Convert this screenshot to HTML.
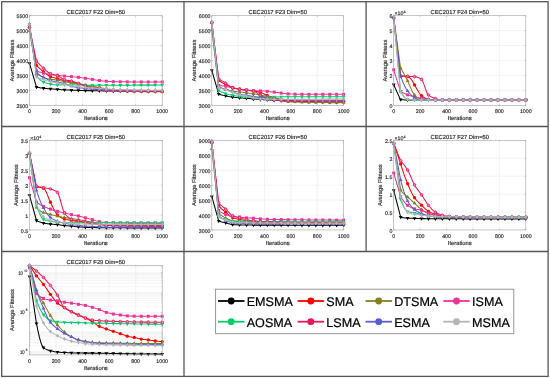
<!DOCTYPE html>
<html><head><meta charset="utf-8"><style>
html,body{margin:0;padding:0;background:#fff;}
svg{display:block;will-change:transform;filter:blur(0.3px);}
text{font-family:"Liberation Sans",sans-serif;text-rendering:geometricPrecision;}
.s{stroke:#303030;stroke-width:0.16px;}
</style></head><body>
<svg width="550" height="378" viewBox="0 0 550 378">
<rect width="550" height="378" fill="#fff"/>
<line x1="29.50" y1="90.37" x2="162.20" y2="90.37" stroke="#e6e6e6" stroke-width="0.5"/>
<line x1="29.50" y1="75.43" x2="162.20" y2="75.43" stroke="#e6e6e6" stroke-width="0.5"/>
<line x1="29.50" y1="60.50" x2="162.20" y2="60.50" stroke="#e6e6e6" stroke-width="0.5"/>
<line x1="29.50" y1="45.57" x2="162.20" y2="45.57" stroke="#e6e6e6" stroke-width="0.5"/>
<line x1="29.50" y1="30.63" x2="162.20" y2="30.63" stroke="#e6e6e6" stroke-width="0.5"/>
<line x1="56.04" y1="15.70" x2="56.04" y2="105.30" stroke="#e6e6e6" stroke-width="0.5"/>
<line x1="82.58" y1="15.70" x2="82.58" y2="105.30" stroke="#e6e6e6" stroke-width="0.5"/>
<line x1="109.12" y1="15.70" x2="109.12" y2="105.30" stroke="#e6e6e6" stroke-width="0.5"/>
<line x1="135.66" y1="15.70" x2="135.66" y2="105.30" stroke="#e6e6e6" stroke-width="0.5"/>
<path d="M29.5 63.3L36.5 87.2L37.9 87.4L39.3 87.6L40.7 87.9L42.1 88.0L43.6 88.2L45.0 88.4L46.4 88.5L47.8 88.7L49.2 88.8L50.6 88.9L52.0 89.0L53.4 89.1L54.9 89.2L56.3 89.3L57.7 89.4L59.1 89.5L60.5 89.6L61.9 89.7L63.3 89.7L64.7 89.8L66.2 89.9L67.6 90.0L69.0 90.1L70.4 90.2L71.8 90.2L73.2 90.3L74.6 90.3L76.0 90.3L77.5 90.4L78.9 90.4L80.3 90.4L81.7 90.5L83.1 90.5L84.5 90.5L85.9 90.6L87.3 90.6L88.8 90.6L90.2 90.6L91.6 90.7L93.0 90.7L94.4 90.7L95.8 90.7L97.2 90.8L98.6 90.8L100.1 90.8L101.5 90.8L102.9 90.9L104.3 90.9L105.7 90.9L107.1 90.9L108.5 90.9L109.9 91.0L111.4 91.0L112.8 91.0L114.2 91.0L115.6 91.0L117.0 91.1L118.4 91.1L119.8 91.1L121.2 91.1L122.7 91.1L124.1 91.1L125.5 91.1L126.9 91.2L128.3 91.2L129.7 91.2L131.1 91.2L132.5 91.2L134.0 91.2L135.4 91.3L136.8 91.3L138.2 91.3L139.6 91.3L141.0 91.3L142.4 91.3L143.8 91.3L145.3 91.4L146.7 91.4L148.1 91.4L149.5 91.4L150.9 91.4L152.3 91.4L153.7 91.4L155.1 91.4L156.6 91.5L158.0 91.5L159.4 91.5L160.8 91.5L162.2 91.5" fill="none" stroke="#000000" stroke-width="1.05" stroke-linejoin="round"/>
<path d="M27.59 62.20L31.41 62.20L29.50 65.50Z" fill="#000000"/>
<path d="M34.57 86.05L38.40 86.05L36.48 89.35Z" fill="#000000"/>
<path d="M41.55 87.11L45.38 87.11L43.47 90.41Z" fill="#000000"/>
<path d="M48.54 87.80L52.37 87.80L50.45 91.10Z" fill="#000000"/>
<path d="M55.52 88.30L59.35 88.30L57.44 91.60Z" fill="#000000"/>
<path d="M62.51 88.70L66.34 88.70L64.42 92.00Z" fill="#000000"/>
<path d="M69.49 89.10L73.32 89.10L71.41 92.40Z" fill="#000000"/>
<path d="M76.48 89.30L80.30 89.30L78.39 92.60Z" fill="#000000"/>
<path d="M83.46 89.46L87.29 89.46L85.37 92.76Z" fill="#000000"/>
<path d="M90.44 89.59L94.27 89.59L92.36 92.89Z" fill="#000000"/>
<path d="M97.43 89.71L101.26 89.71L99.34 93.01Z" fill="#000000"/>
<path d="M104.41 89.81L108.24 89.81L106.33 93.11Z" fill="#000000"/>
<path d="M111.40 89.90L115.22 89.90L113.31 93.20Z" fill="#000000"/>
<path d="M118.38 89.99L122.21 89.99L120.29 93.29Z" fill="#000000"/>
<path d="M125.36 90.07L129.19 90.07L127.28 93.37Z" fill="#000000"/>
<path d="M132.35 90.15L136.18 90.15L134.26 93.45Z" fill="#000000"/>
<path d="M139.33 90.22L143.16 90.22L141.25 93.52Z" fill="#000000"/>
<path d="M146.32 90.28L150.15 90.28L148.23 93.58Z" fill="#000000"/>
<path d="M153.30 90.35L157.13 90.35L155.22 93.65Z" fill="#000000"/>
<path d="M160.29 90.40L164.11 90.40L162.20 93.70Z" fill="#000000"/>
<path d="M29.5 27.5L36.5 65.5L37.9 66.8L39.3 68.1L40.7 69.4L42.1 70.6L43.6 71.7L45.0 72.9L46.4 74.0L47.8 75.1L49.2 76.0L50.6 76.7L52.0 77.2L53.4 77.6L54.9 77.9L56.3 78.3L57.7 78.7L59.1 79.1L60.5 79.5L61.9 79.9L63.3 80.3L64.7 80.7L66.2 81.0L67.6 81.3L69.0 81.6L70.4 81.9L71.8 82.2L73.2 82.5L74.6 82.8L76.0 83.1L77.5 83.4L78.9 83.7L80.3 84.0L81.7 84.3L83.1 84.6L84.5 84.9L85.9 85.1L87.3 85.4L88.8 85.7L90.2 86.0L91.6 86.2L93.0 86.5L94.4 86.8L95.8 87.0L97.2 87.3L98.6 87.5L100.1 87.8L101.5 88.1L102.9 88.3L104.3 88.6L105.7 88.9L107.1 89.2L108.5 89.4L109.9 89.6L111.4 89.8L112.8 89.9L114.2 90.1L115.6 90.2L117.0 90.3L118.4 90.3L119.8 90.4L121.2 90.5L122.7 90.6L124.1 90.6L125.5 90.7L126.9 90.7L128.3 90.8L129.7 90.8L131.1 90.8L132.5 90.9L134.0 90.9L135.4 90.9L136.8 90.9L138.2 91.0L139.6 91.0L141.0 91.0L142.4 91.0L143.8 91.1L145.3 91.1L146.7 91.1L148.1 91.1L149.5 91.1L150.9 91.1L152.3 91.2L153.7 91.2L155.1 91.2L156.6 91.2L158.0 91.2L159.4 91.2L160.8 91.2L162.2 91.2" fill="none" stroke="#ff0000" stroke-width="1.05" stroke-linejoin="round"/>
<circle cx="29.50" cy="27.50" r="1.65" fill="#ff0000"/>
<circle cx="36.48" cy="65.41" r="1.65" fill="#ff0000"/>
<circle cx="43.47" cy="71.65" r="1.65" fill="#ff0000"/>
<circle cx="50.45" cy="76.62" r="1.65" fill="#ff0000"/>
<circle cx="57.44" cy="78.61" r="1.65" fill="#ff0000"/>
<circle cx="64.42" cy="80.61" r="1.65" fill="#ff0000"/>
<circle cx="71.41" cy="82.12" r="1.65" fill="#ff0000"/>
<circle cx="78.39" cy="83.62" r="1.65" fill="#ff0000"/>
<circle cx="85.37" cy="85.03" r="1.65" fill="#ff0000"/>
<circle cx="92.36" cy="86.38" r="1.65" fill="#ff0000"/>
<circle cx="99.34" cy="87.66" r="1.65" fill="#ff0000"/>
<circle cx="106.33" cy="89.01" r="1.65" fill="#ff0000"/>
<circle cx="113.31" cy="89.99" r="1.65" fill="#ff0000"/>
<circle cx="120.29" cy="90.44" r="1.65" fill="#ff0000"/>
<circle cx="127.28" cy="90.73" r="1.65" fill="#ff0000"/>
<circle cx="134.26" cy="90.89" r="1.65" fill="#ff0000"/>
<circle cx="141.25" cy="91.01" r="1.65" fill="#ff0000"/>
<circle cx="148.23" cy="91.11" r="1.65" fill="#ff0000"/>
<circle cx="155.22" cy="91.18" r="1.65" fill="#ff0000"/>
<circle cx="162.20" cy="91.20" r="1.65" fill="#ff0000"/>
<path d="M29.5 30.6L36.5 72.0L37.9 73.5L39.3 74.9L40.7 76.1L42.1 77.0L43.6 77.7L45.0 78.1L46.4 78.4L47.8 78.7L49.2 78.9L50.6 79.1L52.0 79.4L53.4 79.5L54.9 79.7L56.3 79.9L57.7 80.2L59.1 80.4L60.5 80.7L61.9 81.1L63.3 81.4L64.7 81.7L66.2 81.9L67.6 82.2L69.0 82.4L70.4 82.7L71.8 82.9L73.2 83.1L74.6 83.4L76.0 83.6L77.5 83.8L78.9 84.1L80.3 84.4L81.7 84.6L83.1 84.9L84.5 85.2L85.9 85.5L87.3 85.7L88.8 86.0L90.2 86.3L91.6 86.6L93.0 86.8L94.4 87.1L95.8 87.4L97.2 87.7L98.6 87.9L100.1 88.2L101.5 88.5L102.9 88.8L104.3 89.1L105.7 89.4L107.1 89.7L108.5 90.0L109.9 90.2L111.4 90.4L112.8 90.5L114.2 90.6L115.6 90.6L117.0 90.7L118.4 90.8L119.8 90.8L121.2 90.9L122.7 91.0L124.1 91.0L125.5 91.1L126.9 91.1L128.3 91.2L129.7 91.2L131.1 91.3L132.5 91.3L134.0 91.4L135.4 91.4L136.8 91.5L138.2 91.5L139.6 91.5L141.0 91.6L142.4 91.6L143.8 91.6L145.3 91.6L146.7 91.7L148.1 91.7L149.5 91.7L150.9 91.7L152.3 91.7L153.7 91.8L155.1 91.8L156.6 91.8L158.0 91.8L159.4 91.8L160.8 91.8L162.2 91.8" fill="none" stroke="#808020" stroke-width="1.05" stroke-linejoin="round"/>
<path d="M27.59 31.70L31.41 31.70L29.50 28.40Z" fill="#808020"/>
<path d="M34.57 73.01L38.40 73.01L36.48 69.71Z" fill="#808020"/>
<path d="M41.55 78.72L45.38 78.72L43.47 75.42Z" fill="#808020"/>
<path d="M48.54 80.21L52.37 80.21L50.45 76.91Z" fill="#808020"/>
<path d="M55.52 81.21L59.35 81.21L57.44 77.91Z" fill="#808020"/>
<path d="M62.51 82.70L66.34 82.70L64.42 79.40Z" fill="#808020"/>
<path d="M69.49 83.93L73.32 83.93L71.41 80.63Z" fill="#808020"/>
<path d="M76.48 85.12L80.30 85.12L78.39 81.82Z" fill="#808020"/>
<path d="M83.46 86.44L87.29 86.44L85.37 83.14Z" fill="#808020"/>
<path d="M90.44 87.82L94.27 87.82L92.36 84.52Z" fill="#808020"/>
<path d="M97.43 89.16L101.26 89.16L99.34 85.86Z" fill="#808020"/>
<path d="M104.41 90.65L108.24 90.65L106.33 87.35Z" fill="#808020"/>
<path d="M111.40 91.62L115.22 91.62L113.31 88.32Z" fill="#808020"/>
<path d="M118.38 91.96L122.21 91.96L120.29 88.66Z" fill="#808020"/>
<path d="M125.36 92.25L129.19 92.25L127.28 88.95Z" fill="#808020"/>
<path d="M132.35 92.49L136.18 92.49L134.26 89.19Z" fill="#808020"/>
<path d="M139.33 92.67L143.16 92.67L141.25 89.37Z" fill="#808020"/>
<path d="M146.32 92.80L150.15 92.80L148.23 89.50Z" fill="#808020"/>
<path d="M153.30 92.88L157.13 92.88L155.22 89.58Z" fill="#808020"/>
<path d="M160.29 92.90L164.11 92.90L162.20 89.60Z" fill="#808020"/>
<path d="M29.5 27.5L36.5 70.9L37.9 71.4L39.3 71.9L40.7 72.3L42.1 72.8L43.6 73.1L45.0 73.5L46.4 73.8L47.8 74.1L49.2 74.4L50.6 74.6L52.0 74.8L53.4 74.9L54.9 75.1L56.3 75.2L57.7 75.3L59.1 75.5L60.5 75.7L61.9 75.8L63.3 76.0L64.7 76.1L66.2 76.2L67.6 76.3L69.0 76.4L70.4 76.5L71.8 76.6L73.2 76.8L74.6 76.9L76.0 77.0L77.5 77.2L78.9 77.4L80.3 77.6L81.7 77.8L83.1 78.0L84.5 78.2L85.9 78.4L87.3 78.6L88.8 78.8L90.2 79.1L91.6 79.3L93.0 79.5L94.4 79.7L95.8 80.0L97.2 80.2L98.6 80.4L100.1 80.5L101.5 80.7L102.9 80.9L104.3 81.0L105.7 81.2L107.1 81.3L108.5 81.4L109.9 81.5L111.4 81.6L112.8 81.7L114.2 81.7L115.6 81.7L117.0 81.7L118.4 81.8L119.8 81.8L121.2 81.8L122.7 81.8L124.1 81.8L125.5 81.8L126.9 81.9L128.3 81.9L129.7 81.9L131.1 81.9L132.5 81.9L134.0 81.9L135.4 81.9L136.8 81.9L138.2 81.9L139.6 81.9L141.0 82.0L142.4 82.0L143.8 82.0L145.3 82.0L146.7 82.0L148.1 82.0L149.5 82.0L150.9 82.0L152.3 82.0L153.7 82.0L155.1 82.0L156.6 82.0L158.0 82.0L159.4 82.0L160.8 82.0L162.2 82.0" fill="none" stroke="#ee3399" stroke-width="1.05" stroke-linejoin="round"/>
<rect x="28.00" y="26.00" width="3.00" height="3.00" fill="#ee3399"/>
<rect x="34.98" y="69.30" width="3.00" height="3.00" fill="#ee3399"/>
<rect x="41.97" y="71.62" width="3.00" height="3.00" fill="#ee3399"/>
<rect x="48.95" y="73.11" width="3.00" height="3.00" fill="#ee3399"/>
<rect x="55.94" y="73.80" width="3.00" height="3.00" fill="#ee3399"/>
<rect x="62.92" y="74.60" width="3.00" height="3.00" fill="#ee3399"/>
<rect x="69.91" y="75.11" width="3.00" height="3.00" fill="#ee3399"/>
<rect x="76.89" y="75.81" width="3.00" height="3.00" fill="#ee3399"/>
<rect x="83.87" y="76.80" width="3.00" height="3.00" fill="#ee3399"/>
<rect x="90.86" y="77.91" width="3.00" height="3.00" fill="#ee3399"/>
<rect x="97.84" y="78.94" width="3.00" height="3.00" fill="#ee3399"/>
<rect x="104.83" y="79.71" width="3.00" height="3.00" fill="#ee3399"/>
<rect x="111.81" y="80.20" width="3.00" height="3.00" fill="#ee3399"/>
<rect x="118.79" y="80.29" width="3.00" height="3.00" fill="#ee3399"/>
<rect x="125.78" y="80.36" width="3.00" height="3.00" fill="#ee3399"/>
<rect x="132.76" y="80.42" width="3.00" height="3.00" fill="#ee3399"/>
<rect x="139.75" y="80.46" width="3.00" height="3.00" fill="#ee3399"/>
<rect x="146.73" y="80.48" width="3.00" height="3.00" fill="#ee3399"/>
<rect x="153.72" y="80.50" width="3.00" height="3.00" fill="#ee3399"/>
<rect x="160.70" y="80.50" width="3.00" height="3.00" fill="#ee3399"/>
<path d="M29.5 24.3L36.5 75.6L37.9 77.3L39.3 78.9L40.7 80.3L42.1 81.4L43.6 82.2L45.0 82.7L46.4 83.1L47.8 83.5L49.2 83.8L50.6 84.0L52.0 84.3L53.4 84.6L54.9 84.8L56.3 85.0L57.7 85.0L59.1 85.0L60.5 84.9L61.9 84.8L63.3 84.7L64.7 84.7L66.2 84.7L67.6 84.7L69.0 84.7L70.4 84.7L71.8 84.7L73.2 84.7L74.6 84.8L76.0 84.9L77.5 85.0L78.9 85.0L80.3 85.0L81.7 85.1L83.1 85.1L84.5 85.1L85.9 85.1L87.3 85.2L88.8 85.2L90.2 85.2L91.6 85.2L93.0 85.2L94.4 85.2L95.8 85.2L97.2 85.2L98.6 85.2L100.1 85.2L101.5 85.2L102.9 85.2L104.3 85.2L105.7 85.2L107.1 85.2L108.5 85.2L109.9 85.2L111.4 85.2L112.8 85.2L114.2 85.2L115.6 85.2L117.0 85.2L118.4 85.2L119.8 85.2L121.2 85.2L122.7 85.2L124.1 85.2L125.5 85.2L126.9 85.2L128.3 85.2L129.7 85.2L131.1 85.2L132.5 85.2L134.0 85.2L135.4 85.2L136.8 85.1L138.2 85.1L139.6 85.1L141.0 85.1L142.4 85.1L143.8 85.1L145.3 85.1L146.7 85.1L148.1 85.1L149.5 85.1L150.9 85.1L152.3 85.1L153.7 85.1L155.1 85.1L156.6 85.0L158.0 85.0L159.4 85.0L160.8 85.0L162.2 85.0" fill="none" stroke="#00cc66" stroke-width="1.05" stroke-linejoin="round"/>
<path d="M27.59 23.20L31.41 23.20L29.50 26.50Z" fill="#00cc66"/>
<path d="M34.57 74.38L38.40 74.38L36.48 77.68Z" fill="#00cc66"/>
<path d="M41.55 81.03L45.38 81.03L43.47 84.33Z" fill="#00cc66"/>
<path d="M48.54 82.91L52.37 82.91L50.45 86.21Z" fill="#00cc66"/>
<path d="M55.52 83.90L59.35 83.90L57.44 87.20Z" fill="#00cc66"/>
<path d="M62.51 83.60L66.34 83.60L64.42 86.90Z" fill="#00cc66"/>
<path d="M69.49 83.60L73.32 83.60L71.41 86.90Z" fill="#00cc66"/>
<path d="M76.48 83.90L80.30 83.90L78.39 87.20Z" fill="#00cc66"/>
<path d="M83.46 84.04L87.29 84.04L85.37 87.34Z" fill="#00cc66"/>
<path d="M90.44 84.10L94.27 84.10L92.36 87.40Z" fill="#00cc66"/>
<path d="M97.43 84.10L101.26 84.10L99.34 87.40Z" fill="#00cc66"/>
<path d="M104.41 84.10L108.24 84.10L106.33 87.40Z" fill="#00cc66"/>
<path d="M111.40 84.09L115.22 84.09L113.31 87.39Z" fill="#00cc66"/>
<path d="M118.38 84.09L122.21 84.09L120.29 87.39Z" fill="#00cc66"/>
<path d="M125.36 84.08L129.19 84.08L127.28 87.38Z" fill="#00cc66"/>
<path d="M132.35 84.06L136.18 84.06L134.26 87.36Z" fill="#00cc66"/>
<path d="M139.33 84.03L143.16 84.03L141.25 87.33Z" fill="#00cc66"/>
<path d="M146.32 84.00L150.15 84.00L148.23 87.30Z" fill="#00cc66"/>
<path d="M153.30 83.95L157.13 83.95L155.22 87.25Z" fill="#00cc66"/>
<path d="M160.29 83.90L164.11 83.90L162.20 87.20Z" fill="#00cc66"/>
<path d="M29.5 27.5L36.5 61.0L37.9 62.6L39.3 64.1L40.7 65.6L42.1 67.0L43.6 68.2L45.0 69.5L46.4 70.8L47.8 72.0L49.2 73.0L50.6 73.7L52.0 74.2L53.4 74.5L54.9 74.9L56.3 75.2L57.7 75.7L59.1 76.5L60.5 77.4L61.9 78.3L63.3 79.2L64.7 79.7L66.2 80.1L67.6 80.4L69.0 80.6L70.4 80.9L71.8 81.2L73.2 81.6L74.6 82.0L76.0 82.5L77.5 82.9L78.9 83.4L80.3 84.0L81.7 84.6L83.1 85.1L84.5 85.7L85.9 86.2L87.3 86.6L88.8 87.1L90.2 87.5L91.6 87.9L93.0 88.3L94.4 88.6L95.8 88.9L97.2 89.2L98.6 89.4L100.1 89.6L101.5 89.8L102.9 90.0L104.3 90.2L105.7 90.3L107.1 90.4L108.5 90.6L109.9 90.7L111.4 90.7L112.8 90.8L114.2 90.8L115.6 90.9L117.0 90.9L118.4 90.9L119.8 91.0L121.2 91.0L122.7 91.0L124.1 91.1L125.5 91.1L126.9 91.1L128.3 91.2L129.7 91.2L131.1 91.2L132.5 91.2L134.0 91.3L135.4 91.3L136.8 91.3L138.2 91.3L139.6 91.4L141.0 91.4L142.4 91.4L143.8 91.4L145.3 91.4L146.7 91.4L148.1 91.4L149.5 91.5L150.9 91.5L152.3 91.5L153.7 91.5L155.1 91.5L156.6 91.5L158.0 91.5L159.4 91.5L160.8 91.5L162.2 91.5" fill="none" stroke="#e6195a" stroke-width="1.05" stroke-linejoin="round"/>
<circle cx="29.50" cy="27.50" r="1.3" fill="#f280a8" stroke="#e6195a" stroke-width="0.8"/>
<circle cx="36.48" cy="60.92" r="1.3" fill="#f280a8" stroke="#e6195a" stroke-width="0.8"/>
<circle cx="43.47" cy="68.16" r="1.3" fill="#f280a8" stroke="#e6195a" stroke-width="0.8"/>
<circle cx="50.45" cy="73.62" r="1.3" fill="#f280a8" stroke="#e6195a" stroke-width="0.8"/>
<circle cx="57.44" cy="75.61" r="1.3" fill="#f280a8" stroke="#e6195a" stroke-width="0.8"/>
<circle cx="64.42" cy="79.61" r="1.3" fill="#f280a8" stroke="#e6195a" stroke-width="0.8"/>
<circle cx="71.41" cy="81.13" r="1.3" fill="#f280a8" stroke="#e6195a" stroke-width="0.8"/>
<circle cx="78.39" cy="83.23" r="1.3" fill="#f280a8" stroke="#e6195a" stroke-width="0.8"/>
<circle cx="85.37" cy="85.99" r="1.3" fill="#f280a8" stroke="#e6195a" stroke-width="0.8"/>
<circle cx="92.36" cy="88.10" r="1.3" fill="#f280a8" stroke="#e6195a" stroke-width="0.8"/>
<circle cx="99.34" cy="89.55" r="1.3" fill="#f280a8" stroke="#e6195a" stroke-width="0.8"/>
<circle cx="106.33" cy="90.37" r="1.3" fill="#f280a8" stroke="#e6195a" stroke-width="0.8"/>
<circle cx="113.31" cy="90.81" r="1.3" fill="#f280a8" stroke="#e6195a" stroke-width="0.8"/>
<circle cx="120.29" cy="90.99" r="1.3" fill="#f280a8" stroke="#e6195a" stroke-width="0.8"/>
<circle cx="127.28" cy="91.15" r="1.3" fill="#f280a8" stroke="#e6195a" stroke-width="0.8"/>
<circle cx="134.26" cy="91.28" r="1.3" fill="#f280a8" stroke="#e6195a" stroke-width="0.8"/>
<circle cx="141.25" cy="91.37" r="1.3" fill="#f280a8" stroke="#e6195a" stroke-width="0.8"/>
<circle cx="148.23" cy="91.44" r="1.3" fill="#f280a8" stroke="#e6195a" stroke-width="0.8"/>
<circle cx="155.22" cy="91.49" r="1.3" fill="#f280a8" stroke="#e6195a" stroke-width="0.8"/>
<circle cx="162.20" cy="91.50" r="1.3" fill="#f280a8" stroke="#e6195a" stroke-width="0.8"/>
<path d="M29.5 24.3L36.5 74.1L37.9 74.7L39.3 75.3L40.7 75.9L42.1 76.5L43.6 77.2L45.0 77.9L46.4 78.7L47.8 79.5L49.2 80.2L50.6 80.7L52.0 81.0L53.4 81.3L54.9 81.6L56.3 81.9L57.7 82.2L59.1 82.4L60.5 82.7L61.9 83.0L63.3 83.3L64.7 83.7L66.2 84.2L67.6 84.8L69.0 85.4L70.4 85.9L71.8 86.3L73.2 86.7L74.6 87.0L76.0 87.3L77.5 87.6L78.9 87.8L80.3 88.0L81.7 88.1L83.1 88.3L84.5 88.4L85.9 88.6L87.3 88.7L88.8 88.9L90.2 89.0L91.6 89.1L93.0 89.2L94.4 89.3L95.8 89.4L97.2 89.4L98.6 89.5L100.1 89.5L101.5 89.6L102.9 89.6L104.3 89.7L105.7 89.7L107.1 89.8L108.5 89.8L109.9 89.8L111.4 89.9L112.8 89.9L114.2 89.9L115.6 90.0L117.0 90.0L118.4 90.0L119.8 90.0L121.2 90.1L122.7 90.1L124.1 90.1L125.5 90.1L126.9 90.2L128.3 90.2L129.7 90.2L131.1 90.2L132.5 90.2L134.0 90.3L135.4 90.3L136.8 90.3L138.2 90.3L139.6 90.3L141.0 90.3L142.4 90.4L143.8 90.4L145.3 90.4L146.7 90.4L148.1 90.4L149.5 90.4L150.9 90.4L152.3 90.4L153.7 90.5L155.1 90.5L156.6 90.5L158.0 90.5L159.4 90.5L160.8 90.5L162.2 90.5" fill="none" stroke="#5c5cd0" stroke-width="1.05" stroke-linejoin="round"/>
<path d="M27.59 25.40L31.41 25.40L29.50 22.10Z" fill="#5c5cd0"/>
<path d="M34.57 75.09L38.40 75.09L36.48 71.79Z" fill="#5c5cd0"/>
<path d="M41.55 78.23L45.38 78.23L43.47 74.93Z" fill="#5c5cd0"/>
<path d="M48.54 81.72L52.37 81.72L50.45 78.42Z" fill="#5c5cd0"/>
<path d="M55.52 83.21L59.35 83.21L57.44 79.91Z" fill="#5c5cd0"/>
<path d="M62.51 84.71L66.34 84.71L64.42 81.41Z" fill="#5c5cd0"/>
<path d="M69.49 87.33L73.32 87.33L71.41 84.03Z" fill="#5c5cd0"/>
<path d="M76.48 88.81L80.30 88.81L78.39 85.51Z" fill="#5c5cd0"/>
<path d="M83.46 89.64L87.29 89.64L85.37 86.34Z" fill="#5c5cd0"/>
<path d="M90.44 90.24L94.27 90.24L92.36 86.94Z" fill="#5c5cd0"/>
<path d="M97.43 90.61L101.26 90.61L99.34 87.31Z" fill="#5c5cd0"/>
<path d="M104.41 90.84L108.24 90.84L106.33 87.54Z" fill="#5c5cd0"/>
<path d="M111.40 91.02L115.22 91.02L113.31 87.72Z" fill="#5c5cd0"/>
<path d="M118.38 91.15L122.21 91.15L120.29 87.85Z" fill="#5c5cd0"/>
<path d="M125.36 91.26L129.19 91.26L127.28 87.96Z" fill="#5c5cd0"/>
<path d="M132.35 91.36L136.18 91.36L134.26 88.06Z" fill="#5c5cd0"/>
<path d="M139.33 91.44L143.16 91.44L141.25 88.14Z" fill="#5c5cd0"/>
<path d="M146.32 91.51L150.15 91.51L148.23 88.21Z" fill="#5c5cd0"/>
<path d="M153.30 91.57L157.13 91.57L155.22 88.27Z" fill="#5c5cd0"/>
<path d="M160.29 91.60L164.11 91.60L162.20 88.30Z" fill="#5c5cd0"/>
<path d="M29.5 24.3L36.5 77.1L37.9 77.7L39.3 78.2L40.7 78.7L42.1 79.2L43.6 79.7L45.0 80.1L46.4 80.5L47.8 80.9L49.2 81.3L50.6 81.7L52.0 82.0L53.4 82.2L54.9 82.5L56.3 82.8L57.7 83.1L59.1 83.4L60.5 83.7L61.9 84.0L63.3 84.3L64.7 84.6L66.2 84.8L67.6 85.0L69.0 85.3L70.4 85.5L71.8 85.7L73.2 85.9L74.6 86.0L76.0 86.2L77.5 86.4L78.9 86.6L80.3 86.7L81.7 86.9L83.1 87.1L84.5 87.2L85.9 87.4L87.3 87.5L88.8 87.7L90.2 87.8L91.6 87.9L93.0 88.1L94.4 88.2L95.8 88.3L97.2 88.4L98.6 88.5L100.1 88.6L101.5 88.6L102.9 88.7L104.3 88.8L105.7 88.9L107.1 89.0L108.5 89.0L109.9 89.1L111.4 89.2L112.8 89.2L114.2 89.3L115.6 89.4L117.0 89.4L118.4 89.5L119.8 89.5L121.2 89.6L122.7 89.6L124.1 89.7L125.5 89.7L126.9 89.7L128.3 89.8L129.7 89.8L131.1 89.8L132.5 89.8L134.0 89.9L135.4 89.9L136.8 89.9L138.2 90.0L139.6 90.0L141.0 90.0L142.4 90.0L143.8 90.0L145.3 90.1L146.7 90.1L148.1 90.1L149.5 90.1L150.9 90.1L152.3 90.2L153.7 90.2L155.1 90.2L156.6 90.2L158.0 90.2L159.4 90.2L160.8 90.2L162.2 90.2" fill="none" stroke="#b4b4b4" stroke-width="1.05" stroke-linejoin="round"/>
<path d="M29.50 22.20L31.10 24.30L29.50 26.40L27.90 24.30Z" fill="#b4b4b4"/>
<path d="M36.48 74.88L38.08 76.98L36.48 79.08L34.88 76.98Z" fill="#b4b4b4"/>
<path d="M43.47 77.52L45.07 79.62L43.47 81.72L41.87 79.62Z" fill="#b4b4b4"/>
<path d="M50.45 79.51L52.05 81.61L50.45 83.71L48.85 81.61Z" fill="#b4b4b4"/>
<path d="M57.44 80.91L59.04 83.01L57.44 85.11L55.84 83.01Z" fill="#b4b4b4"/>
<path d="M64.42 82.40L66.02 84.50L64.42 86.60L62.82 84.50Z" fill="#b4b4b4"/>
<path d="M71.41 83.51L73.01 85.61L71.41 87.71L69.81 85.61Z" fill="#b4b4b4"/>
<path d="M78.39 84.41L79.99 86.51L78.39 88.61L76.79 86.51Z" fill="#b4b4b4"/>
<path d="M85.37 85.20L86.97 87.30L85.37 89.40L83.77 87.30Z" fill="#b4b4b4"/>
<path d="M92.36 85.90L93.96 88.00L92.36 90.10L90.76 88.00Z" fill="#b4b4b4"/>
<path d="M99.34 86.42L100.94 88.52L99.34 90.62L97.74 88.52Z" fill="#b4b4b4"/>
<path d="M106.33 86.81L107.93 88.91L106.33 91.01L104.73 88.91Z" fill="#b4b4b4"/>
<path d="M113.31 87.16L114.91 89.26L113.31 91.36L111.71 89.26Z" fill="#b4b4b4"/>
<path d="M120.29 87.43L121.89 89.53L120.29 91.63L118.69 89.53Z" fill="#b4b4b4"/>
<path d="M127.28 87.64L128.88 89.74L127.28 91.84L125.68 89.74Z" fill="#b4b4b4"/>
<path d="M134.26 87.78L135.86 89.88L134.26 91.98L132.66 89.88Z" fill="#b4b4b4"/>
<path d="M141.25 87.90L142.85 90.00L141.25 92.10L139.65 90.00Z" fill="#b4b4b4"/>
<path d="M148.23 88.01L149.83 90.11L148.23 92.21L146.63 90.11Z" fill="#b4b4b4"/>
<path d="M155.22 88.08L156.82 90.18L155.22 92.28L153.62 90.18Z" fill="#b4b4b4"/>
<path d="M162.20 88.10L163.80 90.20L162.20 92.30L160.60 90.20Z" fill="#b4b4b4"/>
<rect x="29.50" y="15.70" width="132.70" height="89.60" fill="none" stroke="#a0a0a0" stroke-width="0.6"/>
<line x1="29.50" y1="105.30" x2="29.50" y2="104.10" stroke="#a0a0a0" stroke-width="0.5"/>
<line x1="29.50" y1="15.70" x2="29.50" y2="16.90" stroke="#a0a0a0" stroke-width="0.5"/>
<text class="s" x="29.50" y="113.00" font-size="5.27" text-anchor="middle" fill="#262626">0</text>
<line x1="56.04" y1="105.30" x2="56.04" y2="104.10" stroke="#a0a0a0" stroke-width="0.5"/>
<line x1="56.04" y1="15.70" x2="56.04" y2="16.90" stroke="#a0a0a0" stroke-width="0.5"/>
<text class="s" x="56.04" y="113.00" font-size="5.27" text-anchor="middle" fill="#262626">200</text>
<line x1="82.58" y1="105.30" x2="82.58" y2="104.10" stroke="#a0a0a0" stroke-width="0.5"/>
<line x1="82.58" y1="15.70" x2="82.58" y2="16.90" stroke="#a0a0a0" stroke-width="0.5"/>
<text class="s" x="82.58" y="113.00" font-size="5.27" text-anchor="middle" fill="#262626">400</text>
<line x1="109.12" y1="105.30" x2="109.12" y2="104.10" stroke="#a0a0a0" stroke-width="0.5"/>
<line x1="109.12" y1="15.70" x2="109.12" y2="16.90" stroke="#a0a0a0" stroke-width="0.5"/>
<text class="s" x="109.12" y="113.00" font-size="5.27" text-anchor="middle" fill="#262626">600</text>
<line x1="135.66" y1="105.30" x2="135.66" y2="104.10" stroke="#a0a0a0" stroke-width="0.5"/>
<line x1="135.66" y1="15.70" x2="135.66" y2="16.90" stroke="#a0a0a0" stroke-width="0.5"/>
<text class="s" x="135.66" y="113.00" font-size="5.27" text-anchor="middle" fill="#262626">800</text>
<line x1="162.20" y1="105.30" x2="162.20" y2="104.10" stroke="#a0a0a0" stroke-width="0.5"/>
<line x1="162.20" y1="15.70" x2="162.20" y2="16.90" stroke="#a0a0a0" stroke-width="0.5"/>
<text class="s" x="162.20" y="113.00" font-size="5.27" text-anchor="middle" fill="#262626">1000</text>
<text class="s" x="28.20" y="107.90" font-size="5.27" text-anchor="end" fill="#262626">2500</text>
<line x1="29.50" y1="105.30" x2="30.70" y2="105.30" stroke="#a0a0a0" stroke-width="0.5"/>
<line x1="162.20" y1="105.30" x2="161.00" y2="105.30" stroke="#a0a0a0" stroke-width="0.5"/>
<text class="s" x="28.20" y="92.97" font-size="5.27" text-anchor="end" fill="#262626">3000</text>
<line x1="29.50" y1="90.37" x2="30.70" y2="90.37" stroke="#a0a0a0" stroke-width="0.5"/>
<line x1="162.20" y1="90.37" x2="161.00" y2="90.37" stroke="#a0a0a0" stroke-width="0.5"/>
<text class="s" x="28.20" y="78.03" font-size="5.27" text-anchor="end" fill="#262626">3500</text>
<line x1="29.50" y1="75.43" x2="30.70" y2="75.43" stroke="#a0a0a0" stroke-width="0.5"/>
<line x1="162.20" y1="75.43" x2="161.00" y2="75.43" stroke="#a0a0a0" stroke-width="0.5"/>
<text class="s" x="28.20" y="63.10" font-size="5.27" text-anchor="end" fill="#262626">4000</text>
<line x1="29.50" y1="60.50" x2="30.70" y2="60.50" stroke="#a0a0a0" stroke-width="0.5"/>
<line x1="162.20" y1="60.50" x2="161.00" y2="60.50" stroke="#a0a0a0" stroke-width="0.5"/>
<text class="s" x="28.20" y="48.17" font-size="5.27" text-anchor="end" fill="#262626">4500</text>
<line x1="29.50" y1="45.57" x2="30.70" y2="45.57" stroke="#a0a0a0" stroke-width="0.5"/>
<line x1="162.20" y1="45.57" x2="161.00" y2="45.57" stroke="#a0a0a0" stroke-width="0.5"/>
<text class="s" x="28.20" y="33.23" font-size="5.27" text-anchor="end" fill="#262626">5000</text>
<line x1="29.50" y1="30.63" x2="30.70" y2="30.63" stroke="#a0a0a0" stroke-width="0.5"/>
<line x1="162.20" y1="30.63" x2="161.00" y2="30.63" stroke="#a0a0a0" stroke-width="0.5"/>
<text class="s" x="28.20" y="18.30" font-size="5.27" text-anchor="end" fill="#262626">5500</text>
<line x1="29.50" y1="15.70" x2="30.70" y2="15.70" stroke="#a0a0a0" stroke-width="0.5"/>
<line x1="162.20" y1="15.70" x2="161.00" y2="15.70" stroke="#a0a0a0" stroke-width="0.5"/>
<text class="s" x="95.85" y="14.10" font-size="5.8" text-anchor="middle" fill="#1a1a1a">CEC2017 F22 Dim=50</text>
<text class="s" x="95.85" y="119.90" font-size="5.8" text-anchor="middle" fill="#1a1a1a">Iterations</text>
<text class="s" transform="translate(13.50,60.50) rotate(-90)" x="0" y="0" font-size="5.8" text-anchor="middle" fill="#1a1a1a">Average Fitness</text>
<line x1="211.80" y1="90.37" x2="343.60" y2="90.37" stroke="#e6e6e6" stroke-width="0.5"/>
<line x1="211.80" y1="75.43" x2="343.60" y2="75.43" stroke="#e6e6e6" stroke-width="0.5"/>
<line x1="211.80" y1="60.50" x2="343.60" y2="60.50" stroke="#e6e6e6" stroke-width="0.5"/>
<line x1="211.80" y1="45.57" x2="343.60" y2="45.57" stroke="#e6e6e6" stroke-width="0.5"/>
<line x1="211.80" y1="30.63" x2="343.60" y2="30.63" stroke="#e6e6e6" stroke-width="0.5"/>
<line x1="238.16" y1="15.70" x2="238.16" y2="105.30" stroke="#e6e6e6" stroke-width="0.5"/>
<line x1="264.52" y1="15.70" x2="264.52" y2="105.30" stroke="#e6e6e6" stroke-width="0.5"/>
<line x1="290.88" y1="15.70" x2="290.88" y2="105.30" stroke="#e6e6e6" stroke-width="0.5"/>
<line x1="317.24" y1="15.70" x2="317.24" y2="105.30" stroke="#e6e6e6" stroke-width="0.5"/>
<path d="M211.8 70.4L218.7 94.1L220.1 94.5L221.5 94.9L222.9 95.3L224.3 95.6L225.7 95.9L227.1 96.2L228.5 96.5L229.9 96.7L231.3 96.9L232.7 97.1L234.1 97.3L235.5 97.4L236.9 97.6L238.3 97.7L239.8 97.8L241.2 97.9L242.6 98.1L244.0 98.2L245.4 98.3L246.8 98.4L248.2 98.5L249.6 98.6L251.0 98.8L252.4 98.9L253.8 99.0L255.2 99.1L256.6 99.2L258.0 99.3L259.4 99.4L260.8 99.5L262.2 99.6L263.6 99.7L265.0 99.8L266.4 99.8L267.8 99.9L269.2 100.0L270.6 100.0L272.0 100.1L273.4 100.2L274.8 100.2L276.2 100.3L277.6 100.4L279.0 100.5L280.4 100.5L281.9 100.6L283.3 100.7L284.7 100.8L286.1 100.8L287.5 100.9L288.9 101.0L290.3 101.1L291.7 101.1L293.1 101.2L294.5 101.3L295.9 101.4L297.3 101.4L298.7 101.5L300.1 101.5L301.5 101.5L302.9 101.6L304.3 101.6L305.7 101.7L307.1 101.7L308.5 101.7L309.9 101.8L311.3 101.8L312.7 101.8L314.1 101.9L315.5 101.9L316.9 101.9L318.3 102.0L319.7 102.0L321.1 102.0L322.5 102.1L324.0 102.1L325.4 102.1L326.8 102.1L328.2 102.2L329.6 102.2L331.0 102.2L332.4 102.2L333.8 102.2L335.2 102.3L336.6 102.3L338.0 102.3L339.4 102.3L340.8 102.3L342.2 102.3L343.6 102.3" fill="none" stroke="#000000" stroke-width="1.05" stroke-linejoin="round"/>
<path d="M209.89 69.30L213.71 69.30L211.80 72.60Z" fill="#000000"/>
<path d="M216.82 93.01L220.65 93.01L218.74 96.31Z" fill="#000000"/>
<path d="M223.76 94.82L227.59 94.82L225.67 98.12Z" fill="#000000"/>
<path d="M230.70 96.00L234.52 96.00L232.61 99.30Z" fill="#000000"/>
<path d="M237.63 96.70L241.46 96.70L239.55 100.00Z" fill="#000000"/>
<path d="M244.57 97.29L248.40 97.29L246.48 100.59Z" fill="#000000"/>
<path d="M251.51 97.87L255.34 97.87L253.42 101.17Z" fill="#000000"/>
<path d="M258.44 98.39L262.27 98.39L260.36 101.69Z" fill="#000000"/>
<path d="M265.38 98.78L269.21 98.78L267.29 102.08Z" fill="#000000"/>
<path d="M272.32 99.12L276.15 99.12L274.23 102.42Z" fill="#000000"/>
<path d="M279.25 99.46L283.08 99.46L281.17 102.76Z" fill="#000000"/>
<path d="M286.19 99.85L290.02 99.85L288.11 103.15Z" fill="#000000"/>
<path d="M293.13 100.21L296.96 100.21L295.04 103.51Z" fill="#000000"/>
<path d="M300.06 100.46L303.89 100.46L301.98 103.76Z" fill="#000000"/>
<path d="M307.00 100.64L310.83 100.64L308.92 103.94Z" fill="#000000"/>
<path d="M313.94 100.82L317.77 100.82L315.85 104.12Z" fill="#000000"/>
<path d="M320.88 100.97L324.70 100.97L322.79 104.27Z" fill="#000000"/>
<path d="M327.81 101.09L331.64 101.09L329.73 104.39Z" fill="#000000"/>
<path d="M334.75 101.17L338.58 101.17L336.66 104.47Z" fill="#000000"/>
<path d="M341.69 101.20L345.51 101.20L343.60 104.50Z" fill="#000000"/>
<path d="M211.8 22.5L218.7 80.7L220.1 81.5L221.5 82.3L222.9 83.1L224.3 83.8L225.7 84.5L227.1 85.1L228.5 85.8L229.9 86.4L231.3 87.0L232.7 87.4L234.1 87.9L235.5 88.3L236.9 88.6L238.3 89.0L239.8 89.2L241.2 89.5L242.6 89.7L244.0 89.9L245.4 90.0L246.8 90.2L248.2 90.4L249.6 90.5L251.0 90.7L252.4 90.8L253.8 91.0L255.2 91.3L256.6 91.5L258.0 91.8L259.4 92.2L260.8 92.6L262.2 93.1L263.6 93.8L265.0 94.5L266.4 95.2L267.8 95.7L269.2 96.2L270.6 96.6L272.0 97.1L273.4 97.5L274.8 97.9L276.2 98.3L277.6 98.6L279.0 99.0L280.4 99.3L281.9 99.7L283.3 100.0L284.7 100.4L286.1 100.7L287.5 100.8L288.9 100.8L290.3 100.8L291.7 100.8L293.1 100.8L294.5 100.9L295.9 100.9L297.3 100.9L298.7 100.9L300.1 100.9L301.5 100.9L302.9 100.9L304.3 100.9L305.7 100.9L307.1 100.9L308.5 100.9L309.9 100.9L311.3 101.0L312.7 101.0L314.1 101.0L315.5 101.0L316.9 101.0L318.3 101.0L319.7 101.0L321.1 101.0L322.5 101.0L324.0 101.0L325.4 101.0L326.8 101.0L328.2 101.0L329.6 101.0L331.0 101.0L332.4 101.0L333.8 101.0L335.2 101.0L336.6 101.0L338.0 101.0L339.4 101.0L340.8 101.0L342.2 101.0L343.6 101.0" fill="none" stroke="#ff0000" stroke-width="1.05" stroke-linejoin="round"/>
<circle cx="211.80" cy="22.50" r="1.65" fill="#ff0000"/>
<circle cx="218.74" cy="80.72" r="1.65" fill="#ff0000"/>
<circle cx="225.67" cy="84.44" r="1.65" fill="#ff0000"/>
<circle cx="232.61" cy="87.40" r="1.65" fill="#ff0000"/>
<circle cx="239.55" cy="89.19" r="1.65" fill="#ff0000"/>
<circle cx="246.48" cy="90.19" r="1.65" fill="#ff0000"/>
<circle cx="253.42" cy="90.99" r="1.65" fill="#ff0000"/>
<circle cx="260.36" cy="92.46" r="1.65" fill="#ff0000"/>
<circle cx="267.29" cy="95.50" r="1.65" fill="#ff0000"/>
<circle cx="274.23" cy="97.71" r="1.65" fill="#ff0000"/>
<circle cx="281.17" cy="99.49" r="1.65" fill="#ff0000"/>
<circle cx="288.11" cy="100.80" r="1.65" fill="#ff0000"/>
<circle cx="295.04" cy="100.86" r="1.65" fill="#ff0000"/>
<circle cx="301.98" cy="100.91" r="1.65" fill="#ff0000"/>
<circle cx="308.92" cy="100.94" r="1.65" fill="#ff0000"/>
<circle cx="315.85" cy="100.97" r="1.65" fill="#ff0000"/>
<circle cx="322.79" cy="100.98" r="1.65" fill="#ff0000"/>
<circle cx="329.73" cy="100.99" r="1.65" fill="#ff0000"/>
<circle cx="336.66" cy="101.00" r="1.65" fill="#ff0000"/>
<circle cx="343.60" cy="101.00" r="1.65" fill="#ff0000"/>
<path d="M211.8 29.6L218.7 87.4L220.1 87.8L221.5 88.1L222.9 88.5L224.3 88.9L225.7 89.2L227.1 89.6L228.5 90.0L229.9 90.4L231.3 90.7L232.7 91.0L234.1 91.2L235.5 91.4L236.9 91.6L238.3 91.7L239.8 91.9L241.2 92.1L242.6 92.3L244.0 92.5L245.4 92.7L246.8 92.9L248.2 93.1L249.6 93.3L251.0 93.5L252.4 93.7L253.8 93.9L255.2 94.1L256.6 94.3L258.0 94.5L259.4 94.8L260.8 95.1L262.2 95.4L263.6 95.7L265.0 96.1L266.4 96.5L267.8 97.0L269.2 97.4L270.6 97.8L272.0 98.2L273.4 98.6L274.8 99.0L276.2 99.3L277.6 99.6L279.0 100.0L280.4 100.3L281.9 100.6L283.3 100.9L284.7 101.2L286.1 101.4L287.5 101.6L288.9 101.7L290.3 101.8L291.7 101.9L293.1 101.9L294.5 101.9L295.9 102.0L297.3 102.0L298.7 102.1L300.1 102.1L301.5 102.1L302.9 102.2L304.3 102.2L305.7 102.2L307.1 102.2L308.5 102.3L309.9 102.3L311.3 102.3L312.7 102.4L314.1 102.4L315.5 102.4L316.9 102.4L318.3 102.4L319.7 102.5L321.1 102.5L322.5 102.5L324.0 102.5L325.4 102.5L326.8 102.5L328.2 102.5L329.6 102.6L331.0 102.6L332.4 102.6L333.8 102.6L335.2 102.6L336.6 102.6L338.0 102.6L339.4 102.6L340.8 102.6L342.2 102.6L343.6 102.6" fill="none" stroke="#808020" stroke-width="1.05" stroke-linejoin="round"/>
<path d="M209.89 30.70L213.71 30.70L211.80 27.40Z" fill="#808020"/>
<path d="M216.82 88.51L220.65 88.51L218.74 85.21Z" fill="#808020"/>
<path d="M223.76 90.32L227.59 90.32L225.67 87.02Z" fill="#808020"/>
<path d="M230.70 92.10L234.52 92.10L232.61 88.80Z" fill="#808020"/>
<path d="M237.63 92.99L241.46 92.99L239.55 89.69Z" fill="#808020"/>
<path d="M244.57 93.98L248.40 93.98L246.48 90.68Z" fill="#808020"/>
<path d="M251.51 94.95L255.34 94.95L253.42 91.65Z" fill="#808020"/>
<path d="M258.44 96.07L262.27 96.07L260.36 92.77Z" fill="#808020"/>
<path d="M265.38 97.91L269.21 97.91L267.29 94.61Z" fill="#808020"/>
<path d="M272.32 99.92L276.15 99.92L274.23 96.62Z" fill="#808020"/>
<path d="M279.25 101.56L283.08 101.56L281.17 98.26Z" fill="#808020"/>
<path d="M286.19 102.78L290.02 102.78L288.11 99.48Z" fill="#808020"/>
<path d="M293.13 103.05L296.96 103.05L295.04 99.75Z" fill="#808020"/>
<path d="M300.06 103.24L303.89 103.24L301.98 99.94Z" fill="#808020"/>
<path d="M307.00 103.39L310.83 103.39L308.92 100.09Z" fill="#808020"/>
<path d="M313.94 103.50L317.77 103.50L315.85 100.20Z" fill="#808020"/>
<path d="M320.88 103.59L324.70 103.59L322.79 100.29Z" fill="#808020"/>
<path d="M327.81 103.65L331.64 103.65L329.73 100.35Z" fill="#808020"/>
<path d="M334.75 103.69L338.58 103.69L336.66 100.39Z" fill="#808020"/>
<path d="M341.69 103.70L345.51 103.70L343.60 100.40Z" fill="#808020"/>
<path d="M211.8 22.5L218.7 85.6L220.1 85.6L221.5 85.7L222.9 85.9L224.3 86.0L225.7 86.2L227.1 86.5L228.5 86.9L229.9 87.3L231.3 87.7L232.7 88.0L234.1 88.3L235.5 88.5L236.9 88.8L238.3 89.0L239.8 89.2L241.2 89.4L242.6 89.7L244.0 89.9L245.4 90.1L246.8 90.2L248.2 90.4L249.6 90.5L251.0 90.7L252.4 90.8L253.8 90.8L255.2 90.8L256.6 90.8L258.0 90.9L259.4 90.9L260.8 90.9L262.2 91.0L263.6 91.0L265.0 91.1L266.4 91.3L267.8 91.4L269.2 91.6L270.6 91.7L272.0 91.9L273.4 92.1L274.8 92.2L276.2 92.4L277.6 92.6L279.0 92.8L280.4 93.0L281.9 93.2L283.3 93.4L284.7 93.5L286.1 93.7L287.5 93.8L288.9 93.9L290.3 93.9L291.7 94.0L293.1 94.0L294.5 94.1L295.9 94.2L297.3 94.2L298.7 94.2L300.1 94.3L301.5 94.3L302.9 94.3L304.3 94.3L305.7 94.3L307.1 94.3L308.5 94.3L309.9 94.3L311.3 94.3L312.7 94.3L314.1 94.3L315.5 94.3L316.9 94.3L318.3 94.3L319.7 94.3L321.1 94.3L322.5 94.3L324.0 94.3L325.4 94.3L326.8 94.3L328.2 94.3L329.6 94.3L331.0 94.3L332.4 94.3L333.8 94.3L335.2 94.3L336.6 94.3L338.0 94.3L339.4 94.3L340.8 94.3L342.2 94.3L343.6 94.3" fill="none" stroke="#ee3399" stroke-width="1.05" stroke-linejoin="round"/>
<rect x="210.30" y="21.00" width="3.00" height="3.00" fill="#ee3399"/>
<rect x="217.24" y="84.10" width="3.00" height="3.00" fill="#ee3399"/>
<rect x="224.17" y="84.71" width="3.00" height="3.00" fill="#ee3399"/>
<rect x="231.11" y="86.50" width="3.00" height="3.00" fill="#ee3399"/>
<rect x="238.05" y="87.69" width="3.00" height="3.00" fill="#ee3399"/>
<rect x="244.98" y="88.69" width="3.00" height="3.00" fill="#ee3399"/>
<rect x="251.92" y="89.30" width="3.00" height="3.00" fill="#ee3399"/>
<rect x="258.86" y="89.39" width="3.00" height="3.00" fill="#ee3399"/>
<rect x="265.79" y="89.87" width="3.00" height="3.00" fill="#ee3399"/>
<rect x="272.73" y="90.66" width="3.00" height="3.00" fill="#ee3399"/>
<rect x="279.67" y="91.59" width="3.00" height="3.00" fill="#ee3399"/>
<rect x="286.61" y="92.32" width="3.00" height="3.00" fill="#ee3399"/>
<rect x="293.54" y="92.62" width="3.00" height="3.00" fill="#ee3399"/>
<rect x="300.48" y="92.79" width="3.00" height="3.00" fill="#ee3399"/>
<rect x="307.42" y="92.80" width="3.00" height="3.00" fill="#ee3399"/>
<rect x="314.35" y="92.80" width="3.00" height="3.00" fill="#ee3399"/>
<rect x="321.29" y="92.80" width="3.00" height="3.00" fill="#ee3399"/>
<rect x="328.23" y="92.80" width="3.00" height="3.00" fill="#ee3399"/>
<rect x="335.16" y="92.80" width="3.00" height="3.00" fill="#ee3399"/>
<rect x="342.10" y="92.80" width="3.00" height="3.00" fill="#ee3399"/>
<path d="M211.8 22.5L218.7 90.5L220.1 91.2L221.5 91.9L222.9 92.5L224.3 93.1L225.7 93.5L227.1 94.0L228.5 94.4L229.9 94.7L231.3 95.0L232.7 95.3L234.1 95.6L235.5 95.9L236.9 96.1L238.3 96.3L239.8 96.5L241.2 96.7L242.6 96.8L244.0 97.0L245.4 97.1L246.8 97.1L248.2 97.1L249.6 97.1L251.0 97.0L252.4 97.0L253.8 97.0L255.2 97.0L256.6 96.9L258.0 96.9L259.4 96.9L260.8 96.9L262.2 96.9L263.6 96.9L265.0 96.9L266.4 96.9L267.8 96.9L269.2 96.9L270.6 96.9L272.0 96.9L273.4 96.9L274.8 96.9L276.2 96.9L277.6 96.9L279.0 96.9L280.4 96.9L281.9 96.8L283.3 96.8L284.7 96.8L286.1 96.8L287.5 96.8L288.9 96.8L290.3 96.8L291.7 96.8L293.1 96.8L294.5 96.8L295.9 96.8L297.3 96.8L298.7 96.8L300.1 96.8L301.5 96.8L302.9 96.8L304.3 96.8L305.7 96.8L307.1 96.8L308.5 96.8L309.9 96.8L311.3 96.8L312.7 96.8L314.1 96.8L315.5 96.8L316.9 96.8L318.3 96.8L319.7 96.8L321.1 96.8L322.5 96.8L324.0 96.8L325.4 96.8L326.8 96.8L328.2 96.8L329.6 96.8L331.0 96.8L332.4 96.8L333.8 96.8L335.2 96.8L336.6 96.8L338.0 96.8L339.4 96.8L340.8 96.8L342.2 96.8L343.6 96.8" fill="none" stroke="#00cc66" stroke-width="1.05" stroke-linejoin="round"/>
<path d="M209.89 21.40L213.71 21.40L211.80 24.70Z" fill="#00cc66"/>
<path d="M216.82 89.42L220.65 89.42L218.74 92.72Z" fill="#00cc66"/>
<path d="M223.76 92.42L227.59 92.42L225.67 95.72Z" fill="#00cc66"/>
<path d="M230.70 94.20L234.52 94.20L232.61 97.50Z" fill="#00cc66"/>
<path d="M237.63 95.39L241.46 95.39L239.55 98.69Z" fill="#00cc66"/>
<path d="M244.57 96.00L248.40 96.00L246.48 99.30Z" fill="#00cc66"/>
<path d="M251.51 95.90L255.34 95.90L253.42 99.20Z" fill="#00cc66"/>
<path d="M258.44 95.80L262.27 95.80L260.36 99.10Z" fill="#00cc66"/>
<path d="M265.38 95.78L269.21 95.78L267.29 99.08Z" fill="#00cc66"/>
<path d="M272.32 95.77L276.15 95.77L274.23 99.07Z" fill="#00cc66"/>
<path d="M279.25 95.75L283.08 95.75L281.17 99.05Z" fill="#00cc66"/>
<path d="M286.19 95.74L290.02 95.74L288.11 99.04Z" fill="#00cc66"/>
<path d="M293.13 95.73L296.96 95.73L295.04 99.03Z" fill="#00cc66"/>
<path d="M300.06 95.72L303.89 95.72L301.98 99.02Z" fill="#00cc66"/>
<path d="M307.00 95.71L310.83 95.71L308.92 99.01Z" fill="#00cc66"/>
<path d="M313.94 95.71L317.77 95.71L315.85 99.01Z" fill="#00cc66"/>
<path d="M320.88 95.70L324.70 95.70L322.79 99.00Z" fill="#00cc66"/>
<path d="M327.81 95.70L331.64 95.70L329.73 99.00Z" fill="#00cc66"/>
<path d="M334.75 95.70L338.58 95.70L336.66 99.00Z" fill="#00cc66"/>
<path d="M341.69 95.70L345.51 95.70L343.60 99.00Z" fill="#00cc66"/>
<path d="M211.8 22.5L218.7 78.9L220.1 79.7L221.5 80.6L222.9 81.4L224.3 82.3L225.7 83.2L227.1 84.2L228.5 85.3L229.9 86.4L231.3 87.3L232.7 87.8L234.1 88.2L235.5 88.6L236.9 88.8L238.3 89.0L239.8 89.2L241.2 89.4L242.6 89.5L244.0 89.6L245.4 89.7L246.8 89.8L248.2 90.0L249.6 90.2L251.0 90.4L252.4 90.7L253.8 91.1L255.2 91.7L256.6 92.6L258.0 93.7L259.4 94.6L260.8 95.5L262.2 96.2L263.6 97.0L265.0 97.7L266.4 98.4L267.8 99.0L269.2 99.4L270.6 99.6L272.0 99.8L273.4 99.9L274.8 100.1L276.2 100.2L277.6 100.3L279.0 100.4L280.4 100.5L281.9 100.6L283.3 100.7L284.7 100.7L286.1 100.8L287.5 100.8L288.9 100.8L290.3 100.8L291.7 100.8L293.1 100.9L294.5 100.9L295.9 100.9L297.3 100.9L298.7 100.9L300.1 100.9L301.5 100.9L302.9 100.9L304.3 101.0L305.7 101.0L307.1 101.0L308.5 101.0L309.9 101.0L311.3 101.0L312.7 101.0L314.1 101.0L315.5 101.0L316.9 101.0L318.3 101.0L319.7 101.0L321.1 101.1L322.5 101.1L324.0 101.1L325.4 101.1L326.8 101.1L328.2 101.1L329.6 101.1L331.0 101.1L332.4 101.1L333.8 101.1L335.2 101.1L336.6 101.1L338.0 101.1L339.4 101.1L340.8 101.1L342.2 101.1L343.6 101.1" fill="none" stroke="#e6195a" stroke-width="1.05" stroke-linejoin="round"/>
<circle cx="211.80" cy="22.50" r="1.3" fill="#f280a8" stroke="#e6195a" stroke-width="0.8"/>
<circle cx="218.74" cy="78.92" r="1.3" fill="#f280a8" stroke="#e6195a" stroke-width="0.8"/>
<circle cx="225.67" cy="83.15" r="1.3" fill="#f280a8" stroke="#e6195a" stroke-width="0.8"/>
<circle cx="232.61" cy="87.80" r="1.3" fill="#f280a8" stroke="#e6195a" stroke-width="0.8"/>
<circle cx="239.55" cy="89.19" r="1.3" fill="#f280a8" stroke="#e6195a" stroke-width="0.8"/>
<circle cx="246.48" cy="89.79" r="1.3" fill="#f280a8" stroke="#e6195a" stroke-width="0.8"/>
<circle cx="253.42" cy="90.98" r="1.3" fill="#f280a8" stroke="#e6195a" stroke-width="0.8"/>
<circle cx="260.36" cy="95.22" r="1.3" fill="#f280a8" stroke="#e6195a" stroke-width="0.8"/>
<circle cx="267.29" cy="98.77" r="1.3" fill="#f280a8" stroke="#e6195a" stroke-width="0.8"/>
<circle cx="274.23" cy="100.01" r="1.3" fill="#f280a8" stroke="#e6195a" stroke-width="0.8"/>
<circle cx="281.17" cy="100.58" r="1.3" fill="#f280a8" stroke="#e6195a" stroke-width="0.8"/>
<circle cx="288.11" cy="100.80" r="1.3" fill="#f280a8" stroke="#e6195a" stroke-width="0.8"/>
<circle cx="295.04" cy="100.88" r="1.3" fill="#f280a8" stroke="#e6195a" stroke-width="0.8"/>
<circle cx="301.98" cy="100.94" r="1.3" fill="#f280a8" stroke="#e6195a" stroke-width="0.8"/>
<circle cx="308.92" cy="100.99" r="1.3" fill="#f280a8" stroke="#e6195a" stroke-width="0.8"/>
<circle cx="315.85" cy="101.03" r="1.3" fill="#f280a8" stroke="#e6195a" stroke-width="0.8"/>
<circle cx="322.79" cy="101.06" r="1.3" fill="#f280a8" stroke="#e6195a" stroke-width="0.8"/>
<circle cx="329.73" cy="101.08" r="1.3" fill="#f280a8" stroke="#e6195a" stroke-width="0.8"/>
<circle cx="336.66" cy="101.10" r="1.3" fill="#f280a8" stroke="#e6195a" stroke-width="0.8"/>
<circle cx="343.60" cy="101.10" r="1.3" fill="#f280a8" stroke="#e6195a" stroke-width="0.8"/>
<path d="M211.8 21.6L218.7 86.8L220.1 87.5L221.5 88.1L222.9 88.8L224.3 89.3L225.7 89.8L227.1 90.3L228.5 90.7L229.9 91.1L231.3 91.5L232.7 91.9L234.1 92.4L235.5 92.9L236.9 93.4L238.3 93.8L239.8 94.1L241.2 94.4L242.6 94.7L244.0 94.9L245.4 95.1L246.8 95.3L248.2 95.6L249.6 95.8L251.0 96.0L252.4 96.3L253.8 96.5L255.2 96.7L256.6 97.0L258.0 97.2L259.4 97.4L260.8 97.5L262.2 97.7L263.6 97.9L265.0 98.1L266.4 98.3L267.8 98.5L269.2 98.6L270.6 98.8L272.0 98.9L273.4 99.1L274.8 99.2L276.2 99.3L277.6 99.4L279.0 99.5L280.4 99.5L281.9 99.5L283.3 99.6L284.7 99.6L286.1 99.6L287.5 99.7L288.9 99.7L290.3 99.7L291.7 99.7L293.1 99.8L294.5 99.8L295.9 99.8L297.3 99.8L298.7 99.9L300.1 99.9L301.5 99.9L302.9 99.9L304.3 99.9L305.7 100.0L307.1 100.0L308.5 100.0L309.9 100.0L311.3 100.0L312.7 100.0L314.1 100.1L315.5 100.1L316.9 100.1L318.3 100.1L319.7 100.1L321.1 100.1L322.5 100.1L324.0 100.1L325.4 100.1L326.8 100.2L328.2 100.2L329.6 100.2L331.0 100.2L332.4 100.2L333.8 100.2L335.2 100.2L336.6 100.2L338.0 100.2L339.4 100.2L340.8 100.2L342.2 100.2L343.6 100.2" fill="none" stroke="#5c5cd0" stroke-width="1.05" stroke-linejoin="round"/>
<path d="M209.89 22.70L213.71 22.70L211.80 19.40Z" fill="#5c5cd0"/>
<path d="M216.82 87.92L220.65 87.92L218.74 84.62Z" fill="#5c5cd0"/>
<path d="M223.76 90.93L227.59 90.93L225.67 87.63Z" fill="#5c5cd0"/>
<path d="M230.70 93.00L234.52 93.00L232.61 89.70Z" fill="#5c5cd0"/>
<path d="M237.63 95.19L241.46 95.19L239.55 91.89Z" fill="#5c5cd0"/>
<path d="M244.57 96.38L248.40 96.38L246.48 93.08Z" fill="#5c5cd0"/>
<path d="M251.51 97.55L255.34 97.55L253.42 94.25Z" fill="#5c5cd0"/>
<path d="M258.44 98.58L262.27 98.58L260.36 95.28Z" fill="#5c5cd0"/>
<path d="M265.38 99.49L269.21 99.49L267.29 96.19Z" fill="#5c5cd0"/>
<path d="M272.32 100.26L276.15 100.26L274.23 96.96Z" fill="#5c5cd0"/>
<path d="M279.25 100.63L283.08 100.63L281.17 97.33Z" fill="#5c5cd0"/>
<path d="M286.19 100.77L290.02 100.77L288.11 97.47Z" fill="#5c5cd0"/>
<path d="M293.13 100.90L296.96 100.90L295.04 97.60Z" fill="#5c5cd0"/>
<path d="M300.06 101.01L303.89 101.01L301.98 97.71Z" fill="#5c5cd0"/>
<path d="M307.00 101.10L310.83 101.10L308.92 97.80Z" fill="#5c5cd0"/>
<path d="M313.94 101.17L317.77 101.17L315.85 97.87Z" fill="#5c5cd0"/>
<path d="M320.88 101.23L324.70 101.23L322.79 97.93Z" fill="#5c5cd0"/>
<path d="M327.81 101.27L331.64 101.27L329.73 97.97Z" fill="#5c5cd0"/>
<path d="M334.75 101.29L338.58 101.29L336.66 97.99Z" fill="#5c5cd0"/>
<path d="M341.69 101.30L345.51 101.30L343.60 98.00Z" fill="#5c5cd0"/>
<path d="M211.8 21.6L218.7 87.4L220.1 87.9L221.5 88.4L222.9 88.9L224.3 89.3L225.7 89.8L227.1 90.3L228.5 90.8L229.9 91.3L231.3 91.9L232.7 92.3L234.1 92.9L235.5 93.4L236.9 93.9L238.3 94.3L239.8 94.7L241.2 95.1L242.6 95.4L244.0 95.7L245.4 96.0L246.8 96.3L248.2 96.7L249.6 97.0L251.0 97.3L252.4 97.6L253.8 97.9L255.2 98.2L256.6 98.5L258.0 98.7L259.4 98.9L260.8 99.0L262.2 99.0L263.6 99.1L265.0 99.1L266.4 99.1L267.8 99.1L269.2 99.1L270.6 99.2L272.0 99.2L273.4 99.2L274.8 99.2L276.2 99.2L277.6 99.2L279.0 99.2L280.4 99.2L281.9 99.2L283.3 99.2L284.7 99.2L286.1 99.2L287.5 99.2L288.9 99.2L290.3 99.2L291.7 99.2L293.1 99.2L294.5 99.2L295.9 99.2L297.3 99.2L298.7 99.2L300.1 99.2L301.5 99.2L302.9 99.2L304.3 99.2L305.7 99.2L307.1 99.2L308.5 99.2L309.9 99.2L311.3 99.2L312.7 99.2L314.1 99.2L315.5 99.2L316.9 99.2L318.3 99.2L319.7 99.2L321.1 99.1L322.5 99.1L324.0 99.1L325.4 99.1L326.8 99.1L328.2 99.1L329.6 99.1L331.0 99.1L332.4 99.1L333.8 99.1L335.2 99.1L336.6 99.1L338.0 99.1L339.4 99.0L340.8 99.0L342.2 99.0L343.6 99.0" fill="none" stroke="#b4b4b4" stroke-width="1.05" stroke-linejoin="round"/>
<path d="M211.80 19.50L213.40 21.60L211.80 23.70L210.20 21.60Z" fill="#b4b4b4"/>
<path d="M218.74 85.31L220.34 87.41L218.74 89.51L217.14 87.41Z" fill="#b4b4b4"/>
<path d="M225.67 87.73L227.27 89.83L225.67 91.93L224.07 89.83Z" fill="#b4b4b4"/>
<path d="M232.61 90.20L234.21 92.30L232.61 94.40L231.01 92.30Z" fill="#b4b4b4"/>
<path d="M239.55 92.59L241.15 94.69L239.55 96.79L237.95 94.69Z" fill="#b4b4b4"/>
<path d="M246.48 94.17L248.08 96.27L246.48 98.37L244.88 96.27Z" fill="#b4b4b4"/>
<path d="M253.42 95.68L255.02 97.78L253.42 99.88L251.82 97.78Z" fill="#b4b4b4"/>
<path d="M260.36 96.90L261.96 99.00L260.36 101.10L258.76 99.00Z" fill="#b4b4b4"/>
<path d="M267.29 97.02L268.89 99.12L267.29 101.22L265.69 99.12Z" fill="#b4b4b4"/>
<path d="M274.23 97.08L275.83 99.18L274.23 101.28L272.63 99.18Z" fill="#b4b4b4"/>
<path d="M281.17 97.10L282.77 99.20L281.17 101.30L279.57 99.20Z" fill="#b4b4b4"/>
<path d="M288.11 97.10L289.71 99.20L288.11 101.30L286.51 99.20Z" fill="#b4b4b4"/>
<path d="M295.04 97.10L296.64 99.20L295.04 101.30L293.44 99.20Z" fill="#b4b4b4"/>
<path d="M301.98 97.09L303.58 99.19L301.98 101.29L300.38 99.19Z" fill="#b4b4b4"/>
<path d="M308.92 97.08L310.52 99.18L308.92 101.28L307.32 99.18Z" fill="#b4b4b4"/>
<path d="M315.85 97.07L317.45 99.17L315.85 101.27L314.25 99.17Z" fill="#b4b4b4"/>
<path d="M322.79 97.04L324.39 99.14L322.79 101.24L321.19 99.14Z" fill="#b4b4b4"/>
<path d="M329.73 97.01L331.33 99.11L329.73 101.21L328.13 99.11Z" fill="#b4b4b4"/>
<path d="M336.66 96.96L338.26 99.06L336.66 101.16L335.06 99.06Z" fill="#b4b4b4"/>
<path d="M343.60 96.91L345.20 99.01L343.60 101.11L342.00 99.01Z" fill="#b4b4b4"/>
<rect x="211.80" y="15.70" width="131.80" height="89.60" fill="none" stroke="#a0a0a0" stroke-width="0.6"/>
<line x1="211.80" y1="105.30" x2="211.80" y2="104.10" stroke="#a0a0a0" stroke-width="0.5"/>
<line x1="211.80" y1="15.70" x2="211.80" y2="16.90" stroke="#a0a0a0" stroke-width="0.5"/>
<text class="s" x="211.80" y="113.00" font-size="5.27" text-anchor="middle" fill="#262626">0</text>
<line x1="238.16" y1="105.30" x2="238.16" y2="104.10" stroke="#a0a0a0" stroke-width="0.5"/>
<line x1="238.16" y1="15.70" x2="238.16" y2="16.90" stroke="#a0a0a0" stroke-width="0.5"/>
<text class="s" x="238.16" y="113.00" font-size="5.27" text-anchor="middle" fill="#262626">200</text>
<line x1="264.52" y1="105.30" x2="264.52" y2="104.10" stroke="#a0a0a0" stroke-width="0.5"/>
<line x1="264.52" y1="15.70" x2="264.52" y2="16.90" stroke="#a0a0a0" stroke-width="0.5"/>
<text class="s" x="264.52" y="113.00" font-size="5.27" text-anchor="middle" fill="#262626">400</text>
<line x1="290.88" y1="105.30" x2="290.88" y2="104.10" stroke="#a0a0a0" stroke-width="0.5"/>
<line x1="290.88" y1="15.70" x2="290.88" y2="16.90" stroke="#a0a0a0" stroke-width="0.5"/>
<text class="s" x="290.88" y="113.00" font-size="5.27" text-anchor="middle" fill="#262626">600</text>
<line x1="317.24" y1="105.30" x2="317.24" y2="104.10" stroke="#a0a0a0" stroke-width="0.5"/>
<line x1="317.24" y1="15.70" x2="317.24" y2="16.90" stroke="#a0a0a0" stroke-width="0.5"/>
<text class="s" x="317.24" y="113.00" font-size="5.27" text-anchor="middle" fill="#262626">800</text>
<line x1="343.60" y1="105.30" x2="343.60" y2="104.10" stroke="#a0a0a0" stroke-width="0.5"/>
<line x1="343.60" y1="15.70" x2="343.60" y2="16.90" stroke="#a0a0a0" stroke-width="0.5"/>
<text class="s" x="343.60" y="113.00" font-size="5.27" text-anchor="middle" fill="#262626">1000</text>
<text class="s" x="210.50" y="107.90" font-size="5.27" text-anchor="end" fill="#262626">3000</text>
<line x1="211.80" y1="105.30" x2="213.00" y2="105.30" stroke="#a0a0a0" stroke-width="0.5"/>
<line x1="343.60" y1="105.30" x2="342.40" y2="105.30" stroke="#a0a0a0" stroke-width="0.5"/>
<text class="s" x="210.50" y="92.97" font-size="5.27" text-anchor="end" fill="#262626">3500</text>
<line x1="211.80" y1="90.37" x2="213.00" y2="90.37" stroke="#a0a0a0" stroke-width="0.5"/>
<line x1="343.60" y1="90.37" x2="342.40" y2="90.37" stroke="#a0a0a0" stroke-width="0.5"/>
<text class="s" x="210.50" y="78.03" font-size="5.27" text-anchor="end" fill="#262626">4000</text>
<line x1="211.80" y1="75.43" x2="213.00" y2="75.43" stroke="#a0a0a0" stroke-width="0.5"/>
<line x1="343.60" y1="75.43" x2="342.40" y2="75.43" stroke="#a0a0a0" stroke-width="0.5"/>
<text class="s" x="210.50" y="63.10" font-size="5.27" text-anchor="end" fill="#262626">4500</text>
<line x1="211.80" y1="60.50" x2="213.00" y2="60.50" stroke="#a0a0a0" stroke-width="0.5"/>
<line x1="343.60" y1="60.50" x2="342.40" y2="60.50" stroke="#a0a0a0" stroke-width="0.5"/>
<text class="s" x="210.50" y="48.17" font-size="5.27" text-anchor="end" fill="#262626">5000</text>
<line x1="211.80" y1="45.57" x2="213.00" y2="45.57" stroke="#a0a0a0" stroke-width="0.5"/>
<line x1="343.60" y1="45.57" x2="342.40" y2="45.57" stroke="#a0a0a0" stroke-width="0.5"/>
<text class="s" x="210.50" y="33.23" font-size="5.27" text-anchor="end" fill="#262626">5500</text>
<line x1="211.80" y1="30.63" x2="213.00" y2="30.63" stroke="#a0a0a0" stroke-width="0.5"/>
<line x1="343.60" y1="30.63" x2="342.40" y2="30.63" stroke="#a0a0a0" stroke-width="0.5"/>
<text class="s" x="210.50" y="18.30" font-size="5.27" text-anchor="end" fill="#262626">6000</text>
<line x1="211.80" y1="15.70" x2="213.00" y2="15.70" stroke="#a0a0a0" stroke-width="0.5"/>
<line x1="343.60" y1="15.70" x2="342.40" y2="15.70" stroke="#a0a0a0" stroke-width="0.5"/>
<text class="s" x="277.70" y="14.10" font-size="5.8" text-anchor="middle" fill="#1a1a1a">CEC2017 F23 Dim=50</text>
<text class="s" x="277.70" y="119.90" font-size="5.8" text-anchor="middle" fill="#1a1a1a">Iterations</text>
<text class="s" transform="translate(195.80,60.50) rotate(-90)" x="0" y="0" font-size="5.8" text-anchor="middle" fill="#1a1a1a">Average Fitness</text>
<line x1="393.70" y1="90.37" x2="525.80" y2="90.37" stroke="#e6e6e6" stroke-width="0.5"/>
<line x1="393.70" y1="75.43" x2="525.80" y2="75.43" stroke="#e6e6e6" stroke-width="0.5"/>
<line x1="393.70" y1="60.50" x2="525.80" y2="60.50" stroke="#e6e6e6" stroke-width="0.5"/>
<line x1="393.70" y1="45.57" x2="525.80" y2="45.57" stroke="#e6e6e6" stroke-width="0.5"/>
<line x1="393.70" y1="30.63" x2="525.80" y2="30.63" stroke="#e6e6e6" stroke-width="0.5"/>
<line x1="420.12" y1="15.70" x2="420.12" y2="105.30" stroke="#e6e6e6" stroke-width="0.5"/>
<line x1="446.54" y1="15.70" x2="446.54" y2="105.30" stroke="#e6e6e6" stroke-width="0.5"/>
<line x1="472.96" y1="15.70" x2="472.96" y2="105.30" stroke="#e6e6e6" stroke-width="0.5"/>
<line x1="499.38" y1="15.70" x2="499.38" y2="105.30" stroke="#e6e6e6" stroke-width="0.5"/>
<path d="M393.7 84.7L400.5 99.6L401.9 99.7L403.3 99.8L404.7 99.9L406.1 100.0L407.5 100.0L408.9 100.0L410.4 100.0L411.8 100.0L413.2 100.0L414.6 100.0L416.0 100.0L417.4 100.0L418.8 100.0L420.2 100.0L421.6 100.0L423.0 100.0L424.4 100.0L425.8 100.0L427.2 100.0L428.7 100.0L430.1 100.0L431.5 100.0L432.9 100.0L434.3 100.0L435.7 100.0L437.1 100.0L438.5 100.0L439.9 100.0L441.3 100.0L442.7 100.0L444.1 100.0L445.6 100.0L447.0 100.0L448.4 100.0L449.8 100.0L451.2 100.0L452.6 100.0L454.0 100.0L455.4 100.0L456.8 100.0L458.2 100.0L459.6 100.0L461.0 100.0L462.4 100.0L463.9 100.0L465.3 100.0L466.7 100.0L468.1 100.0L469.5 100.0L470.9 100.0L472.3 100.0L473.7 100.0L475.1 100.0L476.5 100.0L477.9 100.0L479.3 100.0L480.7 100.0L482.2 100.0L483.6 100.0L485.0 100.0L486.4 100.0L487.8 100.0L489.2 100.0L490.6 100.0L492.0 100.0L493.4 100.0L494.8 100.0L496.2 100.0L497.6 100.0L499.1 100.0L500.5 100.0L501.9 100.0L503.3 100.0L504.7 100.0L506.1 100.0L507.5 100.0L508.9 100.0L510.3 100.0L511.7 100.0L513.1 100.0L514.5 100.0L515.9 100.0L517.4 100.0L518.8 100.0L520.2 100.0L521.6 100.0L523.0 100.0L524.4 100.0L525.8 100.0" fill="none" stroke="#000000" stroke-width="1.05" stroke-linejoin="round"/>
<path d="M391.79 83.60L395.61 83.60L393.70 86.90Z" fill="#000000"/>
<path d="M398.74 98.51L402.57 98.51L400.65 101.81Z" fill="#000000"/>
<path d="M405.69 98.90L409.52 98.90L407.61 102.20Z" fill="#000000"/>
<path d="M412.64 98.90L416.47 98.90L414.56 102.20Z" fill="#000000"/>
<path d="M419.60 98.90L423.42 98.90L421.51 102.20Z" fill="#000000"/>
<path d="M426.55 98.90L430.38 98.90L428.46 102.20Z" fill="#000000"/>
<path d="M433.50 98.90L437.33 98.90L435.42 102.20Z" fill="#000000"/>
<path d="M440.45 98.90L444.28 98.90L442.37 102.20Z" fill="#000000"/>
<path d="M447.41 98.90L451.24 98.90L449.32 102.20Z" fill="#000000"/>
<path d="M454.36 98.90L458.19 98.90L456.27 102.20Z" fill="#000000"/>
<path d="M461.31 98.90L465.14 98.90L463.23 102.20Z" fill="#000000"/>
<path d="M468.26 98.90L472.09 98.90L470.18 102.20Z" fill="#000000"/>
<path d="M475.22 98.90L479.05 98.90L477.13 102.20Z" fill="#000000"/>
<path d="M482.17 98.90L486.00 98.90L484.08 102.20Z" fill="#000000"/>
<path d="M489.12 98.90L492.95 98.90L491.04 102.20Z" fill="#000000"/>
<path d="M496.08 98.90L499.90 98.90L497.99 102.20Z" fill="#000000"/>
<path d="M503.03 98.90L506.86 98.90L504.94 102.20Z" fill="#000000"/>
<path d="M509.98 98.90L513.81 98.90L511.89 102.20Z" fill="#000000"/>
<path d="M516.93 98.90L520.76 98.90L518.85 102.20Z" fill="#000000"/>
<path d="M523.89 98.90L527.71 98.90L525.80 102.20Z" fill="#000000"/>
<path d="M393.7 18.0L400.5 76.2L401.9 76.2L403.3 76.2L404.7 76.3L406.1 76.4L407.5 76.5L408.9 77.1L410.4 78.4L411.8 80.0L413.2 82.5L414.6 85.0L416.0 87.4L417.4 89.9L418.8 92.3L420.2 94.3L421.6 95.7L423.0 96.8L424.4 97.7L425.8 98.5L427.2 99.1L428.7 99.4L430.1 99.5L431.5 99.7L432.9 99.8L434.3 99.9L435.7 99.9L437.1 99.9L438.5 99.9L439.9 99.9L441.3 99.9L442.7 99.9L444.1 99.9L445.6 99.9L447.0 99.9L448.4 99.9L449.8 99.9L451.2 99.9L452.6 99.9L454.0 99.9L455.4 99.9L456.8 99.9L458.2 99.9L459.6 99.9L461.0 99.9L462.4 99.9L463.9 99.9L465.3 99.9L466.7 99.9L468.1 99.9L469.5 99.9L470.9 99.9L472.3 99.9L473.7 99.9L475.1 99.9L476.5 99.9L477.9 99.9L479.3 99.9L480.7 99.9L482.2 99.9L483.6 99.9L485.0 99.9L486.4 99.9L487.8 99.9L489.2 99.9L490.6 99.9L492.0 99.9L493.4 99.9L494.8 99.9L496.2 99.9L497.6 99.9L499.1 99.9L500.5 99.9L501.9 99.9L503.3 99.9L504.7 99.9L506.1 99.9L507.5 99.9L508.9 99.9L510.3 99.9L511.7 99.9L513.1 99.9L514.5 99.9L515.9 99.9L517.4 99.9L518.8 99.9L520.2 99.9L521.6 99.9L523.0 99.9L524.4 99.9L525.8 99.9" fill="none" stroke="#ff0000" stroke-width="1.05" stroke-linejoin="round"/>
<circle cx="393.70" cy="18.00" r="1.65" fill="#ff0000"/>
<circle cx="400.65" cy="76.20" r="1.65" fill="#ff0000"/>
<circle cx="407.61" cy="76.51" r="1.65" fill="#ff0000"/>
<circle cx="414.56" cy="84.96" r="1.65" fill="#ff0000"/>
<circle cx="421.51" cy="95.59" r="1.65" fill="#ff0000"/>
<circle cx="428.46" cy="99.32" r="1.65" fill="#ff0000"/>
<circle cx="435.42" cy="99.90" r="1.65" fill="#ff0000"/>
<circle cx="442.37" cy="99.90" r="1.65" fill="#ff0000"/>
<circle cx="449.32" cy="99.90" r="1.65" fill="#ff0000"/>
<circle cx="456.27" cy="99.90" r="1.65" fill="#ff0000"/>
<circle cx="463.23" cy="99.90" r="1.65" fill="#ff0000"/>
<circle cx="470.18" cy="99.90" r="1.65" fill="#ff0000"/>
<circle cx="477.13" cy="99.90" r="1.65" fill="#ff0000"/>
<circle cx="484.08" cy="99.90" r="1.65" fill="#ff0000"/>
<circle cx="491.04" cy="99.90" r="1.65" fill="#ff0000"/>
<circle cx="497.99" cy="99.90" r="1.65" fill="#ff0000"/>
<circle cx="504.94" cy="99.90" r="1.65" fill="#ff0000"/>
<circle cx="511.89" cy="99.90" r="1.65" fill="#ff0000"/>
<circle cx="518.85" cy="99.90" r="1.65" fill="#ff0000"/>
<circle cx="525.80" cy="99.90" r="1.65" fill="#ff0000"/>
<path d="M393.7 17.5L400.5 67.8L401.9 70.2L403.3 72.8L404.7 75.3L406.1 78.0L407.5 80.7L408.9 83.7L410.4 87.1L411.8 90.4L413.2 93.1L414.6 95.0L416.0 96.3L417.4 97.4L418.8 98.3L420.2 99.0L421.6 99.3L423.0 99.5L424.4 99.7L425.8 99.8L427.2 99.9L428.7 99.9L430.1 99.9L431.5 99.9L432.9 99.9L434.3 99.9L435.7 99.9L437.1 99.9L438.5 99.9L439.9 99.9L441.3 99.9L442.7 99.9L444.1 99.9L445.6 99.9L447.0 99.9L448.4 99.9L449.8 99.9L451.2 99.9L452.6 99.9L454.0 99.9L455.4 99.9L456.8 99.9L458.2 99.9L459.6 99.9L461.0 99.9L462.4 99.9L463.9 99.9L465.3 99.9L466.7 99.9L468.1 99.9L469.5 99.9L470.9 99.9L472.3 99.9L473.7 99.9L475.1 99.9L476.5 99.9L477.9 99.9L479.3 99.9L480.7 99.9L482.2 99.9L483.6 99.9L485.0 99.9L486.4 99.9L487.8 99.9L489.2 99.9L490.6 99.9L492.0 99.9L493.4 99.9L494.8 99.9L496.2 99.9L497.6 99.9L499.1 99.9L500.5 99.9L501.9 99.9L503.3 99.9L504.7 99.9L506.1 99.9L507.5 99.9L508.9 99.9L510.3 99.9L511.7 99.9L513.1 99.9L514.5 99.9L515.9 99.9L517.4 99.9L518.8 99.9L520.2 99.9L521.6 99.9L523.0 99.9L524.4 99.9L525.8 99.9" fill="none" stroke="#808020" stroke-width="1.05" stroke-linejoin="round"/>
<path d="M391.79 18.60L395.61 18.60L393.70 15.30Z" fill="#808020"/>
<path d="M398.74 69.16L402.57 69.16L400.65 65.86Z" fill="#808020"/>
<path d="M405.69 81.91L409.52 81.91L407.61 78.61Z" fill="#808020"/>
<path d="M412.64 96.05L416.47 96.05L414.56 92.75Z" fill="#808020"/>
<path d="M419.60 100.42L423.42 100.42L421.51 97.12Z" fill="#808020"/>
<path d="M426.55 101.00L430.38 101.00L428.46 97.70Z" fill="#808020"/>
<path d="M433.50 101.00L437.33 101.00L435.42 97.70Z" fill="#808020"/>
<path d="M440.45 101.00L444.28 101.00L442.37 97.70Z" fill="#808020"/>
<path d="M447.41 101.00L451.24 101.00L449.32 97.70Z" fill="#808020"/>
<path d="M454.36 101.00L458.19 101.00L456.27 97.70Z" fill="#808020"/>
<path d="M461.31 101.00L465.14 101.00L463.23 97.70Z" fill="#808020"/>
<path d="M468.26 101.00L472.09 101.00L470.18 97.70Z" fill="#808020"/>
<path d="M475.22 101.00L479.05 101.00L477.13 97.70Z" fill="#808020"/>
<path d="M482.17 101.00L486.00 101.00L484.08 97.70Z" fill="#808020"/>
<path d="M489.12 101.00L492.95 101.00L491.04 97.70Z" fill="#808020"/>
<path d="M496.08 101.00L499.90 101.00L497.99 97.70Z" fill="#808020"/>
<path d="M503.03 101.00L506.86 101.00L504.94 97.70Z" fill="#808020"/>
<path d="M509.98 101.00L513.81 101.00L511.89 97.70Z" fill="#808020"/>
<path d="M516.93 101.00L520.76 101.00L518.85 97.70Z" fill="#808020"/>
<path d="M523.89 101.00L527.71 101.00L525.80 97.70Z" fill="#808020"/>
<path d="M393.7 69.8L400.5 91.4L401.9 92.2L403.3 93.0L404.7 93.6L406.1 94.3L407.5 94.8L408.9 95.3L410.4 95.7L411.8 96.1L413.2 96.5L414.6 96.8L416.0 97.2L417.4 97.5L418.8 97.7L420.2 98.0L421.6 98.2L423.0 98.5L424.4 98.7L425.8 99.0L427.2 99.2L428.7 99.3L430.1 99.5L431.5 99.7L432.9 99.8L434.3 99.9L435.7 99.9L437.1 99.9L438.5 99.9L439.9 99.9L441.3 99.9L442.7 99.9L444.1 99.9L445.6 99.9L447.0 99.9L448.4 99.9L449.8 99.9L451.2 99.9L452.6 99.9L454.0 99.9L455.4 99.9L456.8 99.9L458.2 99.9L459.6 99.9L461.0 99.9L462.4 99.9L463.9 99.9L465.3 99.9L466.7 99.9L468.1 99.9L469.5 99.9L470.9 99.9L472.3 99.9L473.7 99.9L475.1 99.9L476.5 99.9L477.9 99.9L479.3 99.9L480.7 99.9L482.2 99.9L483.6 99.9L485.0 99.9L486.4 99.9L487.8 99.9L489.2 99.9L490.6 99.9L492.0 99.9L493.4 99.9L494.8 99.9L496.2 99.9L497.6 99.9L499.1 99.9L500.5 99.9L501.9 99.9L503.3 99.9L504.7 99.9L506.1 99.9L507.5 99.9L508.9 99.9L510.3 99.9L511.7 99.9L513.1 99.9L514.5 99.9L515.9 99.9L517.4 99.9L518.8 99.9L520.2 99.9L521.6 99.9L523.0 99.9L524.4 99.9L525.8 99.9" fill="none" stroke="#ee3399" stroke-width="1.05" stroke-linejoin="round"/>
<rect x="392.20" y="68.30" width="3.00" height="3.00" fill="#ee3399"/>
<rect x="399.15" y="89.99" width="3.00" height="3.00" fill="#ee3399"/>
<rect x="406.11" y="93.34" width="3.00" height="3.00" fill="#ee3399"/>
<rect x="413.06" y="95.34" width="3.00" height="3.00" fill="#ee3399"/>
<rect x="420.01" y="96.72" width="3.00" height="3.00" fill="#ee3399"/>
<rect x="426.96" y="97.82" width="3.00" height="3.00" fill="#ee3399"/>
<rect x="433.92" y="98.40" width="3.00" height="3.00" fill="#ee3399"/>
<rect x="440.87" y="98.40" width="3.00" height="3.00" fill="#ee3399"/>
<rect x="447.82" y="98.40" width="3.00" height="3.00" fill="#ee3399"/>
<rect x="454.77" y="98.40" width="3.00" height="3.00" fill="#ee3399"/>
<rect x="461.73" y="98.40" width="3.00" height="3.00" fill="#ee3399"/>
<rect x="468.68" y="98.40" width="3.00" height="3.00" fill="#ee3399"/>
<rect x="475.63" y="98.40" width="3.00" height="3.00" fill="#ee3399"/>
<rect x="482.58" y="98.40" width="3.00" height="3.00" fill="#ee3399"/>
<rect x="489.54" y="98.40" width="3.00" height="3.00" fill="#ee3399"/>
<rect x="496.49" y="98.40" width="3.00" height="3.00" fill="#ee3399"/>
<rect x="503.44" y="98.40" width="3.00" height="3.00" fill="#ee3399"/>
<rect x="510.39" y="98.40" width="3.00" height="3.00" fill="#ee3399"/>
<rect x="517.35" y="98.40" width="3.00" height="3.00" fill="#ee3399"/>
<rect x="524.30" y="98.40" width="3.00" height="3.00" fill="#ee3399"/>
<path d="M393.7 17.5L400.5 91.2L401.9 93.6L403.3 95.8L404.7 97.6L406.1 98.8L407.5 99.4L408.9 99.6L410.4 99.7L411.8 99.8L413.2 99.9L414.6 99.9L416.0 99.9L417.4 99.9L418.8 99.9L420.2 99.9L421.6 99.9L423.0 99.9L424.4 99.9L425.8 99.9L427.2 99.9L428.7 99.9L430.1 99.9L431.5 99.9L432.9 99.9L434.3 99.9L435.7 99.9L437.1 99.9L438.5 99.9L439.9 99.9L441.3 99.9L442.7 99.9L444.1 99.9L445.6 99.9L447.0 99.9L448.4 99.9L449.8 99.9L451.2 99.9L452.6 99.9L454.0 99.9L455.4 99.9L456.8 99.9L458.2 99.9L459.6 99.9L461.0 99.9L462.4 99.9L463.9 99.9L465.3 99.9L466.7 99.9L468.1 99.9L469.5 99.9L470.9 99.9L472.3 99.9L473.7 99.9L475.1 99.9L476.5 99.9L477.9 99.9L479.3 99.9L480.7 99.9L482.2 99.9L483.6 99.9L485.0 99.9L486.4 99.9L487.8 99.9L489.2 99.9L490.6 99.9L492.0 99.9L493.4 99.9L494.8 99.9L496.2 99.9L497.6 99.9L499.1 99.9L500.5 99.9L501.9 99.9L503.3 99.9L504.7 99.9L506.1 99.9L507.5 99.9L508.9 99.9L510.3 99.9L511.7 99.9L513.1 99.9L514.5 99.9L515.9 99.9L517.4 99.9L518.8 99.9L520.2 99.9L521.6 99.9L523.0 99.9L524.4 99.9L525.8 99.9" fill="none" stroke="#00cc66" stroke-width="1.05" stroke-linejoin="round"/>
<path d="M391.79 16.40L395.61 16.40L393.70 19.70Z" fill="#00cc66"/>
<path d="M398.74 90.36L402.57 90.36L400.65 93.66Z" fill="#00cc66"/>
<path d="M405.69 98.31L409.52 98.31L407.61 101.61Z" fill="#00cc66"/>
<path d="M412.64 98.80L416.47 98.80L414.56 102.10Z" fill="#00cc66"/>
<path d="M419.60 98.80L423.42 98.80L421.51 102.10Z" fill="#00cc66"/>
<path d="M426.55 98.80L430.38 98.80L428.46 102.10Z" fill="#00cc66"/>
<path d="M433.50 98.80L437.33 98.80L435.42 102.10Z" fill="#00cc66"/>
<path d="M440.45 98.80L444.28 98.80L442.37 102.10Z" fill="#00cc66"/>
<path d="M447.41 98.80L451.24 98.80L449.32 102.10Z" fill="#00cc66"/>
<path d="M454.36 98.80L458.19 98.80L456.27 102.10Z" fill="#00cc66"/>
<path d="M461.31 98.80L465.14 98.80L463.23 102.10Z" fill="#00cc66"/>
<path d="M468.26 98.80L472.09 98.80L470.18 102.10Z" fill="#00cc66"/>
<path d="M475.22 98.80L479.05 98.80L477.13 102.10Z" fill="#00cc66"/>
<path d="M482.17 98.80L486.00 98.80L484.08 102.10Z" fill="#00cc66"/>
<path d="M489.12 98.80L492.95 98.80L491.04 102.10Z" fill="#00cc66"/>
<path d="M496.08 98.80L499.90 98.80L497.99 102.10Z" fill="#00cc66"/>
<path d="M503.03 98.80L506.86 98.80L504.94 102.10Z" fill="#00cc66"/>
<path d="M509.98 98.80L513.81 98.80L511.89 102.10Z" fill="#00cc66"/>
<path d="M516.93 98.80L520.76 98.80L518.85 102.10Z" fill="#00cc66"/>
<path d="M523.89 98.80L527.71 98.80L525.80 102.10Z" fill="#00cc66"/>
<path d="M393.7 18.0L400.5 75.9L401.9 76.0L403.3 76.1L404.7 76.2L406.1 76.2L407.5 76.3L408.9 76.4L410.4 76.4L411.8 76.5L413.2 76.5L414.6 76.6L416.0 76.8L417.4 77.3L418.8 77.8L420.2 78.6L421.6 79.5L423.0 81.9L424.4 85.6L425.8 89.8L427.2 93.3L428.7 95.1L430.1 96.1L431.5 97.0L432.9 97.6L434.3 98.2L435.7 98.6L437.1 99.0L438.5 99.4L439.9 99.7L441.3 99.9L442.7 99.9L444.1 99.9L445.6 99.9L447.0 99.9L448.4 99.9L449.8 99.9L451.2 99.9L452.6 99.9L454.0 99.9L455.4 99.9L456.8 99.9L458.2 99.9L459.6 99.9L461.0 99.9L462.4 99.9L463.9 99.9L465.3 99.9L466.7 99.9L468.1 99.9L469.5 99.9L470.9 99.9L472.3 99.9L473.7 99.9L475.1 99.9L476.5 99.9L477.9 99.9L479.3 99.9L480.7 99.9L482.2 99.9L483.6 99.9L485.0 99.9L486.4 99.9L487.8 99.9L489.2 99.9L490.6 99.9L492.0 99.9L493.4 99.9L494.8 99.9L496.2 99.9L497.6 99.9L499.1 99.9L500.5 99.9L501.9 99.9L503.3 99.9L504.7 99.9L506.1 99.9L507.5 99.9L508.9 99.9L510.3 99.9L511.7 99.9L513.1 99.9L514.5 99.9L515.9 99.9L517.4 99.9L518.8 99.9L520.2 99.9L521.6 99.9L523.0 99.9L524.4 99.9L525.8 99.9" fill="none" stroke="#e6195a" stroke-width="1.05" stroke-linejoin="round"/>
<circle cx="393.70" cy="18.00" r="1.3" fill="#f280a8" stroke="#e6195a" stroke-width="0.8"/>
<circle cx="400.65" cy="75.91" r="1.3" fill="#f280a8" stroke="#e6195a" stroke-width="0.8"/>
<circle cx="407.61" cy="76.31" r="1.3" fill="#f280a8" stroke="#e6195a" stroke-width="0.8"/>
<circle cx="414.56" cy="76.61" r="1.3" fill="#f280a8" stroke="#e6195a" stroke-width="0.8"/>
<circle cx="421.51" cy="79.38" r="1.3" fill="#f280a8" stroke="#e6195a" stroke-width="0.8"/>
<circle cx="428.46" cy="94.94" r="1.3" fill="#f280a8" stroke="#e6195a" stroke-width="0.8"/>
<circle cx="435.42" cy="98.53" r="1.3" fill="#f280a8" stroke="#e6195a" stroke-width="0.8"/>
<circle cx="442.37" cy="99.90" r="1.3" fill="#f280a8" stroke="#e6195a" stroke-width="0.8"/>
<circle cx="449.32" cy="99.90" r="1.3" fill="#f280a8" stroke="#e6195a" stroke-width="0.8"/>
<circle cx="456.27" cy="99.90" r="1.3" fill="#f280a8" stroke="#e6195a" stroke-width="0.8"/>
<circle cx="463.23" cy="99.90" r="1.3" fill="#f280a8" stroke="#e6195a" stroke-width="0.8"/>
<circle cx="470.18" cy="99.90" r="1.3" fill="#f280a8" stroke="#e6195a" stroke-width="0.8"/>
<circle cx="477.13" cy="99.90" r="1.3" fill="#f280a8" stroke="#e6195a" stroke-width="0.8"/>
<circle cx="484.08" cy="99.90" r="1.3" fill="#f280a8" stroke="#e6195a" stroke-width="0.8"/>
<circle cx="491.04" cy="99.90" r="1.3" fill="#f280a8" stroke="#e6195a" stroke-width="0.8"/>
<circle cx="497.99" cy="99.90" r="1.3" fill="#f280a8" stroke="#e6195a" stroke-width="0.8"/>
<circle cx="504.94" cy="99.90" r="1.3" fill="#f280a8" stroke="#e6195a" stroke-width="0.8"/>
<circle cx="511.89" cy="99.90" r="1.3" fill="#f280a8" stroke="#e6195a" stroke-width="0.8"/>
<circle cx="518.85" cy="99.90" r="1.3" fill="#f280a8" stroke="#e6195a" stroke-width="0.8"/>
<circle cx="525.80" cy="99.90" r="1.3" fill="#f280a8" stroke="#e6195a" stroke-width="0.8"/>
<path d="M393.7 17.5L400.5 75.9L401.9 79.6L403.3 83.0L404.7 86.1L406.1 88.7L407.5 90.9L408.9 92.6L410.4 94.3L411.8 95.6L413.2 96.8L414.6 97.6L416.0 98.3L417.4 98.9L418.8 99.4L420.2 99.7L421.6 99.8L423.0 99.8L424.4 99.8L425.8 99.8L427.2 99.8L428.7 99.8L430.1 99.8L431.5 99.8L432.9 99.8L434.3 99.8L435.7 99.8L437.1 99.8L438.5 99.8L439.9 99.8L441.3 99.8L442.7 99.8L444.1 99.8L445.6 99.9L447.0 99.9L448.4 99.9L449.8 99.9L451.2 99.9L452.6 99.9L454.0 99.9L455.4 99.9L456.8 99.9L458.2 99.9L459.6 99.9L461.0 99.9L462.4 99.9L463.9 99.9L465.3 99.9L466.7 99.9L468.1 99.9L469.5 99.9L470.9 99.9L472.3 99.9L473.7 99.9L475.1 99.9L476.5 99.9L477.9 99.9L479.3 99.9L480.7 99.9L482.2 99.9L483.6 99.9L485.0 99.9L486.4 99.9L487.8 99.9L489.2 99.9L490.6 99.9L492.0 99.9L493.4 99.9L494.8 99.9L496.2 99.9L497.6 99.9L499.1 99.9L500.5 99.9L501.9 99.9L503.3 99.9L504.7 99.9L506.1 99.9L507.5 99.9L508.9 99.9L510.3 99.9L511.7 99.9L513.1 99.9L514.5 99.9L515.9 99.9L517.4 99.9L518.8 99.9L520.2 99.9L521.6 99.9L523.0 99.9L524.4 99.9L525.8 99.9" fill="none" stroke="#5c5cd0" stroke-width="1.05" stroke-linejoin="round"/>
<path d="M391.79 18.60L395.61 18.60L393.70 15.30Z" fill="#5c5cd0"/>
<path d="M398.74 77.41L402.57 77.41L400.65 74.11Z" fill="#5c5cd0"/>
<path d="M405.69 92.04L409.52 92.04L407.61 88.74Z" fill="#5c5cd0"/>
<path d="M412.64 98.68L416.47 98.68L414.56 95.38Z" fill="#5c5cd0"/>
<path d="M419.60 100.90L423.42 100.90L421.51 97.60Z" fill="#5c5cd0"/>
<path d="M426.55 100.92L430.38 100.92L428.46 97.62Z" fill="#5c5cd0"/>
<path d="M433.50 100.93L437.33 100.93L435.42 97.63Z" fill="#5c5cd0"/>
<path d="M440.45 100.95L444.28 100.95L442.37 97.65Z" fill="#5c5cd0"/>
<path d="M447.41 100.96L451.24 100.96L449.32 97.66Z" fill="#5c5cd0"/>
<path d="M454.36 100.97L458.19 100.97L456.27 97.67Z" fill="#5c5cd0"/>
<path d="M461.31 100.98L465.14 100.98L463.23 97.68Z" fill="#5c5cd0"/>
<path d="M468.26 100.98L472.09 100.98L470.18 97.68Z" fill="#5c5cd0"/>
<path d="M475.22 100.99L479.05 100.99L477.13 97.69Z" fill="#5c5cd0"/>
<path d="M482.17 100.99L486.00 100.99L484.08 97.69Z" fill="#5c5cd0"/>
<path d="M489.12 100.99L492.95 100.99L491.04 97.69Z" fill="#5c5cd0"/>
<path d="M496.08 101.00L499.90 101.00L497.99 97.70Z" fill="#5c5cd0"/>
<path d="M503.03 101.00L506.86 101.00L504.94 97.70Z" fill="#5c5cd0"/>
<path d="M509.98 101.00L513.81 101.00L511.89 97.70Z" fill="#5c5cd0"/>
<path d="M516.93 101.00L520.76 101.00L518.85 97.70Z" fill="#5c5cd0"/>
<path d="M523.89 101.00L527.71 101.00L525.80 97.70Z" fill="#5c5cd0"/>
<path d="M393.7 16.5L400.5 91.5L401.9 93.8L403.3 95.9L404.7 97.6L406.1 98.8L407.5 99.4L408.9 99.6L410.4 99.7L411.8 99.8L413.2 99.9L414.6 99.9L416.0 99.9L417.4 99.9L418.8 99.9L420.2 99.9L421.6 99.9L423.0 99.9L424.4 99.9L425.8 99.9L427.2 99.9L428.7 99.9L430.1 99.9L431.5 99.9L432.9 99.9L434.3 99.9L435.7 99.9L437.1 99.9L438.5 99.9L439.9 99.9L441.3 99.9L442.7 99.9L444.1 99.9L445.6 99.9L447.0 99.9L448.4 99.9L449.8 99.9L451.2 99.9L452.6 99.9L454.0 99.9L455.4 99.9L456.8 99.9L458.2 99.9L459.6 99.9L461.0 99.9L462.4 99.9L463.9 99.9L465.3 99.9L466.7 99.9L468.1 99.9L469.5 99.9L470.9 99.9L472.3 99.9L473.7 99.9L475.1 99.9L476.5 99.9L477.9 99.9L479.3 99.9L480.7 99.9L482.2 99.9L483.6 99.9L485.0 99.9L486.4 99.9L487.8 99.9L489.2 99.9L490.6 99.9L492.0 99.9L493.4 99.9L494.8 99.9L496.2 99.9L497.6 99.9L499.1 99.9L500.5 99.9L501.9 99.9L503.3 99.9L504.7 99.9L506.1 99.9L507.5 99.9L508.9 99.9L510.3 99.9L511.7 99.9L513.1 99.9L514.5 99.9L515.9 99.9L517.4 99.9L518.8 99.9L520.2 99.9L521.6 99.9L523.0 99.9L524.4 99.9L525.8 99.9" fill="none" stroke="#b4b4b4" stroke-width="1.05" stroke-linejoin="round"/>
<path d="M393.70 14.40L395.30 16.50L393.70 18.60L392.10 16.50Z" fill="#b4b4b4"/>
<path d="M400.65 89.65L402.25 91.75L400.65 93.85L399.05 91.75Z" fill="#b4b4b4"/>
<path d="M407.61 97.31L409.21 99.41L407.61 101.51L406.01 99.41Z" fill="#b4b4b4"/>
<path d="M414.56 97.80L416.16 99.90L414.56 102.00L412.96 99.90Z" fill="#b4b4b4"/>
<path d="M421.51 97.80L423.11 99.90L421.51 102.00L419.91 99.90Z" fill="#b4b4b4"/>
<path d="M428.46 97.80L430.06 99.90L428.46 102.00L426.86 99.90Z" fill="#b4b4b4"/>
<path d="M435.42 97.80L437.02 99.90L435.42 102.00L433.82 99.90Z" fill="#b4b4b4"/>
<path d="M442.37 97.80L443.97 99.90L442.37 102.00L440.77 99.90Z" fill="#b4b4b4"/>
<path d="M449.32 97.80L450.92 99.90L449.32 102.00L447.72 99.90Z" fill="#b4b4b4"/>
<path d="M456.27 97.80L457.87 99.90L456.27 102.00L454.67 99.90Z" fill="#b4b4b4"/>
<path d="M463.23 97.80L464.83 99.90L463.23 102.00L461.63 99.90Z" fill="#b4b4b4"/>
<path d="M470.18 97.80L471.78 99.90L470.18 102.00L468.58 99.90Z" fill="#b4b4b4"/>
<path d="M477.13 97.80L478.73 99.90L477.13 102.00L475.53 99.90Z" fill="#b4b4b4"/>
<path d="M484.08 97.80L485.68 99.90L484.08 102.00L482.48 99.90Z" fill="#b4b4b4"/>
<path d="M491.04 97.80L492.64 99.90L491.04 102.00L489.44 99.90Z" fill="#b4b4b4"/>
<path d="M497.99 97.80L499.59 99.90L497.99 102.00L496.39 99.90Z" fill="#b4b4b4"/>
<path d="M504.94 97.80L506.54 99.90L504.94 102.00L503.34 99.90Z" fill="#b4b4b4"/>
<path d="M511.89 97.80L513.49 99.90L511.89 102.00L510.29 99.90Z" fill="#b4b4b4"/>
<path d="M518.85 97.80L520.45 99.90L518.85 102.00L517.25 99.90Z" fill="#b4b4b4"/>
<path d="M525.80 97.80L527.40 99.90L525.80 102.00L524.20 99.90Z" fill="#b4b4b4"/>
<rect x="393.70" y="15.70" width="132.10" height="89.60" fill="none" stroke="#a0a0a0" stroke-width="0.6"/>
<line x1="393.70" y1="105.30" x2="393.70" y2="104.10" stroke="#a0a0a0" stroke-width="0.5"/>
<line x1="393.70" y1="15.70" x2="393.70" y2="16.90" stroke="#a0a0a0" stroke-width="0.5"/>
<text class="s" x="393.70" y="113.00" font-size="5.27" text-anchor="middle" fill="#262626">0</text>
<line x1="420.12" y1="105.30" x2="420.12" y2="104.10" stroke="#a0a0a0" stroke-width="0.5"/>
<line x1="420.12" y1="15.70" x2="420.12" y2="16.90" stroke="#a0a0a0" stroke-width="0.5"/>
<text class="s" x="420.12" y="113.00" font-size="5.27" text-anchor="middle" fill="#262626">200</text>
<line x1="446.54" y1="105.30" x2="446.54" y2="104.10" stroke="#a0a0a0" stroke-width="0.5"/>
<line x1="446.54" y1="15.70" x2="446.54" y2="16.90" stroke="#a0a0a0" stroke-width="0.5"/>
<text class="s" x="446.54" y="113.00" font-size="5.27" text-anchor="middle" fill="#262626">400</text>
<line x1="472.96" y1="105.30" x2="472.96" y2="104.10" stroke="#a0a0a0" stroke-width="0.5"/>
<line x1="472.96" y1="15.70" x2="472.96" y2="16.90" stroke="#a0a0a0" stroke-width="0.5"/>
<text class="s" x="472.96" y="113.00" font-size="5.27" text-anchor="middle" fill="#262626">600</text>
<line x1="499.38" y1="105.30" x2="499.38" y2="104.10" stroke="#a0a0a0" stroke-width="0.5"/>
<line x1="499.38" y1="15.70" x2="499.38" y2="16.90" stroke="#a0a0a0" stroke-width="0.5"/>
<text class="s" x="499.38" y="113.00" font-size="5.27" text-anchor="middle" fill="#262626">800</text>
<line x1="525.80" y1="105.30" x2="525.80" y2="104.10" stroke="#a0a0a0" stroke-width="0.5"/>
<line x1="525.80" y1="15.70" x2="525.80" y2="16.90" stroke="#a0a0a0" stroke-width="0.5"/>
<text class="s" x="525.80" y="113.00" font-size="5.27" text-anchor="middle" fill="#262626">1000</text>
<text class="s" x="392.40" y="107.90" font-size="5.27" text-anchor="end" fill="#262626">0</text>
<line x1="393.70" y1="105.30" x2="394.90" y2="105.30" stroke="#a0a0a0" stroke-width="0.5"/>
<line x1="525.80" y1="105.30" x2="524.60" y2="105.30" stroke="#a0a0a0" stroke-width="0.5"/>
<text class="s" x="392.40" y="92.97" font-size="5.27" text-anchor="end" fill="#262626">1</text>
<line x1="393.70" y1="90.37" x2="394.90" y2="90.37" stroke="#a0a0a0" stroke-width="0.5"/>
<line x1="525.80" y1="90.37" x2="524.60" y2="90.37" stroke="#a0a0a0" stroke-width="0.5"/>
<text class="s" x="392.40" y="78.03" font-size="5.27" text-anchor="end" fill="#262626">2</text>
<line x1="393.70" y1="75.43" x2="394.90" y2="75.43" stroke="#a0a0a0" stroke-width="0.5"/>
<line x1="525.80" y1="75.43" x2="524.60" y2="75.43" stroke="#a0a0a0" stroke-width="0.5"/>
<text class="s" x="392.40" y="63.10" font-size="5.27" text-anchor="end" fill="#262626">3</text>
<line x1="393.70" y1="60.50" x2="394.90" y2="60.50" stroke="#a0a0a0" stroke-width="0.5"/>
<line x1="525.80" y1="60.50" x2="524.60" y2="60.50" stroke="#a0a0a0" stroke-width="0.5"/>
<text class="s" x="392.40" y="48.17" font-size="5.27" text-anchor="end" fill="#262626">4</text>
<line x1="393.70" y1="45.57" x2="394.90" y2="45.57" stroke="#a0a0a0" stroke-width="0.5"/>
<line x1="525.80" y1="45.57" x2="524.60" y2="45.57" stroke="#a0a0a0" stroke-width="0.5"/>
<text class="s" x="392.40" y="33.23" font-size="5.27" text-anchor="end" fill="#262626">5</text>
<line x1="393.70" y1="30.63" x2="394.90" y2="30.63" stroke="#a0a0a0" stroke-width="0.5"/>
<line x1="525.80" y1="30.63" x2="524.60" y2="30.63" stroke="#a0a0a0" stroke-width="0.5"/>
<text class="s" x="392.40" y="18.30" font-size="5.27" text-anchor="end" fill="#262626">6</text>
<line x1="393.70" y1="15.70" x2="394.90" y2="15.70" stroke="#a0a0a0" stroke-width="0.5"/>
<line x1="525.80" y1="15.70" x2="524.60" y2="15.70" stroke="#a0a0a0" stroke-width="0.5"/>
<text class="s" x="394.50" y="14.90" font-size="5.27" fill="#262626">×10<tspan font-size="3.69" dy="-2">4</tspan></text>
<text class="s" x="459.75" y="14.10" font-size="5.8" text-anchor="middle" fill="#1a1a1a">CEC2017 F24 Dim=50</text>
<text class="s" x="459.75" y="119.90" font-size="5.8" text-anchor="middle" fill="#1a1a1a">Iterations</text>
<text class="s" transform="translate(386.50,60.50) rotate(-90)" x="0" y="0" font-size="5.8" text-anchor="middle" fill="#1a1a1a">Average Fitness</text>
<line x1="29.50" y1="215.02" x2="162.20" y2="215.02" stroke="#e6e6e6" stroke-width="0.5"/>
<line x1="29.50" y1="200.08" x2="162.20" y2="200.08" stroke="#e6e6e6" stroke-width="0.5"/>
<line x1="29.50" y1="185.15" x2="162.20" y2="185.15" stroke="#e6e6e6" stroke-width="0.5"/>
<line x1="29.50" y1="170.22" x2="162.20" y2="170.22" stroke="#e6e6e6" stroke-width="0.5"/>
<line x1="29.50" y1="155.28" x2="162.20" y2="155.28" stroke="#e6e6e6" stroke-width="0.5"/>
<line x1="56.04" y1="140.35" x2="56.04" y2="229.95" stroke="#e6e6e6" stroke-width="0.5"/>
<line x1="82.58" y1="140.35" x2="82.58" y2="229.95" stroke="#e6e6e6" stroke-width="0.5"/>
<line x1="109.12" y1="140.35" x2="109.12" y2="229.95" stroke="#e6e6e6" stroke-width="0.5"/>
<line x1="135.66" y1="140.35" x2="135.66" y2="229.95" stroke="#e6e6e6" stroke-width="0.5"/>
<path d="M29.5 195.3L36.5 220.5L37.9 221.2L39.3 221.8L40.7 222.3L42.1 222.8L43.6 223.1L45.0 223.4L46.4 223.6L47.8 223.8L49.2 224.0L50.6 224.1L52.0 224.2L53.4 224.3L54.9 224.4L56.3 224.5L57.7 224.6L59.1 224.8L60.5 225.0L61.9 225.3L63.3 225.5L64.7 225.6L66.2 225.7L67.6 225.8L69.0 225.9L70.4 226.0L71.8 226.1L73.2 226.3L74.6 226.5L76.0 226.7L77.5 226.8L78.9 226.9L80.3 227.0L81.7 227.1L83.1 227.2L84.5 227.3L85.9 227.3L87.3 227.4L88.8 227.4L90.2 227.5L91.6 227.5L93.0 227.5L94.4 227.5L95.8 227.6L97.2 227.6L98.6 227.6L100.1 227.6L101.5 227.6L102.9 227.7L104.3 227.7L105.7 227.7L107.1 227.7L108.5 227.7L109.9 227.7L111.4 227.7L112.8 227.7L114.2 227.8L115.6 227.8L117.0 227.8L118.4 227.8L119.8 227.8L121.2 227.8L122.7 227.8L124.1 227.8L125.5 227.8L126.9 227.8L128.3 227.9L129.7 227.9L131.1 227.9L132.5 227.9L134.0 227.9L135.4 227.9L136.8 227.9L138.2 227.9L139.6 227.9L141.0 227.9L142.4 227.9L143.8 227.9L145.3 227.9L146.7 228.0L148.1 228.0L149.5 228.0L150.9 228.0L152.3 228.0L153.7 228.0L155.1 228.0L156.6 228.0L158.0 228.0L159.4 228.0L160.8 228.0L162.2 228.0" fill="none" stroke="#000000" stroke-width="1.05" stroke-linejoin="round"/>
<path d="M27.59 194.20L31.41 194.20L29.50 197.50Z" fill="#000000"/>
<path d="M34.57 219.34L38.40 219.34L36.48 222.64Z" fill="#000000"/>
<path d="M41.55 222.01L45.38 222.01L43.47 225.31Z" fill="#000000"/>
<path d="M48.54 223.00L52.37 223.00L50.45 226.30Z" fill="#000000"/>
<path d="M55.52 223.50L59.35 223.50L57.44 226.80Z" fill="#000000"/>
<path d="M62.51 224.50L66.34 224.50L64.42 227.80Z" fill="#000000"/>
<path d="M69.49 225.00L73.32 225.00L71.41 228.30Z" fill="#000000"/>
<path d="M76.48 225.81L80.30 225.81L78.39 229.11Z" fill="#000000"/>
<path d="M83.46 226.19L87.29 226.19L85.37 229.49Z" fill="#000000"/>
<path d="M90.44 226.41L94.27 226.41L92.36 229.71Z" fill="#000000"/>
<path d="M97.43 226.52L101.26 226.52L99.34 229.82Z" fill="#000000"/>
<path d="M104.41 226.59L108.24 226.59L106.33 229.89Z" fill="#000000"/>
<path d="M111.40 226.65L115.22 226.65L113.31 229.95Z" fill="#000000"/>
<path d="M118.38 226.70L122.21 226.70L120.29 230.00Z" fill="#000000"/>
<path d="M125.36 226.75L129.19 226.75L127.28 230.05Z" fill="#000000"/>
<path d="M132.35 226.79L136.18 226.79L134.26 230.09Z" fill="#000000"/>
<path d="M139.33 226.83L143.16 226.83L141.25 230.13Z" fill="#000000"/>
<path d="M146.32 226.86L150.15 226.86L148.23 230.16Z" fill="#000000"/>
<path d="M153.30 226.89L157.13 226.89L155.22 230.19Z" fill="#000000"/>
<path d="M160.29 226.90L164.11 226.90L162.20 230.20Z" fill="#000000"/>
<path d="M29.5 153.3L36.5 187.0L37.9 187.1L39.3 187.2L40.7 187.5L42.1 187.8L43.6 188.3L45.0 189.6L46.4 192.4L47.8 195.9L49.2 199.5L50.6 202.5L52.0 205.4L53.4 208.4L54.9 211.2L56.3 213.5L57.7 215.1L59.1 216.2L60.5 217.2L61.9 218.0L63.3 218.6L64.7 219.1L66.2 219.5L67.6 219.8L69.0 220.1L70.4 220.3L71.8 220.6L73.2 220.8L74.6 221.0L76.0 221.2L77.5 221.4L78.9 221.6L80.3 221.8L81.7 222.0L83.1 222.2L84.5 222.4L85.9 222.6L87.3 222.9L88.8 223.1L90.2 223.3L91.6 223.4L93.0 223.6L94.4 223.8L95.8 224.0L97.2 224.2L98.6 224.4L100.1 224.6L101.5 224.8L102.9 225.0L104.3 225.1L105.7 225.3L107.1 225.4L108.5 225.4L109.9 225.5L111.4 225.5L112.8 225.6L114.2 225.6L115.6 225.6L117.0 225.7L118.4 225.7L119.8 225.7L121.2 225.7L122.7 225.8L124.1 225.8L125.5 225.8L126.9 225.8L128.3 225.9L129.7 225.9L131.1 225.9L132.5 225.9L134.0 225.9L135.4 225.9L136.8 226.0L138.2 226.0L139.6 226.0L141.0 226.0L142.4 226.0L143.8 226.0L145.3 226.0L146.7 226.1L148.1 226.1L149.5 226.1L150.9 226.1L152.3 226.1L153.7 226.1L155.1 226.1L156.6 226.1L158.0 226.1L159.4 226.1L160.8 226.1L162.2 226.1" fill="none" stroke="#ff0000" stroke-width="1.05" stroke-linejoin="round"/>
<circle cx="29.50" cy="153.30" r="1.65" fill="#ff0000"/>
<circle cx="36.48" cy="186.92" r="1.65" fill="#ff0000"/>
<circle cx="43.47" cy="188.26" r="1.65" fill="#ff0000"/>
<circle cx="50.45" cy="202.20" r="1.65" fill="#ff0000"/>
<circle cx="57.44" cy="214.83" r="1.65" fill="#ff0000"/>
<circle cx="64.42" cy="219.01" r="1.65" fill="#ff0000"/>
<circle cx="71.41" cy="220.50" r="1.65" fill="#ff0000"/>
<circle cx="78.39" cy="221.51" r="1.65" fill="#ff0000"/>
<circle cx="85.37" cy="222.57" r="1.65" fill="#ff0000"/>
<circle cx="92.36" cy="223.55" r="1.65" fill="#ff0000"/>
<circle cx="99.34" cy="224.51" r="1.65" fill="#ff0000"/>
<circle cx="106.33" cy="225.30" r="1.65" fill="#ff0000"/>
<circle cx="113.31" cy="225.58" r="1.65" fill="#ff0000"/>
<circle cx="120.29" cy="225.72" r="1.65" fill="#ff0000"/>
<circle cx="127.28" cy="225.84" r="1.65" fill="#ff0000"/>
<circle cx="134.26" cy="225.94" r="1.65" fill="#ff0000"/>
<circle cx="141.25" cy="226.01" r="1.65" fill="#ff0000"/>
<circle cx="148.23" cy="226.06" r="1.65" fill="#ff0000"/>
<circle cx="155.22" cy="226.09" r="1.65" fill="#ff0000"/>
<circle cx="162.20" cy="226.10" r="1.65" fill="#ff0000"/>
<path d="M29.5 153.5L36.5 207.6L37.9 208.9L39.3 210.1L40.7 211.2L42.1 212.0L43.6 212.7L45.0 213.1L46.4 213.5L47.8 213.8L49.2 214.1L50.6 214.5L52.0 214.8L53.4 215.2L54.9 215.5L56.3 215.9L57.7 216.2L59.1 216.4L60.5 216.7L61.9 217.0L63.3 217.2L64.7 217.5L66.2 217.7L67.6 218.0L69.0 218.2L70.4 218.4L71.8 218.7L73.2 218.8L74.6 219.0L76.0 219.2L77.5 219.4L78.9 219.6L80.3 219.9L81.7 220.2L83.1 220.5L84.5 220.8L85.9 221.1L87.3 221.4L88.8 221.6L90.2 221.8L91.6 222.1L93.0 222.3L94.4 222.6L95.8 222.9L97.2 223.2L98.6 223.5L100.1 223.8L101.5 224.0L102.9 224.3L104.3 224.4L105.7 224.6L107.1 224.7L108.5 224.8L109.9 224.9L111.4 225.0L112.8 225.1L114.2 225.1L115.6 225.2L117.0 225.2L118.4 225.3L119.8 225.3L121.2 225.3L122.7 225.3L124.1 225.3L125.5 225.4L126.9 225.4L128.3 225.4L129.7 225.4L131.1 225.4L132.5 225.4L134.0 225.4L135.4 225.4L136.8 225.4L138.2 225.4L139.6 225.4L141.0 225.5L142.4 225.5L143.8 225.5L145.3 225.5L146.7 225.5L148.1 225.5L149.5 225.5L150.9 225.5L152.3 225.5L153.7 225.5L155.1 225.5L156.6 225.5L158.0 225.5L159.4 225.5L160.8 225.5L162.2 225.5" fill="none" stroke="#808020" stroke-width="1.05" stroke-linejoin="round"/>
<path d="M27.59 154.60L31.41 154.60L29.50 151.30Z" fill="#808020"/>
<path d="M34.57 208.58L38.40 208.58L36.48 205.28Z" fill="#808020"/>
<path d="M41.55 213.73L45.38 213.73L43.47 210.43Z" fill="#808020"/>
<path d="M48.54 215.51L52.37 215.51L50.45 212.21Z" fill="#808020"/>
<path d="M55.52 217.21L59.35 217.21L57.44 213.91Z" fill="#808020"/>
<path d="M62.51 218.50L66.34 218.50L64.42 215.20Z" fill="#808020"/>
<path d="M69.49 219.70L73.32 219.70L71.41 216.40Z" fill="#808020"/>
<path d="M76.48 220.61L80.30 220.61L78.39 217.31Z" fill="#808020"/>
<path d="M83.46 222.11L87.29 222.11L85.37 218.81Z" fill="#808020"/>
<path d="M90.44 223.31L94.27 223.31L92.36 220.01Z" fill="#808020"/>
<path d="M97.43 224.74L101.26 224.74L99.34 221.44Z" fill="#808020"/>
<path d="M104.41 225.71L108.24 225.71L106.33 222.41Z" fill="#808020"/>
<path d="M111.40 226.18L115.22 226.18L113.31 222.88Z" fill="#808020"/>
<path d="M118.38 226.40L122.21 226.40L120.29 223.10Z" fill="#808020"/>
<path d="M125.36 226.47L129.19 226.47L127.28 223.17Z" fill="#808020"/>
<path d="M132.35 226.52L136.18 226.52L134.26 223.22Z" fill="#808020"/>
<path d="M139.33 226.55L143.16 226.55L141.25 223.25Z" fill="#808020"/>
<path d="M146.32 226.58L150.15 226.58L148.23 223.28Z" fill="#808020"/>
<path d="M153.30 226.60L157.13 226.60L155.22 223.30Z" fill="#808020"/>
<path d="M160.29 226.60L164.11 226.60L162.20 223.30Z" fill="#808020"/>
<path d="M29.5 177.7L36.5 202.1L37.9 203.1L39.3 204.0L40.7 204.9L42.1 205.7L43.6 206.4L45.0 207.0L46.4 207.6L47.8 208.2L49.2 208.7L50.6 209.2L52.0 209.7L53.4 210.2L54.9 210.7L56.3 211.1L57.7 211.5L59.1 211.8L60.5 212.1L61.9 212.4L63.3 212.7L64.7 213.0L66.2 213.3L67.6 213.7L69.0 214.0L70.4 214.4L71.8 214.7L73.2 215.0L74.6 215.2L76.0 215.5L77.5 215.7L78.9 216.0L80.3 216.4L81.7 216.8L83.1 217.2L84.5 217.6L85.9 218.0L87.3 218.3L88.8 218.7L90.2 219.0L91.6 219.4L93.0 219.8L94.4 220.2L95.8 220.7L97.2 221.1L98.6 221.4L100.1 221.7L101.5 222.0L102.9 222.2L104.3 222.4L105.7 222.6L107.1 222.6L108.5 222.7L109.9 222.8L111.4 222.8L112.8 222.9L114.2 222.9L115.6 222.9L117.0 223.0L118.4 223.0L119.8 223.0L121.2 223.0L122.7 223.0L124.1 223.0L125.5 223.0L126.9 223.1L128.3 223.1L129.7 223.1L131.1 223.1L132.5 223.1L134.0 223.1L135.4 223.1L136.8 223.1L138.2 223.1L139.6 223.1L141.0 223.1L142.4 223.2L143.8 223.2L145.3 223.2L146.7 223.2L148.1 223.2L149.5 223.2L150.9 223.2L152.3 223.2L153.7 223.2L155.1 223.2L156.6 223.2L158.0 223.2L159.4 223.2L160.8 223.2L162.2 223.2" fill="none" stroke="#ee3399" stroke-width="1.05" stroke-linejoin="round"/>
<rect x="28.00" y="176.20" width="3.00" height="3.00" fill="#ee3399"/>
<rect x="34.98" y="200.54" width="3.00" height="3.00" fill="#ee3399"/>
<rect x="41.97" y="204.83" width="3.00" height="3.00" fill="#ee3399"/>
<rect x="48.95" y="207.62" width="3.00" height="3.00" fill="#ee3399"/>
<rect x="55.94" y="209.91" width="3.00" height="3.00" fill="#ee3399"/>
<rect x="62.92" y="211.40" width="3.00" height="3.00" fill="#ee3399"/>
<rect x="69.91" y="213.10" width="3.00" height="3.00" fill="#ee3399"/>
<rect x="76.89" y="214.42" width="3.00" height="3.00" fill="#ee3399"/>
<rect x="83.87" y="216.32" width="3.00" height="3.00" fill="#ee3399"/>
<rect x="90.86" y="218.12" width="3.00" height="3.00" fill="#ee3399"/>
<rect x="97.84" y="220.09" width="3.00" height="3.00" fill="#ee3399"/>
<rect x="104.83" y="221.10" width="3.00" height="3.00" fill="#ee3399"/>
<rect x="111.81" y="221.38" width="3.00" height="3.00" fill="#ee3399"/>
<rect x="118.79" y="221.50" width="3.00" height="3.00" fill="#ee3399"/>
<rect x="125.78" y="221.56" width="3.00" height="3.00" fill="#ee3399"/>
<rect x="132.76" y="221.61" width="3.00" height="3.00" fill="#ee3399"/>
<rect x="139.75" y="221.65" width="3.00" height="3.00" fill="#ee3399"/>
<rect x="146.73" y="221.68" width="3.00" height="3.00" fill="#ee3399"/>
<rect x="153.72" y="221.69" width="3.00" height="3.00" fill="#ee3399"/>
<rect x="160.70" y="221.70" width="3.00" height="3.00" fill="#ee3399"/>
<path d="M29.5 153.5L36.5 205.3L37.9 209.3L39.3 212.9L40.7 216.0L42.1 218.2L43.6 219.4L45.0 219.9L46.4 220.4L47.8 220.7L49.2 221.0L50.6 221.2L52.0 221.5L53.4 221.8L54.9 222.1L56.3 222.3L57.7 222.4L59.1 222.5L60.5 222.6L61.9 222.7L63.3 222.7L64.7 222.7L66.2 222.7L67.6 222.7L69.0 222.7L70.4 222.7L71.8 222.7L73.2 222.7L74.6 222.7L76.0 222.7L77.5 222.7L78.9 222.7L80.3 222.7L81.7 222.7L83.1 222.7L84.5 222.7L85.9 222.7L87.3 222.7L88.8 222.7L90.2 222.7L91.6 222.7L93.0 222.7L94.4 222.7L95.8 222.7L97.2 222.7L98.6 222.7L100.1 222.7L101.5 222.7L102.9 222.7L104.3 222.7L105.7 222.7L107.1 222.7L108.5 222.7L109.9 222.7L111.4 222.7L112.8 222.7L114.2 222.7L115.6 222.7L117.0 222.7L118.4 222.7L119.8 222.7L121.2 222.7L122.7 222.7L124.1 222.7L125.5 222.7L126.9 222.7L128.3 222.7L129.7 222.7L131.1 222.7L132.5 222.7L134.0 222.7L135.4 222.7L136.8 222.7L138.2 222.7L139.6 222.7L141.0 222.7L142.4 222.7L143.8 222.7L145.3 222.7L146.7 222.7L148.1 222.7L149.5 222.7L150.9 222.7L152.3 222.7L153.7 222.7L155.1 222.7L156.6 222.7L158.0 222.7L159.4 222.7L160.8 222.7L162.2 222.7" fill="none" stroke="#00cc66" stroke-width="1.05" stroke-linejoin="round"/>
<path d="M27.59 152.40L31.41 152.40L29.50 155.70Z" fill="#00cc66"/>
<path d="M34.57 204.08L38.40 204.08L36.48 207.38Z" fill="#00cc66"/>
<path d="M41.55 218.23L45.38 218.23L43.47 221.53Z" fill="#00cc66"/>
<path d="M48.54 220.11L52.37 220.11L50.45 223.41Z" fill="#00cc66"/>
<path d="M55.52 221.30L59.35 221.30L57.44 224.60Z" fill="#00cc66"/>
<path d="M62.51 221.60L66.34 221.60L64.42 224.90Z" fill="#00cc66"/>
<path d="M69.49 221.60L73.32 221.60L71.41 224.90Z" fill="#00cc66"/>
<path d="M76.48 221.60L80.30 221.60L78.39 224.90Z" fill="#00cc66"/>
<path d="M83.46 221.60L87.29 221.60L85.37 224.90Z" fill="#00cc66"/>
<path d="M90.44 221.60L94.27 221.60L92.36 224.90Z" fill="#00cc66"/>
<path d="M97.43 221.60L101.26 221.60L99.34 224.90Z" fill="#00cc66"/>
<path d="M104.41 221.60L108.24 221.60L106.33 224.90Z" fill="#00cc66"/>
<path d="M111.40 221.60L115.22 221.60L113.31 224.90Z" fill="#00cc66"/>
<path d="M118.38 221.60L122.21 221.60L120.29 224.90Z" fill="#00cc66"/>
<path d="M125.36 221.60L129.19 221.60L127.28 224.90Z" fill="#00cc66"/>
<path d="M132.35 221.60L136.18 221.60L134.26 224.90Z" fill="#00cc66"/>
<path d="M139.33 221.60L143.16 221.60L141.25 224.90Z" fill="#00cc66"/>
<path d="M146.32 221.60L150.15 221.60L148.23 224.90Z" fill="#00cc66"/>
<path d="M153.30 221.60L157.13 221.60L155.22 224.90Z" fill="#00cc66"/>
<path d="M160.29 221.60L164.11 221.60L162.20 224.90Z" fill="#00cc66"/>
<path d="M29.5 153.0L36.3 186.3L37.7 186.5L39.1 186.8L40.5 187.0L42.0 187.3L43.4 187.6L44.8 187.8L46.2 188.1L47.6 188.3L49.0 188.6L50.4 188.9L51.9 189.3L53.3 189.9L54.7 190.5L56.1 191.3L57.5 192.4L58.9 195.3L60.3 200.0L61.8 205.4L63.2 210.2L64.6 213.2L66.0 215.0L67.4 216.5L68.8 217.8L70.3 218.8L71.7 219.4L73.1 219.8L74.5 220.2L75.9 220.4L77.3 220.7L78.7 221.0L80.2 221.3L81.6 221.6L83.0 221.9L84.4 222.1L85.8 222.4L87.2 222.6L88.6 222.9L90.1 223.1L91.5 223.4L92.9 223.6L94.3 223.8L95.7 224.0L97.1 224.2L98.5 224.4L100.0 224.5L101.4 224.6L102.8 224.8L104.2 224.9L105.6 225.0L107.0 225.1L108.4 225.2L109.9 225.3L111.3 225.4L112.7 225.5L114.1 225.6L115.5 225.7L116.9 225.7L118.3 225.8L119.8 225.8L121.2 225.8L122.6 225.8L124.0 225.9L125.4 225.9L126.8 225.9L128.2 225.9L129.7 225.9L131.1 225.9L132.5 226.0L133.9 226.0L135.3 226.0L136.7 226.0L138.2 226.0L139.6 226.0L141.0 226.0L142.4 226.0L143.8 226.0L145.2 226.1L146.6 226.1L148.1 226.1L149.5 226.1L150.9 226.1L152.3 226.1L153.7 226.1L155.1 226.1L156.5 226.1L158.0 226.1L159.4 226.1L160.8 226.1L162.2 226.1" fill="none" stroke="#e6195a" stroke-width="1.05" stroke-linejoin="round"/>
<circle cx="29.50" cy="153.00" r="1.3" fill="#f280a8" stroke="#e6195a" stroke-width="0.8"/>
<circle cx="36.48" cy="186.33" r="1.3" fill="#f280a8" stroke="#e6195a" stroke-width="0.8"/>
<circle cx="43.47" cy="187.58" r="1.3" fill="#f280a8" stroke="#e6195a" stroke-width="0.8"/>
<circle cx="50.45" cy="188.93" r="1.3" fill="#f280a8" stroke="#e6195a" stroke-width="0.8"/>
<circle cx="57.44" cy="192.33" r="1.3" fill="#f280a8" stroke="#e6195a" stroke-width="0.8"/>
<circle cx="64.42" cy="212.93" r="1.3" fill="#f280a8" stroke="#e6195a" stroke-width="0.8"/>
<circle cx="71.41" cy="219.30" r="1.3" fill="#f280a8" stroke="#e6195a" stroke-width="0.8"/>
<circle cx="78.39" cy="220.92" r="1.3" fill="#f280a8" stroke="#e6195a" stroke-width="0.8"/>
<circle cx="85.37" cy="222.31" r="1.3" fill="#f280a8" stroke="#e6195a" stroke-width="0.8"/>
<circle cx="92.36" cy="223.50" r="1.3" fill="#f280a8" stroke="#e6195a" stroke-width="0.8"/>
<circle cx="99.34" cy="224.44" r="1.3" fill="#f280a8" stroke="#e6195a" stroke-width="0.8"/>
<circle cx="106.33" cy="225.06" r="1.3" fill="#f280a8" stroke="#e6195a" stroke-width="0.8"/>
<circle cx="113.31" cy="225.56" r="1.3" fill="#f280a8" stroke="#e6195a" stroke-width="0.8"/>
<circle cx="120.29" cy="225.80" r="1.3" fill="#f280a8" stroke="#e6195a" stroke-width="0.8"/>
<circle cx="127.28" cy="225.89" r="1.3" fill="#f280a8" stroke="#e6195a" stroke-width="0.8"/>
<circle cx="134.26" cy="225.97" r="1.3" fill="#f280a8" stroke="#e6195a" stroke-width="0.8"/>
<circle cx="141.25" cy="226.03" r="1.3" fill="#f280a8" stroke="#e6195a" stroke-width="0.8"/>
<circle cx="148.23" cy="226.07" r="1.3" fill="#f280a8" stroke="#e6195a" stroke-width="0.8"/>
<circle cx="155.22" cy="226.09" r="1.3" fill="#f280a8" stroke="#e6195a" stroke-width="0.8"/>
<circle cx="162.20" cy="226.10" r="1.3" fill="#f280a8" stroke="#e6195a" stroke-width="0.8"/>
<path d="M29.5 153.0L36.5 190.6L37.9 194.8L39.3 198.7L40.7 202.2L42.1 205.4L43.6 208.1L45.0 210.5L46.4 212.7L47.8 214.7L49.2 216.3L50.6 217.6L52.0 218.6L53.4 219.4L54.9 220.1L56.3 220.8L57.7 221.3L59.1 221.8L60.5 222.2L61.9 222.5L63.3 222.9L64.7 223.2L66.2 223.5L67.6 223.8L69.0 224.1L70.4 224.3L71.8 224.6L73.2 224.8L74.6 224.9L76.0 225.1L77.5 225.3L78.9 225.5L80.3 225.6L81.7 225.7L83.1 225.9L84.5 226.0L85.9 226.1L87.3 226.2L88.8 226.3L90.2 226.3L91.6 226.4L93.0 226.5L94.4 226.6L95.8 226.7L97.2 226.8L98.6 226.8L100.1 226.9L101.5 227.0L102.9 227.0L104.3 227.1L105.7 227.1L107.1 227.2L108.5 227.2L109.9 227.2L111.4 227.2L112.8 227.2L114.2 227.2L115.6 227.3L117.0 227.3L118.4 227.3L119.8 227.3L121.2 227.3L122.7 227.3L124.1 227.3L125.5 227.4L126.9 227.4L128.3 227.4L129.7 227.4L131.1 227.4L132.5 227.4L134.0 227.4L135.4 227.4L136.8 227.4L138.2 227.4L139.6 227.4L141.0 227.5L142.4 227.5L143.8 227.5L145.3 227.5L146.7 227.5L148.1 227.5L149.5 227.5L150.9 227.5L152.3 227.5L153.7 227.5L155.1 227.5L156.6 227.5L158.0 227.5L159.4 227.5L160.8 227.5L162.2 227.5" fill="none" stroke="#5c5cd0" stroke-width="1.05" stroke-linejoin="round"/>
<path d="M27.59 154.10L31.41 154.10L29.50 150.80Z" fill="#5c5cd0"/>
<path d="M34.57 191.62L38.40 191.62L36.48 188.32Z" fill="#5c5cd0"/>
<path d="M41.55 209.02L45.38 209.02L43.47 205.72Z" fill="#5c5cd0"/>
<path d="M48.54 218.54L52.37 218.54L50.45 215.24Z" fill="#5c5cd0"/>
<path d="M55.52 222.31L59.35 222.31L57.44 219.01Z" fill="#5c5cd0"/>
<path d="M62.51 224.20L66.34 224.20L64.42 220.90Z" fill="#5c5cd0"/>
<path d="M69.49 225.60L73.32 225.60L71.41 222.30Z" fill="#5c5cd0"/>
<path d="M76.48 226.50L80.30 226.50L78.39 223.20Z" fill="#5c5cd0"/>
<path d="M83.46 227.13L87.29 227.13L85.37 223.83Z" fill="#5c5cd0"/>
<path d="M90.44 227.59L94.27 227.59L92.36 224.29Z" fill="#5c5cd0"/>
<path d="M97.43 227.97L101.26 227.97L99.34 224.67Z" fill="#5c5cd0"/>
<path d="M104.41 228.23L108.24 228.23L106.33 224.93Z" fill="#5c5cd0"/>
<path d="M111.40 228.34L115.22 228.34L113.31 225.04Z" fill="#5c5cd0"/>
<path d="M118.38 228.41L122.21 228.41L120.29 225.11Z" fill="#5c5cd0"/>
<path d="M125.36 228.46L129.19 228.46L127.28 225.16Z" fill="#5c5cd0"/>
<path d="M132.35 228.51L136.18 228.51L134.26 225.21Z" fill="#5c5cd0"/>
<path d="M139.33 228.55L143.16 228.55L141.25 225.25Z" fill="#5c5cd0"/>
<path d="M146.32 228.58L150.15 228.58L148.23 225.28Z" fill="#5c5cd0"/>
<path d="M153.30 228.59L157.13 228.59L155.22 225.29Z" fill="#5c5cd0"/>
<path d="M160.29 228.60L164.11 228.60L162.20 225.30Z" fill="#5c5cd0"/>
<path d="M29.5 152.6L36.5 204.6L37.9 207.8L39.3 210.8L40.7 213.3L42.1 215.4L43.6 216.8L45.0 217.9L46.4 218.8L47.8 219.5L49.2 220.1L50.6 220.6L52.0 220.9L53.4 221.2L54.9 221.4L56.3 221.6L57.7 221.8L59.1 222.1L60.5 222.3L61.9 222.5L63.3 222.7L64.7 222.8L66.2 223.0L67.6 223.1L69.0 223.2L70.4 223.3L71.8 223.4L73.2 223.5L74.6 223.6L76.0 223.7L77.5 223.8L78.9 223.8L80.3 223.9L81.7 223.9L83.1 224.0L84.5 224.0L85.9 224.0L87.3 224.1L88.8 224.1L90.2 224.2L91.6 224.2L93.0 224.2L94.4 224.2L95.8 224.3L97.2 224.3L98.6 224.3L100.1 224.3L101.5 224.3L102.9 224.3L104.3 224.3L105.7 224.3L107.1 224.3L108.5 224.4L109.9 224.4L111.4 224.4L112.8 224.4L114.2 224.4L115.6 224.4L117.0 224.4L118.4 224.4L119.8 224.4L121.2 224.4L122.7 224.4L124.1 224.4L125.5 224.4L126.9 224.4L128.3 224.4L129.7 224.4L131.1 224.5L132.5 224.5L134.0 224.5L135.4 224.5L136.8 224.5L138.2 224.5L139.6 224.5L141.0 224.5L142.4 224.5L143.8 224.5L145.3 224.5L146.7 224.5L148.1 224.5L149.5 224.5L150.9 224.5L152.3 224.5L153.7 224.5L155.1 224.5L156.6 224.5L158.0 224.5L159.4 224.5L160.8 224.5L162.2 224.5" fill="none" stroke="#b4b4b4" stroke-width="1.05" stroke-linejoin="round"/>
<path d="M29.50 150.50L31.10 152.60L29.50 154.70L27.90 152.60Z" fill="#b4b4b4"/>
<path d="M36.48 202.38L38.08 204.48L36.48 206.58L34.88 204.48Z" fill="#b4b4b4"/>
<path d="M43.47 214.66L45.07 216.76L43.47 218.86L41.87 216.76Z" fill="#b4b4b4"/>
<path d="M50.45 218.41L52.05 220.51L50.45 222.61L48.85 220.51Z" fill="#b4b4b4"/>
<path d="M57.44 219.71L59.04 221.81L57.44 223.91L55.84 221.81Z" fill="#b4b4b4"/>
<path d="M64.42 220.70L66.02 222.80L64.42 224.90L62.82 222.80Z" fill="#b4b4b4"/>
<path d="M71.41 221.31L73.01 223.41L71.41 225.51L69.81 223.41Z" fill="#b4b4b4"/>
<path d="M78.39 221.70L79.99 223.80L78.39 225.90L76.79 223.80Z" fill="#b4b4b4"/>
<path d="M85.37 221.93L86.97 224.03L85.37 226.13L83.77 224.03Z" fill="#b4b4b4"/>
<path d="M92.36 222.10L93.96 224.20L92.36 226.30L90.76 224.20Z" fill="#b4b4b4"/>
<path d="M99.34 222.20L100.94 224.30L99.34 226.40L97.74 224.30Z" fill="#b4b4b4"/>
<path d="M106.33 222.24L107.93 224.34L106.33 226.44L104.73 224.34Z" fill="#b4b4b4"/>
<path d="M113.31 222.28L114.91 224.38L113.31 226.48L111.71 224.38Z" fill="#b4b4b4"/>
<path d="M120.29 222.31L121.89 224.41L120.29 226.51L118.69 224.41Z" fill="#b4b4b4"/>
<path d="M127.28 222.34L128.88 224.44L127.28 226.54L125.68 224.44Z" fill="#b4b4b4"/>
<path d="M134.26 222.36L135.86 224.46L134.26 226.56L132.66 224.46Z" fill="#b4b4b4"/>
<path d="M141.25 222.38L142.85 224.48L141.25 226.58L139.65 224.48Z" fill="#b4b4b4"/>
<path d="M148.23 222.39L149.83 224.49L148.23 226.59L146.63 224.49Z" fill="#b4b4b4"/>
<path d="M155.22 222.40L156.82 224.50L155.22 226.60L153.62 224.50Z" fill="#b4b4b4"/>
<path d="M162.20 222.40L163.80 224.50L162.20 226.60L160.60 224.50Z" fill="#b4b4b4"/>
<rect x="29.50" y="140.35" width="132.70" height="89.60" fill="none" stroke="#a0a0a0" stroke-width="0.6"/>
<line x1="29.50" y1="229.95" x2="29.50" y2="228.75" stroke="#a0a0a0" stroke-width="0.5"/>
<line x1="29.50" y1="140.35" x2="29.50" y2="141.55" stroke="#a0a0a0" stroke-width="0.5"/>
<text class="s" x="29.50" y="237.65" font-size="5.27" text-anchor="middle" fill="#262626">0</text>
<line x1="56.04" y1="229.95" x2="56.04" y2="228.75" stroke="#a0a0a0" stroke-width="0.5"/>
<line x1="56.04" y1="140.35" x2="56.04" y2="141.55" stroke="#a0a0a0" stroke-width="0.5"/>
<text class="s" x="56.04" y="237.65" font-size="5.27" text-anchor="middle" fill="#262626">200</text>
<line x1="82.58" y1="229.95" x2="82.58" y2="228.75" stroke="#a0a0a0" stroke-width="0.5"/>
<line x1="82.58" y1="140.35" x2="82.58" y2="141.55" stroke="#a0a0a0" stroke-width="0.5"/>
<text class="s" x="82.58" y="237.65" font-size="5.27" text-anchor="middle" fill="#262626">400</text>
<line x1="109.12" y1="229.95" x2="109.12" y2="228.75" stroke="#a0a0a0" stroke-width="0.5"/>
<line x1="109.12" y1="140.35" x2="109.12" y2="141.55" stroke="#a0a0a0" stroke-width="0.5"/>
<text class="s" x="109.12" y="237.65" font-size="5.27" text-anchor="middle" fill="#262626">600</text>
<line x1="135.66" y1="229.95" x2="135.66" y2="228.75" stroke="#a0a0a0" stroke-width="0.5"/>
<line x1="135.66" y1="140.35" x2="135.66" y2="141.55" stroke="#a0a0a0" stroke-width="0.5"/>
<text class="s" x="135.66" y="237.65" font-size="5.27" text-anchor="middle" fill="#262626">800</text>
<line x1="162.20" y1="229.95" x2="162.20" y2="228.75" stroke="#a0a0a0" stroke-width="0.5"/>
<line x1="162.20" y1="140.35" x2="162.20" y2="141.55" stroke="#a0a0a0" stroke-width="0.5"/>
<text class="s" x="162.20" y="237.65" font-size="5.27" text-anchor="middle" fill="#262626">1000</text>
<text class="s" x="28.20" y="232.55" font-size="5.27" text-anchor="end" fill="#262626">0.5</text>
<line x1="29.50" y1="229.95" x2="30.70" y2="229.95" stroke="#a0a0a0" stroke-width="0.5"/>
<line x1="162.20" y1="229.95" x2="161.00" y2="229.95" stroke="#a0a0a0" stroke-width="0.5"/>
<text class="s" x="28.20" y="217.62" font-size="5.27" text-anchor="end" fill="#262626">1</text>
<line x1="29.50" y1="215.02" x2="30.70" y2="215.02" stroke="#a0a0a0" stroke-width="0.5"/>
<line x1="162.20" y1="215.02" x2="161.00" y2="215.02" stroke="#a0a0a0" stroke-width="0.5"/>
<text class="s" x="28.20" y="202.68" font-size="5.27" text-anchor="end" fill="#262626">1.5</text>
<line x1="29.50" y1="200.08" x2="30.70" y2="200.08" stroke="#a0a0a0" stroke-width="0.5"/>
<line x1="162.20" y1="200.08" x2="161.00" y2="200.08" stroke="#a0a0a0" stroke-width="0.5"/>
<text class="s" x="28.20" y="187.75" font-size="5.27" text-anchor="end" fill="#262626">2</text>
<line x1="29.50" y1="185.15" x2="30.70" y2="185.15" stroke="#a0a0a0" stroke-width="0.5"/>
<line x1="162.20" y1="185.15" x2="161.00" y2="185.15" stroke="#a0a0a0" stroke-width="0.5"/>
<text class="s" x="28.20" y="172.82" font-size="5.27" text-anchor="end" fill="#262626">2.5</text>
<line x1="29.50" y1="170.22" x2="30.70" y2="170.22" stroke="#a0a0a0" stroke-width="0.5"/>
<line x1="162.20" y1="170.22" x2="161.00" y2="170.22" stroke="#a0a0a0" stroke-width="0.5"/>
<text class="s" x="28.20" y="157.88" font-size="5.27" text-anchor="end" fill="#262626">3</text>
<line x1="29.50" y1="155.28" x2="30.70" y2="155.28" stroke="#a0a0a0" stroke-width="0.5"/>
<line x1="162.20" y1="155.28" x2="161.00" y2="155.28" stroke="#a0a0a0" stroke-width="0.5"/>
<text class="s" x="28.20" y="142.95" font-size="5.27" text-anchor="end" fill="#262626">3.5</text>
<line x1="29.50" y1="140.35" x2="30.70" y2="140.35" stroke="#a0a0a0" stroke-width="0.5"/>
<line x1="162.20" y1="140.35" x2="161.00" y2="140.35" stroke="#a0a0a0" stroke-width="0.5"/>
<text class="s" x="30.30" y="139.55" font-size="5.27" fill="#262626">×10<tspan font-size="3.69" dy="-2">4</tspan></text>
<text class="s" x="95.85" y="138.75" font-size="5.8" text-anchor="middle" fill="#1a1a1a">CEC2017 F25 Dim=50</text>
<text class="s" x="95.85" y="244.55" font-size="5.8" text-anchor="middle" fill="#1a1a1a">Iterations</text>
<text class="s" transform="translate(17.80,185.15) rotate(-90)" x="0" y="0" font-size="5.8" text-anchor="middle" fill="#1a1a1a">Average Fitness</text>
<line x1="211.80" y1="215.02" x2="343.60" y2="215.02" stroke="#e6e6e6" stroke-width="0.5"/>
<line x1="211.80" y1="200.08" x2="343.60" y2="200.08" stroke="#e6e6e6" stroke-width="0.5"/>
<line x1="211.80" y1="185.15" x2="343.60" y2="185.15" stroke="#e6e6e6" stroke-width="0.5"/>
<line x1="211.80" y1="170.22" x2="343.60" y2="170.22" stroke="#e6e6e6" stroke-width="0.5"/>
<line x1="211.80" y1="155.28" x2="343.60" y2="155.28" stroke="#e6e6e6" stroke-width="0.5"/>
<line x1="238.16" y1="140.35" x2="238.16" y2="229.95" stroke="#e6e6e6" stroke-width="0.5"/>
<line x1="264.52" y1="140.35" x2="264.52" y2="229.95" stroke="#e6e6e6" stroke-width="0.5"/>
<line x1="290.88" y1="140.35" x2="290.88" y2="229.95" stroke="#e6e6e6" stroke-width="0.5"/>
<line x1="317.24" y1="140.35" x2="317.24" y2="229.95" stroke="#e6e6e6" stroke-width="0.5"/>
<path d="M211.8 196.5L218.8 221.3L220.2 221.6L221.6 221.9L223.0 222.2L224.4 222.6L225.8 222.9L227.2 223.3L228.6 223.7L230.0 224.1L231.4 224.4L232.8 224.6L234.2 224.7L235.6 224.8L237.0 224.8L238.4 224.9L239.8 224.9L241.2 224.9L242.6 224.9L244.0 225.0L245.4 225.0L246.8 225.0L248.2 225.0L249.6 225.0L251.1 225.0L252.5 225.1L253.9 225.1L255.3 225.1L256.7 225.1L258.1 225.1L259.5 225.1L260.9 225.1L262.3 225.1L263.7 225.1L265.1 225.1L266.5 225.1L267.9 225.1L269.3 225.1L270.7 225.1L272.1 225.1L273.5 225.1L274.9 225.1L276.3 225.1L277.7 225.1L279.1 225.1L280.5 225.1L281.9 225.1L283.3 225.1L284.7 225.2L286.1 225.2L287.5 225.2L288.9 225.2L290.3 225.2L291.7 225.2L293.1 225.2L294.5 225.2L295.9 225.2L297.3 225.2L298.7 225.2L300.1 225.2L301.5 225.2L302.9 225.2L304.3 225.2L305.7 225.2L307.1 225.2L308.5 225.2L309.9 225.2L311.3 225.2L312.8 225.2L314.2 225.2L315.6 225.2L317.0 225.2L318.4 225.2L319.8 225.2L321.2 225.2L322.6 225.2L324.0 225.2L325.4 225.2L326.8 225.2L328.2 225.2L329.6 225.2L331.0 225.2L332.4 225.2L333.8 225.2L335.2 225.2L336.6 225.2L338.0 225.2L339.4 225.2L340.8 225.2L342.2 225.2L343.6 225.2" fill="none" stroke="#000000" stroke-width="1.05" stroke-linejoin="round"/>
<path d="M209.89 195.40L213.71 195.40L211.80 198.70Z" fill="#000000"/>
<path d="M216.82 219.98L220.65 219.98L218.74 223.28Z" fill="#000000"/>
<path d="M223.76 221.77L227.59 221.77L225.67 225.07Z" fill="#000000"/>
<path d="M230.70 223.49L234.52 223.49L232.61 226.79Z" fill="#000000"/>
<path d="M237.63 223.79L241.46 223.79L239.55 227.09Z" fill="#000000"/>
<path d="M244.57 223.90L248.40 223.90L246.48 227.20Z" fill="#000000"/>
<path d="M251.51 223.97L255.34 223.97L253.42 227.27Z" fill="#000000"/>
<path d="M258.44 224.00L262.27 224.00L260.36 227.30Z" fill="#000000"/>
<path d="M265.38 224.02L269.21 224.02L267.29 227.32Z" fill="#000000"/>
<path d="M272.32 224.03L276.15 224.03L274.23 227.33Z" fill="#000000"/>
<path d="M279.25 224.05L283.08 224.05L281.17 227.35Z" fill="#000000"/>
<path d="M286.19 224.06L290.02 224.06L288.11 227.36Z" fill="#000000"/>
<path d="M293.13 224.07L296.96 224.07L295.04 227.37Z" fill="#000000"/>
<path d="M300.06 224.08L303.89 224.08L301.98 227.38Z" fill="#000000"/>
<path d="M307.00 224.08L310.83 224.08L308.92 227.38Z" fill="#000000"/>
<path d="M313.94 224.09L317.77 224.09L315.85 227.39Z" fill="#000000"/>
<path d="M320.88 224.09L324.70 224.09L322.79 227.39Z" fill="#000000"/>
<path d="M327.81 224.10L331.64 224.10L329.73 227.40Z" fill="#000000"/>
<path d="M334.75 224.10L338.58 224.10L336.66 227.40Z" fill="#000000"/>
<path d="M341.69 224.10L345.51 224.10L343.60 227.40Z" fill="#000000"/>
<path d="M211.8 142.5L218.8 206.2L220.2 207.5L221.6 208.8L223.0 210.0L224.4 211.2L225.8 212.4L227.2 213.6L228.6 214.8L230.0 216.0L231.4 216.9L232.8 217.6L234.2 218.2L235.6 218.6L237.0 218.9L238.4 219.2L239.8 219.5L241.2 219.8L242.6 220.0L244.0 220.3L245.4 220.5L246.8 220.6L248.2 220.8L249.6 220.9L251.1 221.0L252.5 221.1L253.9 221.3L255.3 221.3L256.7 221.4L258.1 221.5L259.5 221.6L260.9 221.6L262.3 221.7L263.7 221.7L265.1 221.8L266.5 221.8L267.9 221.9L269.3 221.9L270.7 221.9L272.1 222.0L273.5 222.0L274.9 222.0L276.3 222.1L277.7 222.1L279.1 222.1L280.5 222.2L281.9 222.2L283.3 222.2L284.7 222.2L286.1 222.2L287.5 222.3L288.9 222.3L290.3 222.3L291.7 222.3L293.1 222.3L294.5 222.4L295.9 222.4L297.3 222.4L298.7 222.4L300.1 222.4L301.5 222.5L302.9 222.5L304.3 222.5L305.7 222.5L307.1 222.5L308.5 222.5L309.9 222.6L311.3 222.6L312.8 222.6L314.2 222.6L315.6 222.6L317.0 222.6L318.4 222.7L319.8 222.7L321.2 222.7L322.6 222.7L324.0 222.7L325.4 222.7L326.8 222.7L328.2 222.7L329.6 222.7L331.0 222.8L332.4 222.8L333.8 222.8L335.2 222.8L336.6 222.8L338.0 222.8L339.4 222.8L340.8 222.8L342.2 222.8L343.6 222.8" fill="none" stroke="#ff0000" stroke-width="1.05" stroke-linejoin="round"/>
<circle cx="211.80" cy="142.50" r="1.65" fill="#ff0000"/>
<circle cx="218.74" cy="205.63" r="1.65" fill="#ff0000"/>
<circle cx="225.67" cy="212.30" r="1.65" fill="#ff0000"/>
<circle cx="232.61" cy="217.56" r="1.65" fill="#ff0000"/>
<circle cx="239.55" cy="219.47" r="1.65" fill="#ff0000"/>
<circle cx="246.48" cy="220.58" r="1.65" fill="#ff0000"/>
<circle cx="253.42" cy="221.22" r="1.65" fill="#ff0000"/>
<circle cx="260.36" cy="221.61" r="1.65" fill="#ff0000"/>
<circle cx="267.29" cy="221.85" r="1.65" fill="#ff0000"/>
<circle cx="274.23" cy="222.02" r="1.65" fill="#ff0000"/>
<circle cx="281.17" cy="222.16" r="1.65" fill="#ff0000"/>
<circle cx="288.11" cy="222.27" r="1.65" fill="#ff0000"/>
<circle cx="295.04" cy="222.37" r="1.65" fill="#ff0000"/>
<circle cx="301.98" cy="222.46" r="1.65" fill="#ff0000"/>
<circle cx="308.92" cy="222.55" r="1.65" fill="#ff0000"/>
<circle cx="315.85" cy="222.63" r="1.65" fill="#ff0000"/>
<circle cx="322.79" cy="222.70" r="1.65" fill="#ff0000"/>
<circle cx="329.73" cy="222.75" r="1.65" fill="#ff0000"/>
<circle cx="336.66" cy="222.79" r="1.65" fill="#ff0000"/>
<circle cx="343.60" cy="222.80" r="1.65" fill="#ff0000"/>
<path d="M211.8 148.9L218.8 213.6L220.2 214.7L221.6 215.6L223.0 216.5L224.4 217.4L225.8 218.1L227.2 218.8L228.6 219.4L230.0 220.0L231.4 220.5L232.8 220.8L234.2 221.1L235.6 221.3L237.0 221.5L238.4 221.7L239.8 221.8L241.2 221.9L242.6 222.0L244.0 222.1L245.4 222.1L246.8 222.2L248.2 222.3L249.6 222.3L251.1 222.4L252.5 222.4L253.9 222.5L255.3 222.5L256.7 222.5L258.1 222.6L259.5 222.6L260.9 222.6L262.3 222.6L263.7 222.6L265.1 222.7L266.5 222.7L267.9 222.7L269.3 222.7L270.7 222.7L272.1 222.7L273.5 222.7L274.9 222.8L276.3 222.8L277.7 222.8L279.1 222.8L280.5 222.8L281.9 222.8L283.3 222.8L284.7 222.9L286.1 222.9L287.5 222.9L288.9 222.9L290.3 222.9L291.7 222.9L293.1 222.9L294.5 222.9L295.9 222.9L297.3 222.9L298.7 223.0L300.1 223.0L301.5 223.0L302.9 223.0L304.3 223.0L305.7 223.0L307.1 223.0L308.5 223.0L309.9 223.0L311.3 223.0L312.8 223.0L314.2 223.0L315.6 223.0L317.0 223.0L318.4 223.1L319.8 223.1L321.2 223.1L322.6 223.1L324.0 223.1L325.4 223.1L326.8 223.1L328.2 223.1L329.6 223.1L331.0 223.1L332.4 223.1L333.8 223.1L335.2 223.1L336.6 223.1L338.0 223.1L339.4 223.1L340.8 223.1L342.2 223.1L343.6 223.1" fill="none" stroke="#808020" stroke-width="1.05" stroke-linejoin="round"/>
<path d="M209.89 150.00L213.71 150.00L211.80 146.70Z" fill="#808020"/>
<path d="M216.82 214.12L220.65 214.12L218.74 210.82Z" fill="#808020"/>
<path d="M223.76 219.14L227.59 219.14L225.67 215.84Z" fill="#808020"/>
<path d="M230.70 221.88L234.52 221.88L232.61 218.58Z" fill="#808020"/>
<path d="M237.63 222.89L241.46 222.89L239.55 219.59Z" fill="#808020"/>
<path d="M244.57 223.29L248.40 223.29L246.48 219.99Z" fill="#808020"/>
<path d="M251.51 223.56L255.34 223.56L253.42 220.26Z" fill="#808020"/>
<path d="M258.44 223.70L262.27 223.70L260.36 220.40Z" fill="#808020"/>
<path d="M265.38 223.78L269.21 223.78L267.29 220.48Z" fill="#808020"/>
<path d="M272.32 223.86L276.15 223.86L274.23 220.56Z" fill="#808020"/>
<path d="M279.25 223.92L283.08 223.92L281.17 220.62Z" fill="#808020"/>
<path d="M286.19 223.98L290.02 223.98L288.11 220.68Z" fill="#808020"/>
<path d="M293.13 224.03L296.96 224.03L295.04 220.73Z" fill="#808020"/>
<path d="M300.06 224.08L303.89 224.08L301.98 220.78Z" fill="#808020"/>
<path d="M307.00 224.11L310.83 224.11L308.92 220.81Z" fill="#808020"/>
<path d="M313.94 224.14L317.77 224.14L315.85 220.84Z" fill="#808020"/>
<path d="M320.88 224.17L324.70 224.17L322.79 220.87Z" fill="#808020"/>
<path d="M327.81 224.19L331.64 224.19L329.73 220.89Z" fill="#808020"/>
<path d="M334.75 224.20L338.58 224.20L336.66 220.90Z" fill="#808020"/>
<path d="M341.69 224.20L345.51 224.20L343.60 220.90Z" fill="#808020"/>
<path d="M211.8 142.5L218.8 211.1L220.2 211.9L221.6 212.6L223.0 213.3L224.4 213.9L225.8 214.5L227.2 215.1L228.6 215.6L230.0 216.1L231.4 216.5L232.8 216.7L234.2 216.8L235.6 216.8L237.0 216.9L238.4 216.9L239.8 217.0L241.2 217.2L242.6 217.4L244.0 217.6L245.4 217.8L246.8 217.9L248.2 218.0L249.6 218.0L251.1 218.1L252.5 218.1L253.9 218.2L255.3 218.3L256.7 218.5L258.1 218.7L259.5 218.8L260.9 218.9L262.3 219.0L263.7 219.1L265.1 219.2L266.5 219.3L267.9 219.3L269.3 219.4L270.7 219.4L272.1 219.4L273.5 219.5L274.9 219.5L276.3 219.5L277.7 219.6L279.1 219.6L280.5 219.6L281.9 219.6L283.3 219.6L284.7 219.6L286.1 219.7L287.5 219.7L288.9 219.7L290.3 219.7L291.7 219.7L293.1 219.7L294.5 219.8L295.9 219.8L297.3 219.8L298.7 219.8L300.1 219.8L301.5 219.8L302.9 219.8L304.3 219.8L305.7 219.8L307.1 219.9L308.5 219.9L309.9 219.9L311.3 219.9L312.8 219.9L314.2 219.9L315.6 219.9L317.0 219.9L318.4 220.0L319.8 220.0L321.2 220.0L322.6 220.0L324.0 220.0L325.4 220.0L326.8 220.0L328.2 220.0L329.6 220.0L331.0 220.0L332.4 220.0L333.8 220.1L335.2 220.1L336.6 220.1L338.0 220.1L339.4 220.1L340.8 220.1L342.2 220.1L343.6 220.1" fill="none" stroke="#ee3399" stroke-width="1.05" stroke-linejoin="round"/>
<rect x="210.30" y="141.00" width="3.00" height="3.00" fill="#ee3399"/>
<rect x="217.24" y="208.98" width="3.00" height="3.00" fill="#ee3399"/>
<rect x="224.17" y="212.95" width="3.00" height="3.00" fill="#ee3399"/>
<rect x="231.11" y="215.19" width="3.00" height="3.00" fill="#ee3399"/>
<rect x="238.05" y="215.49" width="3.00" height="3.00" fill="#ee3399"/>
<rect x="244.98" y="216.38" width="3.00" height="3.00" fill="#ee3399"/>
<rect x="251.92" y="216.69" width="3.00" height="3.00" fill="#ee3399"/>
<rect x="258.86" y="217.38" width="3.00" height="3.00" fill="#ee3399"/>
<rect x="265.79" y="217.79" width="3.00" height="3.00" fill="#ee3399"/>
<rect x="272.73" y="217.99" width="3.00" height="3.00" fill="#ee3399"/>
<rect x="279.67" y="218.10" width="3.00" height="3.00" fill="#ee3399"/>
<rect x="286.61" y="218.19" width="3.00" height="3.00" fill="#ee3399"/>
<rect x="293.54" y="218.26" width="3.00" height="3.00" fill="#ee3399"/>
<rect x="300.48" y="218.32" width="3.00" height="3.00" fill="#ee3399"/>
<rect x="307.42" y="218.38" width="3.00" height="3.00" fill="#ee3399"/>
<rect x="314.35" y="218.43" width="3.00" height="3.00" fill="#ee3399"/>
<rect x="321.29" y="218.48" width="3.00" height="3.00" fill="#ee3399"/>
<rect x="328.23" y="218.53" width="3.00" height="3.00" fill="#ee3399"/>
<rect x="335.16" y="218.57" width="3.00" height="3.00" fill="#ee3399"/>
<rect x="342.10" y="218.60" width="3.00" height="3.00" fill="#ee3399"/>
<path d="M211.8 142.5L218.8 217.4L220.2 217.8L221.6 218.3L223.0 218.7L224.4 219.1L225.8 219.4L227.2 219.7L228.6 220.1L230.0 220.4L231.4 220.6L232.8 220.8L234.2 220.9L235.6 221.0L237.0 221.1L238.4 221.2L239.8 221.2L241.2 221.2L242.6 221.3L244.0 221.3L245.4 221.3L246.8 221.4L248.2 221.4L249.6 221.4L251.1 221.4L252.5 221.4L253.9 221.5L255.3 221.5L256.7 221.5L258.1 221.5L259.5 221.5L260.9 221.5L262.3 221.6L263.7 221.6L265.1 221.6L266.5 221.6L267.9 221.6L269.3 221.6L270.7 221.6L272.1 221.6L273.5 221.6L274.9 221.6L276.3 221.6L277.7 221.6L279.1 221.6L280.5 221.6L281.9 221.7L283.3 221.7L284.7 221.7L286.1 221.7L287.5 221.7L288.9 221.7L290.3 221.7L291.7 221.7L293.1 221.7L294.5 221.7L295.9 221.7L297.3 221.7L298.7 221.7L300.1 221.7L301.5 221.7L302.9 221.7L304.3 221.7L305.7 221.7L307.1 221.7L308.5 221.7L309.9 221.8L311.3 221.8L312.8 221.8L314.2 221.8L315.6 221.8L317.0 221.8L318.4 221.8L319.8 221.8L321.2 221.8L322.6 221.8L324.0 221.8L325.4 221.8L326.8 221.8L328.2 221.8L329.6 221.8L331.0 221.8L332.4 221.8L333.8 221.8L335.2 221.8L336.6 221.8L338.0 221.8L339.4 221.8L340.8 221.8L342.2 221.8L343.6 221.8" fill="none" stroke="#00cc66" stroke-width="1.05" stroke-linejoin="round"/>
<path d="M209.89 141.40L213.71 141.40L211.80 144.70Z" fill="#00cc66"/>
<path d="M216.82 215.62L220.65 215.62L218.74 218.92Z" fill="#00cc66"/>
<path d="M223.76 218.27L227.59 218.27L225.67 221.57Z" fill="#00cc66"/>
<path d="M230.70 219.69L234.52 219.69L232.61 222.99Z" fill="#00cc66"/>
<path d="M237.63 220.10L241.46 220.10L239.55 223.40Z" fill="#00cc66"/>
<path d="M244.57 220.25L248.40 220.25L246.48 223.55Z" fill="#00cc66"/>
<path d="M251.51 220.36L255.34 220.36L253.42 223.66Z" fill="#00cc66"/>
<path d="M258.44 220.43L262.27 220.43L260.36 223.73Z" fill="#00cc66"/>
<path d="M265.38 220.49L269.21 220.49L267.29 223.79Z" fill="#00cc66"/>
<path d="M272.32 220.52L276.15 220.52L274.23 223.82Z" fill="#00cc66"/>
<path d="M279.25 220.55L283.08 220.55L281.17 223.85Z" fill="#00cc66"/>
<path d="M286.19 220.58L290.02 220.58L288.11 223.88Z" fill="#00cc66"/>
<path d="M293.13 220.61L296.96 220.61L295.04 223.91Z" fill="#00cc66"/>
<path d="M300.06 220.63L303.89 220.63L301.98 223.93Z" fill="#00cc66"/>
<path d="M307.00 220.65L310.83 220.65L308.92 223.95Z" fill="#00cc66"/>
<path d="M313.94 220.67L317.77 220.67L315.85 223.97Z" fill="#00cc66"/>
<path d="M320.88 220.68L324.70 220.68L322.79 223.98Z" fill="#00cc66"/>
<path d="M327.81 220.69L331.64 220.69L329.73 223.99Z" fill="#00cc66"/>
<path d="M334.75 220.70L338.58 220.70L336.66 224.00Z" fill="#00cc66"/>
<path d="M341.69 220.70L345.51 220.70L343.60 224.00Z" fill="#00cc66"/>
<path d="M211.8 142.5L218.8 203.5L220.2 204.6L221.6 205.7L223.0 206.8L224.4 208.0L225.8 209.2L227.2 210.6L228.6 212.1L230.0 213.6L231.4 214.9L232.8 215.8L234.2 216.3L235.6 216.8L237.0 217.2L238.4 217.6L239.8 217.9L241.2 218.3L242.6 218.7L244.0 219.0L245.4 219.3L246.8 219.6L248.2 219.9L249.6 220.2L251.1 220.4L252.5 220.7L253.9 220.8L255.3 221.0L256.7 221.1L258.1 221.3L259.5 221.4L260.9 221.5L262.3 221.7L263.7 221.8L265.1 221.9L266.5 221.9L267.9 222.0L269.3 222.1L270.7 222.1L272.1 222.2L273.5 222.2L274.9 222.2L276.3 222.3L277.7 222.3L279.1 222.4L280.5 222.4L281.9 222.4L283.3 222.5L284.7 222.5L286.1 222.6L287.5 222.6L288.9 222.6L290.3 222.7L291.7 222.7L293.1 222.7L294.5 222.7L295.9 222.8L297.3 222.8L298.7 222.8L300.1 222.9L301.5 222.9L302.9 222.9L304.3 222.9L305.7 223.0L307.1 223.0L308.5 223.0L309.9 223.0L311.3 223.1L312.8 223.1L314.2 223.1L315.6 223.1L317.0 223.1L318.4 223.1L319.8 223.2L321.2 223.2L322.6 223.2L324.0 223.2L325.4 223.2L326.8 223.2L328.2 223.2L329.6 223.3L331.0 223.3L332.4 223.3L333.8 223.3L335.2 223.3L336.6 223.3L338.0 223.3L339.4 223.3L340.8 223.3L342.2 223.3L343.6 223.3" fill="none" stroke="#e6195a" stroke-width="1.05" stroke-linejoin="round"/>
<circle cx="211.80" cy="142.50" r="1.3" fill="#f280a8" stroke="#e6195a" stroke-width="0.8"/>
<circle cx="218.74" cy="202.95" r="1.3" fill="#f280a8" stroke="#e6195a" stroke-width="0.8"/>
<circle cx="225.67" cy="209.09" r="1.3" fill="#f280a8" stroke="#e6195a" stroke-width="0.8"/>
<circle cx="232.61" cy="215.66" r="1.3" fill="#f280a8" stroke="#e6195a" stroke-width="0.8"/>
<circle cx="239.55" cy="217.86" r="1.3" fill="#f280a8" stroke="#e6195a" stroke-width="0.8"/>
<circle cx="246.48" cy="219.56" r="1.3" fill="#f280a8" stroke="#e6195a" stroke-width="0.8"/>
<circle cx="253.42" cy="220.78" r="1.3" fill="#f280a8" stroke="#e6195a" stroke-width="0.8"/>
<circle cx="260.36" cy="221.50" r="1.3" fill="#f280a8" stroke="#e6195a" stroke-width="0.8"/>
<circle cx="267.29" cy="221.99" r="1.3" fill="#f280a8" stroke="#e6195a" stroke-width="0.8"/>
<circle cx="274.23" cy="222.23" r="1.3" fill="#f280a8" stroke="#e6195a" stroke-width="0.8"/>
<circle cx="281.17" cy="222.43" r="1.3" fill="#f280a8" stroke="#e6195a" stroke-width="0.8"/>
<circle cx="288.11" cy="222.60" r="1.3" fill="#f280a8" stroke="#e6195a" stroke-width="0.8"/>
<circle cx="295.04" cy="222.76" r="1.3" fill="#f280a8" stroke="#e6195a" stroke-width="0.8"/>
<circle cx="301.98" cy="222.90" r="1.3" fill="#f280a8" stroke="#e6195a" stroke-width="0.8"/>
<circle cx="308.92" cy="223.02" r="1.3" fill="#f280a8" stroke="#e6195a" stroke-width="0.8"/>
<circle cx="315.85" cy="223.12" r="1.3" fill="#f280a8" stroke="#e6195a" stroke-width="0.8"/>
<circle cx="322.79" cy="223.19" r="1.3" fill="#f280a8" stroke="#e6195a" stroke-width="0.8"/>
<circle cx="329.73" cy="223.25" r="1.3" fill="#f280a8" stroke="#e6195a" stroke-width="0.8"/>
<circle cx="336.66" cy="223.29" r="1.3" fill="#f280a8" stroke="#e6195a" stroke-width="0.8"/>
<circle cx="343.60" cy="223.30" r="1.3" fill="#f280a8" stroke="#e6195a" stroke-width="0.8"/>
<path d="M211.8 141.0L218.8 215.5L220.2 216.8L221.6 218.0L223.0 219.0L224.4 219.9L225.8 220.6L227.2 221.2L228.6 221.7L230.0 222.1L231.4 222.5L232.8 222.7L234.2 222.9L235.6 223.0L237.0 223.2L238.4 223.3L239.8 223.3L241.2 223.3L242.6 223.4L244.0 223.4L245.4 223.4L246.8 223.5L248.2 223.5L249.6 223.5L251.1 223.5L252.5 223.6L253.9 223.6L255.3 223.6L256.7 223.6L258.1 223.6L259.5 223.6L260.9 223.6L262.3 223.7L263.7 223.7L265.1 223.7L266.5 223.7L267.9 223.7L269.3 223.7L270.7 223.7L272.1 223.7L273.5 223.7L274.9 223.7L276.3 223.7L277.7 223.7L279.1 223.7L280.5 223.7L281.9 223.8L283.3 223.8L284.7 223.8L286.1 223.8L287.5 223.8L288.9 223.8L290.3 223.8L291.7 223.8L293.1 223.8L294.5 223.8L295.9 223.8L297.3 223.8L298.7 223.8L300.1 223.8L301.5 223.8L302.9 223.8L304.3 223.8L305.7 223.8L307.1 223.8L308.5 223.8L309.9 223.9L311.3 223.9L312.8 223.9L314.2 223.9L315.6 223.9L317.0 223.9L318.4 223.9L319.8 223.9L321.2 223.9L322.6 223.9L324.0 223.9L325.4 223.9L326.8 223.9L328.2 223.9L329.6 223.9L331.0 223.9L332.4 223.9L333.8 223.9L335.2 223.9L336.6 223.9L338.0 223.9L339.4 223.9L340.8 223.9L342.2 223.9L343.6 223.9" fill="none" stroke="#5c5cd0" stroke-width="1.05" stroke-linejoin="round"/>
<path d="M209.89 142.10L213.71 142.10L211.80 138.80Z" fill="#5c5cd0"/>
<path d="M216.82 215.93L220.65 215.93L218.74 212.63Z" fill="#5c5cd0"/>
<path d="M223.76 221.64L227.59 221.64L225.67 218.34Z" fill="#5c5cd0"/>
<path d="M230.70 223.79L234.52 223.79L232.61 220.49Z" fill="#5c5cd0"/>
<path d="M237.63 224.40L241.46 224.40L239.55 221.10Z" fill="#5c5cd0"/>
<path d="M244.57 224.56L248.40 224.56L246.48 221.26Z" fill="#5c5cd0"/>
<path d="M251.51 224.67L255.34 224.67L253.42 221.37Z" fill="#5c5cd0"/>
<path d="M258.44 224.74L262.27 224.74L260.36 221.44Z" fill="#5c5cd0"/>
<path d="M265.38 224.79L269.21 224.79L267.29 221.49Z" fill="#5c5cd0"/>
<path d="M272.32 224.82L276.15 224.82L274.23 221.52Z" fill="#5c5cd0"/>
<path d="M279.25 224.85L283.08 224.85L281.17 221.55Z" fill="#5c5cd0"/>
<path d="M286.19 224.88L290.02 224.88L288.11 221.58Z" fill="#5c5cd0"/>
<path d="M293.13 224.91L296.96 224.91L295.04 221.61Z" fill="#5c5cd0"/>
<path d="M300.06 224.93L303.89 224.93L301.98 221.63Z" fill="#5c5cd0"/>
<path d="M307.00 224.95L310.83 224.95L308.92 221.65Z" fill="#5c5cd0"/>
<path d="M313.94 224.97L317.77 224.97L315.85 221.67Z" fill="#5c5cd0"/>
<path d="M320.88 224.98L324.70 224.98L322.79 221.68Z" fill="#5c5cd0"/>
<path d="M327.81 224.99L331.64 224.99L329.73 221.69Z" fill="#5c5cd0"/>
<path d="M334.75 225.00L338.58 225.00L336.66 221.70Z" fill="#5c5cd0"/>
<path d="M341.69 225.00L345.51 225.00L343.60 221.70Z" fill="#5c5cd0"/>
<path d="M211.8 141.0L218.8 216.8L220.2 217.5L221.6 218.2L223.0 218.9L224.4 219.5L225.8 220.0L227.2 220.5L228.6 221.0L230.0 221.5L231.4 221.9L232.8 222.1L234.2 222.3L235.6 222.4L237.0 222.6L238.4 222.7L239.8 222.7L241.2 222.7L242.6 222.8L244.0 222.8L245.4 222.8L246.8 222.8L248.2 222.8L249.6 222.9L251.1 222.9L252.5 222.9L253.9 222.9L255.3 222.9L256.7 222.9L258.1 222.9L259.5 222.9L260.9 223.0L262.3 223.0L263.7 223.0L265.1 223.0L266.5 223.0L267.9 223.0L269.3 223.0L270.7 223.0L272.1 223.0L273.5 223.0L274.9 223.0L276.3 223.0L277.7 223.0L279.1 223.0L280.5 223.0L281.9 223.1L283.3 223.1L284.7 223.1L286.1 223.1L287.5 223.1L288.9 223.1L290.3 223.1L291.7 223.1L293.1 223.1L294.5 223.1L295.9 223.1L297.3 223.1L298.7 223.1L300.1 223.1L301.5 223.1L302.9 223.1L304.3 223.1L305.7 223.1L307.1 223.1L308.5 223.1L309.9 223.2L311.3 223.2L312.8 223.2L314.2 223.2L315.6 223.2L317.0 223.2L318.4 223.2L319.8 223.2L321.2 223.2L322.6 223.2L324.0 223.2L325.4 223.2L326.8 223.2L328.2 223.2L329.6 223.2L331.0 223.2L332.4 223.2L333.8 223.2L335.2 223.2L336.6 223.2L338.0 223.2L339.4 223.2L340.8 223.2L342.2 223.2L343.6 223.2" fill="none" stroke="#b4b4b4" stroke-width="1.05" stroke-linejoin="round"/>
<path d="M211.80 138.90L213.40 141.00L211.80 143.10L210.20 141.00Z" fill="#b4b4b4"/>
<path d="M218.74 214.02L220.34 216.12L218.74 218.22L217.14 216.12Z" fill="#b4b4b4"/>
<path d="M225.67 217.85L227.27 219.95L225.67 222.05L224.07 219.95Z" fill="#b4b4b4"/>
<path d="M232.61 219.99L234.21 222.09L232.61 224.19L231.01 222.09Z" fill="#b4b4b4"/>
<path d="M239.55 220.60L241.15 222.70L239.55 224.80L237.95 222.70Z" fill="#b4b4b4"/>
<path d="M246.48 220.72L248.08 222.82L246.48 224.92L244.88 222.82Z" fill="#b4b4b4"/>
<path d="M253.42 220.80L255.02 222.90L253.42 225.00L251.82 222.90Z" fill="#b4b4b4"/>
<path d="M260.36 220.85L261.96 222.95L260.36 225.05L258.76 222.95Z" fill="#b4b4b4"/>
<path d="M267.29 220.89L268.89 222.99L267.29 225.09L265.69 222.99Z" fill="#b4b4b4"/>
<path d="M274.23 220.92L275.83 223.02L274.23 225.12L272.63 223.02Z" fill="#b4b4b4"/>
<path d="M281.17 220.95L282.77 223.05L281.17 225.15L279.57 223.05Z" fill="#b4b4b4"/>
<path d="M288.11 220.98L289.71 223.08L288.11 225.18L286.51 223.08Z" fill="#b4b4b4"/>
<path d="M295.04 221.00L296.64 223.10L295.04 225.20L293.44 223.10Z" fill="#b4b4b4"/>
<path d="M301.98 221.03L303.58 223.13L301.98 225.23L300.38 223.13Z" fill="#b4b4b4"/>
<path d="M308.92 221.05L310.52 223.15L308.92 225.25L307.32 223.15Z" fill="#b4b4b4"/>
<path d="M315.85 221.07L317.45 223.17L315.85 225.27L314.25 223.17Z" fill="#b4b4b4"/>
<path d="M322.79 221.08L324.39 223.18L322.79 225.28L321.19 223.18Z" fill="#b4b4b4"/>
<path d="M329.73 221.09L331.33 223.19L329.73 225.29L328.13 223.19Z" fill="#b4b4b4"/>
<path d="M336.66 221.10L338.26 223.20L336.66 225.30L335.06 223.20Z" fill="#b4b4b4"/>
<path d="M343.60 221.10L345.20 223.20L343.60 225.30L342.00 223.20Z" fill="#b4b4b4"/>
<rect x="211.80" y="140.35" width="131.80" height="89.60" fill="none" stroke="#a0a0a0" stroke-width="0.6"/>
<line x1="211.80" y1="229.95" x2="211.80" y2="228.75" stroke="#a0a0a0" stroke-width="0.5"/>
<line x1="211.80" y1="140.35" x2="211.80" y2="141.55" stroke="#a0a0a0" stroke-width="0.5"/>
<text class="s" x="211.80" y="237.65" font-size="5.27" text-anchor="middle" fill="#262626">0</text>
<line x1="238.16" y1="229.95" x2="238.16" y2="228.75" stroke="#a0a0a0" stroke-width="0.5"/>
<line x1="238.16" y1="140.35" x2="238.16" y2="141.55" stroke="#a0a0a0" stroke-width="0.5"/>
<text class="s" x="238.16" y="237.65" font-size="5.27" text-anchor="middle" fill="#262626">200</text>
<line x1="264.52" y1="229.95" x2="264.52" y2="228.75" stroke="#a0a0a0" stroke-width="0.5"/>
<line x1="264.52" y1="140.35" x2="264.52" y2="141.55" stroke="#a0a0a0" stroke-width="0.5"/>
<text class="s" x="264.52" y="237.65" font-size="5.27" text-anchor="middle" fill="#262626">400</text>
<line x1="290.88" y1="229.95" x2="290.88" y2="228.75" stroke="#a0a0a0" stroke-width="0.5"/>
<line x1="290.88" y1="140.35" x2="290.88" y2="141.55" stroke="#a0a0a0" stroke-width="0.5"/>
<text class="s" x="290.88" y="237.65" font-size="5.27" text-anchor="middle" fill="#262626">600</text>
<line x1="317.24" y1="229.95" x2="317.24" y2="228.75" stroke="#a0a0a0" stroke-width="0.5"/>
<line x1="317.24" y1="140.35" x2="317.24" y2="141.55" stroke="#a0a0a0" stroke-width="0.5"/>
<text class="s" x="317.24" y="237.65" font-size="5.27" text-anchor="middle" fill="#262626">800</text>
<line x1="343.60" y1="229.95" x2="343.60" y2="228.75" stroke="#a0a0a0" stroke-width="0.5"/>
<line x1="343.60" y1="140.35" x2="343.60" y2="141.55" stroke="#a0a0a0" stroke-width="0.5"/>
<text class="s" x="343.60" y="237.65" font-size="5.27" text-anchor="middle" fill="#262626">1000</text>
<text class="s" x="210.50" y="232.55" font-size="5.27" text-anchor="end" fill="#262626">3000</text>
<line x1="211.80" y1="229.95" x2="213.00" y2="229.95" stroke="#a0a0a0" stroke-width="0.5"/>
<line x1="343.60" y1="229.95" x2="342.40" y2="229.95" stroke="#a0a0a0" stroke-width="0.5"/>
<text class="s" x="210.50" y="217.62" font-size="5.27" text-anchor="end" fill="#262626">4000</text>
<line x1="211.80" y1="215.02" x2="213.00" y2="215.02" stroke="#a0a0a0" stroke-width="0.5"/>
<line x1="343.60" y1="215.02" x2="342.40" y2="215.02" stroke="#a0a0a0" stroke-width="0.5"/>
<text class="s" x="210.50" y="202.68" font-size="5.27" text-anchor="end" fill="#262626">5000</text>
<line x1="211.80" y1="200.08" x2="213.00" y2="200.08" stroke="#a0a0a0" stroke-width="0.5"/>
<line x1="343.60" y1="200.08" x2="342.40" y2="200.08" stroke="#a0a0a0" stroke-width="0.5"/>
<text class="s" x="210.50" y="187.75" font-size="5.27" text-anchor="end" fill="#262626">6000</text>
<line x1="211.80" y1="185.15" x2="213.00" y2="185.15" stroke="#a0a0a0" stroke-width="0.5"/>
<line x1="343.60" y1="185.15" x2="342.40" y2="185.15" stroke="#a0a0a0" stroke-width="0.5"/>
<text class="s" x="210.50" y="172.82" font-size="5.27" text-anchor="end" fill="#262626">7000</text>
<line x1="211.80" y1="170.22" x2="213.00" y2="170.22" stroke="#a0a0a0" stroke-width="0.5"/>
<line x1="343.60" y1="170.22" x2="342.40" y2="170.22" stroke="#a0a0a0" stroke-width="0.5"/>
<text class="s" x="210.50" y="157.88" font-size="5.27" text-anchor="end" fill="#262626">8000</text>
<line x1="211.80" y1="155.28" x2="213.00" y2="155.28" stroke="#a0a0a0" stroke-width="0.5"/>
<line x1="343.60" y1="155.28" x2="342.40" y2="155.28" stroke="#a0a0a0" stroke-width="0.5"/>
<text class="s" x="210.50" y="142.95" font-size="5.27" text-anchor="end" fill="#262626">9000</text>
<line x1="211.80" y1="140.35" x2="213.00" y2="140.35" stroke="#a0a0a0" stroke-width="0.5"/>
<line x1="343.60" y1="140.35" x2="342.40" y2="140.35" stroke="#a0a0a0" stroke-width="0.5"/>
<text class="s" x="277.70" y="138.75" font-size="5.8" text-anchor="middle" fill="#1a1a1a">CEC2017 F26 Dim=50</text>
<text class="s" x="277.70" y="244.55" font-size="5.8" text-anchor="middle" fill="#1a1a1a">Iterations</text>
<text class="s" transform="translate(195.80,185.15) rotate(-90)" x="0" y="0" font-size="5.8" text-anchor="middle" fill="#1a1a1a">Average Fitness</text>
<line x1="393.70" y1="212.03" x2="525.80" y2="212.03" stroke="#e6e6e6" stroke-width="0.5"/>
<line x1="393.70" y1="194.11" x2="525.80" y2="194.11" stroke="#e6e6e6" stroke-width="0.5"/>
<line x1="393.70" y1="176.19" x2="525.80" y2="176.19" stroke="#e6e6e6" stroke-width="0.5"/>
<line x1="393.70" y1="158.27" x2="525.80" y2="158.27" stroke="#e6e6e6" stroke-width="0.5"/>
<line x1="420.12" y1="140.35" x2="420.12" y2="229.95" stroke="#e6e6e6" stroke-width="0.5"/>
<line x1="446.54" y1="140.35" x2="446.54" y2="229.95" stroke="#e6e6e6" stroke-width="0.5"/>
<line x1="472.96" y1="140.35" x2="472.96" y2="229.95" stroke="#e6e6e6" stroke-width="0.5"/>
<line x1="499.38" y1="140.35" x2="499.38" y2="229.95" stroke="#e6e6e6" stroke-width="0.5"/>
<path d="M393.7 190.3L400.8 217.6L402.2 217.7L403.6 217.8L405.0 217.9L406.4 218.0L407.8 218.1L409.2 218.2L410.6 218.2L412.0 218.3L413.4 218.4L414.8 218.4L416.2 218.5L417.7 218.5L419.1 218.5L420.5 218.6L421.9 218.6L423.3 218.6L424.7 218.6L426.1 218.7L427.5 218.7L428.9 218.7L430.3 218.7L431.7 218.7L433.1 218.8L434.5 218.8L435.9 218.8L437.3 218.8L438.7 218.8L440.1 218.8L441.5 218.8L442.9 218.8L444.3 218.8L445.7 218.8L447.1 218.8L448.6 218.8L450.0 218.8L451.4 218.8L452.8 218.8L454.2 218.8L455.6 218.8L457.0 218.8L458.4 218.8L459.8 218.8L461.2 218.8L462.6 218.8L464.0 218.9L465.4 218.9L466.8 218.9L468.2 218.9L469.6 218.9L471.0 218.9L472.4 218.9L473.8 218.9L475.2 218.9L476.6 218.9L478.0 218.9L479.5 218.9L480.9 218.9L482.3 218.9L483.7 218.9L485.1 218.9L486.5 218.9L487.9 218.9L489.3 218.9L490.7 218.9L492.1 218.9L493.5 218.9L494.9 218.9L496.3 218.9L497.7 218.9L499.1 218.9L500.5 218.9L501.9 218.9L503.3 218.9L504.7 218.9L506.1 218.9L507.5 218.9L508.9 218.9L510.4 218.9L511.8 218.9L513.2 218.9L514.6 218.9L516.0 218.9L517.4 218.9L518.8 218.9L520.2 218.9L521.6 218.9L523.0 218.9L524.4 218.9L525.8 218.9" fill="none" stroke="#000000" stroke-width="1.05" stroke-linejoin="round"/>
<path d="M391.79 189.20L395.61 189.20L393.70 192.50Z" fill="#000000"/>
<path d="M398.74 215.93L402.57 215.93L400.65 219.23Z" fill="#000000"/>
<path d="M405.69 216.99L409.52 216.99L407.61 220.29Z" fill="#000000"/>
<path d="M412.64 217.30L416.47 217.30L414.56 220.60Z" fill="#000000"/>
<path d="M419.60 217.50L423.42 217.50L421.51 220.80Z" fill="#000000"/>
<path d="M426.55 217.60L430.38 217.60L428.46 220.90Z" fill="#000000"/>
<path d="M433.50 217.68L437.33 217.68L435.42 220.98Z" fill="#000000"/>
<path d="M440.45 217.71L444.28 217.71L442.37 221.01Z" fill="#000000"/>
<path d="M447.41 217.72L451.24 217.72L449.32 221.02Z" fill="#000000"/>
<path d="M454.36 217.74L458.19 217.74L456.27 221.04Z" fill="#000000"/>
<path d="M461.31 217.75L465.14 217.75L463.23 221.05Z" fill="#000000"/>
<path d="M468.26 217.76L472.09 217.76L470.18 221.06Z" fill="#000000"/>
<path d="M475.22 217.77L479.05 217.77L477.13 221.07Z" fill="#000000"/>
<path d="M482.17 217.78L486.00 217.78L484.08 221.08Z" fill="#000000"/>
<path d="M489.12 217.79L492.95 217.79L491.04 221.09Z" fill="#000000"/>
<path d="M496.08 217.79L499.90 217.79L497.99 221.09Z" fill="#000000"/>
<path d="M503.03 217.79L506.86 217.79L504.94 221.09Z" fill="#000000"/>
<path d="M509.98 217.80L513.81 217.80L511.89 221.10Z" fill="#000000"/>
<path d="M516.93 217.80L520.76 217.80L518.85 221.10Z" fill="#000000"/>
<path d="M523.89 217.80L527.71 217.80L525.80 221.10Z" fill="#000000"/>
<path d="M393.7 143.3L400.8 164.4L402.2 168.9L403.6 173.1L405.0 177.1L406.4 180.8L407.8 184.3L409.2 187.5L410.6 190.6L412.0 193.4L413.4 196.0L414.8 198.1L416.2 199.9L417.7 201.5L419.1 202.9L420.5 204.2L421.9 205.6L423.3 206.9L424.7 208.3L426.1 209.6L427.5 210.7L428.9 211.6L430.3 212.3L431.7 212.9L433.1 213.4L434.5 213.8L435.9 214.3L437.3 214.7L438.7 215.1L440.1 215.5L441.5 215.8L442.9 216.1L444.3 216.3L445.7 216.5L447.1 216.7L448.6 216.8L450.0 216.9L451.4 216.9L452.8 216.9L454.2 216.9L455.6 217.0L457.0 217.0L458.4 217.0L459.8 217.0L461.2 217.0L462.6 217.0L464.0 217.0L465.4 217.0L466.8 217.0L468.2 217.1L469.6 217.1L471.0 217.1L472.4 217.1L473.8 217.1L475.2 217.1L476.6 217.1L478.0 217.1L479.5 217.1L480.9 217.1L482.3 217.1L483.7 217.1L485.1 217.1L486.5 217.1L487.9 217.1L489.3 217.2L490.7 217.2L492.1 217.2L493.5 217.2L494.9 217.2L496.3 217.2L497.7 217.2L499.1 217.2L500.5 217.2L501.9 217.2L503.3 217.2L504.7 217.2L506.1 217.2L507.5 217.2L508.9 217.2L510.4 217.2L511.8 217.2L513.2 217.2L514.6 217.2L516.0 217.2L517.4 217.2L518.8 217.2L520.2 217.2L521.6 217.2L523.0 217.2L524.4 217.2L525.8 217.2" fill="none" stroke="#ff0000" stroke-width="1.05" stroke-linejoin="round"/>
<circle cx="393.70" cy="143.30" r="1.65" fill="#ff0000"/>
<circle cx="400.65" cy="163.96" r="1.65" fill="#ff0000"/>
<circle cx="407.61" cy="183.74" r="1.65" fill="#ff0000"/>
<circle cx="414.56" cy="197.70" r="1.65" fill="#ff0000"/>
<circle cx="421.51" cy="205.22" r="1.65" fill="#ff0000"/>
<circle cx="428.46" cy="211.37" r="1.65" fill="#ff0000"/>
<circle cx="435.42" cy="214.11" r="1.65" fill="#ff0000"/>
<circle cx="442.37" cy="215.96" r="1.65" fill="#ff0000"/>
<circle cx="449.32" cy="216.88" r="1.65" fill="#ff0000"/>
<circle cx="456.27" cy="216.96" r="1.65" fill="#ff0000"/>
<circle cx="463.23" cy="217.02" r="1.65" fill="#ff0000"/>
<circle cx="470.18" cy="217.06" r="1.65" fill="#ff0000"/>
<circle cx="477.13" cy="217.10" r="1.65" fill="#ff0000"/>
<circle cx="484.08" cy="217.13" r="1.65" fill="#ff0000"/>
<circle cx="491.04" cy="217.16" r="1.65" fill="#ff0000"/>
<circle cx="497.99" cy="217.17" r="1.65" fill="#ff0000"/>
<circle cx="504.94" cy="217.19" r="1.65" fill="#ff0000"/>
<circle cx="511.89" cy="217.19" r="1.65" fill="#ff0000"/>
<circle cx="518.85" cy="217.20" r="1.65" fill="#ff0000"/>
<circle cx="525.80" cy="217.20" r="1.65" fill="#ff0000"/>
<path d="M393.7 143.5L400.8 191.0L402.2 192.2L403.6 193.5L405.0 194.7L406.4 196.0L407.8 197.2L409.2 198.5L410.6 199.7L412.0 201.0L413.4 202.3L414.8 203.5L416.2 204.8L417.7 206.2L419.1 207.5L420.5 208.7L421.9 209.7L423.3 210.6L424.7 211.5L426.1 212.3L427.5 213.0L428.9 213.6L430.3 214.1L431.7 214.5L433.1 214.9L434.5 215.3L435.9 215.5L437.3 215.7L438.7 215.9L440.1 216.1L441.5 216.3L442.9 216.5L444.3 216.6L445.7 216.7L447.1 216.8L448.6 216.9L450.0 216.9L451.4 216.9L452.8 216.9L454.2 216.9L455.6 217.0L457.0 217.0L458.4 217.0L459.8 217.0L461.2 217.0L462.6 217.0L464.0 217.0L465.4 217.0L466.8 217.0L468.2 217.0L469.6 217.1L471.0 217.1L472.4 217.1L473.8 217.1L475.2 217.1L476.6 217.1L478.0 217.1L479.5 217.1L480.9 217.1L482.3 217.1L483.7 217.1L485.1 217.1L486.5 217.1L487.9 217.1L489.3 217.1L490.7 217.2L492.1 217.2L493.5 217.2L494.9 217.2L496.3 217.2L497.7 217.2L499.1 217.2L500.5 217.2L501.9 217.2L503.3 217.2L504.7 217.2L506.1 217.2L507.5 217.2L508.9 217.2L510.4 217.2L511.8 217.2L513.2 217.2L514.6 217.2L516.0 217.2L517.4 217.2L518.8 217.2L520.2 217.2L521.6 217.2L523.0 217.2L524.4 217.2L525.8 217.2" fill="none" stroke="#808020" stroke-width="1.05" stroke-linejoin="round"/>
<path d="M391.79 144.60L395.61 144.60L393.70 141.30Z" fill="#808020"/>
<path d="M398.74 191.11L402.57 191.11L400.65 187.81Z" fill="#808020"/>
<path d="M405.69 198.13L409.52 198.13L407.61 194.83Z" fill="#808020"/>
<path d="M412.64 204.37L416.47 204.37L414.56 201.07Z" fill="#808020"/>
<path d="M419.60 210.57L423.42 210.57L421.51 207.27Z" fill="#808020"/>
<path d="M426.55 214.51L430.38 214.51L428.46 211.21Z" fill="#808020"/>
<path d="M433.50 216.55L437.33 216.55L435.42 213.25Z" fill="#808020"/>
<path d="M440.45 217.51L444.28 217.51L442.37 214.21Z" fill="#808020"/>
<path d="M447.41 217.99L451.24 217.99L449.32 214.69Z" fill="#808020"/>
<path d="M454.36 218.06L458.19 218.06L456.27 214.76Z" fill="#808020"/>
<path d="M461.31 218.11L465.14 218.11L463.23 214.81Z" fill="#808020"/>
<path d="M468.26 218.16L472.09 218.16L470.18 214.86Z" fill="#808020"/>
<path d="M475.22 218.20L479.05 218.20L477.13 214.90Z" fill="#808020"/>
<path d="M482.17 218.23L486.00 218.23L484.08 214.93Z" fill="#808020"/>
<path d="M489.12 218.25L492.95 218.25L491.04 214.95Z" fill="#808020"/>
<path d="M496.08 218.27L499.90 218.27L497.99 214.97Z" fill="#808020"/>
<path d="M503.03 218.28L506.86 218.28L504.94 214.98Z" fill="#808020"/>
<path d="M509.98 218.29L513.81 218.29L511.89 214.99Z" fill="#808020"/>
<path d="M516.93 218.30L520.76 218.30L518.85 215.00Z" fill="#808020"/>
<path d="M523.89 218.30L527.71 218.30L525.80 215.00Z" fill="#808020"/>
<path d="M393.7 173.0L400.8 197.2L402.2 199.2L403.6 201.1L405.0 202.8L406.4 204.3L407.8 205.4L409.2 206.4L410.6 207.2L412.0 207.9L413.4 208.5L414.8 208.9L416.2 209.3L417.7 209.5L419.1 209.7L420.5 210.0L421.9 210.3L423.3 210.9L424.7 211.6L426.1 212.4L427.5 213.1L428.9 213.6L430.3 213.9L431.7 214.2L433.1 214.4L434.5 214.7L435.9 214.9L437.3 215.2L438.7 215.6L440.1 215.8L441.5 216.1L442.9 216.2L444.3 216.3L445.7 216.4L447.1 216.5L448.6 216.6L450.0 216.7L451.4 216.8L452.8 216.8L454.2 216.9L455.6 216.9L457.0 216.9L458.4 216.9L459.8 216.9L461.2 217.0L462.6 217.0L464.0 217.0L465.4 217.0L466.8 217.0L468.2 217.0L469.6 217.0L471.0 217.1L472.4 217.1L473.8 217.1L475.2 217.1L476.6 217.1L478.0 217.1L479.5 217.1L480.9 217.1L482.3 217.2L483.7 217.2L485.1 217.2L486.5 217.2L487.9 217.2L489.3 217.2L490.7 217.2L492.1 217.2L493.5 217.2L494.9 217.2L496.3 217.2L497.7 217.2L499.1 217.2L500.5 217.3L501.9 217.3L503.3 217.3L504.7 217.3L506.1 217.3L507.5 217.3L508.9 217.3L510.4 217.3L511.8 217.3L513.2 217.3L514.6 217.3L516.0 217.3L517.4 217.3L518.8 217.3L520.2 217.3L521.6 217.3L523.0 217.3L524.4 217.3L525.8 217.3" fill="none" stroke="#ee3399" stroke-width="1.05" stroke-linejoin="round"/>
<rect x="392.20" y="171.50" width="3.00" height="3.00" fill="#ee3399"/>
<rect x="399.15" y="195.20" width="3.00" height="3.00" fill="#ee3399"/>
<rect x="406.11" y="203.76" width="3.00" height="3.00" fill="#ee3399"/>
<rect x="413.06" y="207.36" width="3.00" height="3.00" fill="#ee3399"/>
<rect x="420.01" y="208.75" width="3.00" height="3.00" fill="#ee3399"/>
<rect x="426.96" y="211.93" width="3.00" height="3.00" fill="#ee3399"/>
<rect x="433.92" y="213.35" width="3.00" height="3.00" fill="#ee3399"/>
<rect x="440.87" y="214.68" width="3.00" height="3.00" fill="#ee3399"/>
<rect x="447.82" y="215.16" width="3.00" height="3.00" fill="#ee3399"/>
<rect x="454.77" y="215.40" width="3.00" height="3.00" fill="#ee3399"/>
<rect x="461.73" y="215.48" width="3.00" height="3.00" fill="#ee3399"/>
<rect x="468.68" y="215.55" width="3.00" height="3.00" fill="#ee3399"/>
<rect x="475.63" y="215.61" width="3.00" height="3.00" fill="#ee3399"/>
<rect x="482.58" y="215.66" width="3.00" height="3.00" fill="#ee3399"/>
<rect x="489.54" y="215.71" width="3.00" height="3.00" fill="#ee3399"/>
<rect x="496.49" y="215.74" width="3.00" height="3.00" fill="#ee3399"/>
<rect x="503.44" y="215.77" width="3.00" height="3.00" fill="#ee3399"/>
<rect x="510.39" y="215.79" width="3.00" height="3.00" fill="#ee3399"/>
<rect x="517.35" y="215.80" width="3.00" height="3.00" fill="#ee3399"/>
<rect x="524.30" y="215.80" width="3.00" height="3.00" fill="#ee3399"/>
<path d="M393.7 143.5L400.8 200.4L402.2 203.6L403.6 206.4L405.0 208.9L406.4 210.6L407.8 211.6L409.2 212.0L410.6 212.3L412.0 212.6L413.4 212.8L414.8 213.0L416.2 213.3L417.7 213.5L419.1 213.7L420.5 213.9L421.9 214.1L423.3 214.5L424.7 214.9L426.1 215.4L427.5 215.8L428.9 216.0L430.3 216.2L431.7 216.4L433.1 216.5L434.5 216.6L435.9 216.7L437.3 216.8L438.7 216.9L440.1 216.9L441.5 216.9L442.9 216.9L444.3 216.9L445.7 216.9L447.1 216.9L448.6 216.9L450.0 217.0L451.4 217.0L452.8 217.0L454.2 217.0L455.6 217.0L457.0 217.0L458.4 217.0L459.8 217.0L461.2 217.0L462.6 217.0L464.0 217.0L465.4 217.0L466.8 217.0L468.2 217.0L469.6 217.0L471.0 217.0L472.4 217.0L473.8 217.0L475.2 217.0L476.6 217.0L478.0 217.1L479.5 217.1L480.9 217.1L482.3 217.1L483.7 217.1L485.1 217.1L486.5 217.1L487.9 217.1L489.3 217.1L490.7 217.1L492.1 217.1L493.5 217.1L494.9 217.1L496.3 217.1L497.7 217.1L499.1 217.1L500.5 217.1L501.9 217.1L503.3 217.1L504.7 217.1L506.1 217.1L507.5 217.1L508.9 217.1L510.4 217.1L511.8 217.1L513.2 217.1L514.6 217.1L516.0 217.1L517.4 217.1L518.8 217.1L520.2 217.1L521.6 217.1L523.0 217.1L524.4 217.1L525.8 217.1" fill="none" stroke="#00cc66" stroke-width="1.05" stroke-linejoin="round"/>
<path d="M391.79 142.40L395.61 142.40L393.70 145.70Z" fill="#00cc66"/>
<path d="M398.74 198.12L402.57 198.12L400.65 201.42Z" fill="#00cc66"/>
<path d="M405.69 210.42L409.52 210.42L407.61 213.72Z" fill="#00cc66"/>
<path d="M412.64 211.88L416.47 211.88L414.56 215.18Z" fill="#00cc66"/>
<path d="M419.60 212.96L423.42 212.96L421.51 216.26Z" fill="#00cc66"/>
<path d="M426.55 214.87L430.38 214.87L428.46 218.17Z" fill="#00cc66"/>
<path d="M433.50 215.61L437.33 215.61L435.42 218.91Z" fill="#00cc66"/>
<path d="M440.45 215.81L444.28 215.81L442.37 219.11Z" fill="#00cc66"/>
<path d="M447.41 215.85L451.24 215.85L449.32 219.15Z" fill="#00cc66"/>
<path d="M454.36 215.88L458.19 215.88L456.27 219.18Z" fill="#00cc66"/>
<path d="M461.31 215.91L465.14 215.91L463.23 219.21Z" fill="#00cc66"/>
<path d="M468.26 215.93L472.09 215.93L470.18 219.23Z" fill="#00cc66"/>
<path d="M475.22 215.95L479.05 215.95L477.13 219.25Z" fill="#00cc66"/>
<path d="M482.17 215.97L486.00 215.97L484.08 219.27Z" fill="#00cc66"/>
<path d="M489.12 215.98L492.95 215.98L491.04 219.28Z" fill="#00cc66"/>
<path d="M496.08 215.99L499.90 215.99L497.99 219.29Z" fill="#00cc66"/>
<path d="M503.03 215.99L506.86 215.99L504.94 219.29Z" fill="#00cc66"/>
<path d="M509.98 216.00L513.81 216.00L511.89 219.30Z" fill="#00cc66"/>
<path d="M516.93 216.00L520.76 216.00L518.85 219.30Z" fill="#00cc66"/>
<path d="M523.89 216.00L527.71 216.00L525.80 219.30Z" fill="#00cc66"/>
<path d="M393.7 143.3L400.8 161.1L402.2 162.5L403.6 164.2L405.0 166.1L406.4 168.2L407.8 170.4L409.2 173.1L410.6 176.3L412.0 179.6L413.4 182.8L414.8 185.4L416.2 187.7L417.7 189.6L419.1 191.5L420.5 193.4L421.9 195.3L423.3 197.5L424.7 199.8L426.1 202.1L427.5 204.1L428.9 205.9L430.3 207.5L431.7 209.1L433.1 210.4L434.5 211.6L435.9 212.5L437.3 213.3L438.7 214.0L440.1 214.5L441.5 215.0L442.9 215.4L444.3 215.7L445.7 215.9L447.1 216.1L448.6 216.3L450.0 216.4L451.4 216.6L452.8 216.7L454.2 216.8L455.6 216.9L457.0 216.9L458.4 217.0L459.8 217.0L461.2 217.1L462.6 217.1L464.0 217.2L465.4 217.2L466.8 217.3L468.2 217.3L469.6 217.3L471.0 217.3L472.4 217.3L473.8 217.3L475.2 217.3L476.6 217.3L478.0 217.3L479.5 217.3L480.9 217.3L482.3 217.3L483.7 217.3L485.1 217.4L486.5 217.4L487.9 217.4L489.3 217.4L490.7 217.4L492.1 217.4L493.5 217.4L494.9 217.4L496.3 217.4L497.7 217.4L499.1 217.4L500.5 217.4L501.9 217.4L503.3 217.4L504.7 217.4L506.1 217.4L507.5 217.4L508.9 217.4L510.4 217.4L511.8 217.4L513.2 217.4L514.6 217.4L516.0 217.4L517.4 217.4L518.8 217.4L520.2 217.4L521.6 217.4L523.0 217.4L524.4 217.4L525.8 217.4" fill="none" stroke="#e6195a" stroke-width="1.05" stroke-linejoin="round"/>
<circle cx="393.70" cy="143.30" r="1.3" fill="#f280a8" stroke="#e6195a" stroke-width="0.8"/>
<circle cx="400.65" cy="160.73" r="1.3" fill="#f280a8" stroke="#e6195a" stroke-width="0.8"/>
<circle cx="407.61" cy="170.08" r="1.3" fill="#f280a8" stroke="#e6195a" stroke-width="0.8"/>
<circle cx="414.56" cy="184.95" r="1.3" fill="#f280a8" stroke="#e6195a" stroke-width="0.8"/>
<circle cx="421.51" cy="194.82" r="1.3" fill="#f280a8" stroke="#e6195a" stroke-width="0.8"/>
<circle cx="428.46" cy="205.42" r="1.3" fill="#f280a8" stroke="#e6195a" stroke-width="0.8"/>
<circle cx="435.42" cy="212.23" r="1.3" fill="#f280a8" stroke="#e6195a" stroke-width="0.8"/>
<circle cx="442.37" cy="215.25" r="1.3" fill="#f280a8" stroke="#e6195a" stroke-width="0.8"/>
<circle cx="449.32" cy="216.37" r="1.3" fill="#f280a8" stroke="#e6195a" stroke-width="0.8"/>
<circle cx="456.27" cy="216.89" r="1.3" fill="#f280a8" stroke="#e6195a" stroke-width="0.8"/>
<circle cx="463.23" cy="217.16" r="1.3" fill="#f280a8" stroke="#e6195a" stroke-width="0.8"/>
<circle cx="470.18" cy="217.30" r="1.3" fill="#f280a8" stroke="#e6195a" stroke-width="0.8"/>
<circle cx="477.13" cy="217.33" r="1.3" fill="#f280a8" stroke="#e6195a" stroke-width="0.8"/>
<circle cx="484.08" cy="217.35" r="1.3" fill="#f280a8" stroke="#e6195a" stroke-width="0.8"/>
<circle cx="491.04" cy="217.37" r="1.3" fill="#f280a8" stroke="#e6195a" stroke-width="0.8"/>
<circle cx="497.99" cy="217.38" r="1.3" fill="#f280a8" stroke="#e6195a" stroke-width="0.8"/>
<circle cx="504.94" cy="217.39" r="1.3" fill="#f280a8" stroke="#e6195a" stroke-width="0.8"/>
<circle cx="511.89" cy="217.40" r="1.3" fill="#f280a8" stroke="#e6195a" stroke-width="0.8"/>
<circle cx="518.85" cy="217.40" r="1.3" fill="#f280a8" stroke="#e6195a" stroke-width="0.8"/>
<circle cx="525.80" cy="217.40" r="1.3" fill="#f280a8" stroke="#e6195a" stroke-width="0.8"/>
<path d="M393.7 143.5L400.8 180.7L402.2 185.9L403.6 190.7L405.0 194.9L406.4 198.5L407.8 201.3L409.2 203.6L410.6 205.5L412.0 207.1L413.4 208.5L414.8 209.7L416.2 210.7L417.7 211.7L419.1 212.5L420.5 213.2L421.9 213.8L423.3 214.3L424.7 214.8L426.1 215.2L427.5 215.6L428.9 215.8L430.3 216.1L431.7 216.3L433.1 216.5L434.5 216.7L435.9 216.9L437.3 217.0L438.7 217.1L440.1 217.1L441.5 217.1L442.9 217.1L444.3 217.1L445.7 217.1L447.1 217.2L448.6 217.2L450.0 217.2L451.4 217.2L452.8 217.2L454.2 217.2L455.6 217.2L457.0 217.2L458.4 217.2L459.8 217.2L461.2 217.3L462.6 217.3L464.0 217.3L465.4 217.3L466.8 217.3L468.2 217.3L469.6 217.3L471.0 217.3L472.4 217.3L473.8 217.3L475.2 217.3L476.6 217.3L478.0 217.3L479.5 217.3L480.9 217.3L482.3 217.3L483.7 217.3L485.1 217.4L486.5 217.4L487.9 217.4L489.3 217.4L490.7 217.4L492.1 217.4L493.5 217.4L494.9 217.4L496.3 217.4L497.7 217.4L499.1 217.4L500.5 217.4L501.9 217.4L503.3 217.4L504.7 217.4L506.1 217.4L507.5 217.4L508.9 217.4L510.4 217.4L511.8 217.4L513.2 217.4L514.6 217.4L516.0 217.4L517.4 217.4L518.8 217.4L520.2 217.4L521.6 217.4L523.0 217.4L524.4 217.4L525.8 217.4" fill="none" stroke="#5c5cd0" stroke-width="1.05" stroke-linejoin="round"/>
<path d="M391.79 144.60L395.61 144.60L393.70 141.30Z" fill="#5c5cd0"/>
<path d="M398.74 181.03L402.57 181.03L400.65 177.73Z" fill="#5c5cd0"/>
<path d="M405.69 202.06L409.52 202.06L407.61 198.76Z" fill="#5c5cd0"/>
<path d="M412.64 210.59L416.47 210.59L414.56 207.29Z" fill="#5c5cd0"/>
<path d="M419.60 214.72L423.42 214.72L421.51 211.42Z" fill="#5c5cd0"/>
<path d="M426.55 216.86L430.38 216.86L428.46 213.56Z" fill="#5c5cd0"/>
<path d="M433.50 217.91L437.33 217.91L435.42 214.61Z" fill="#5c5cd0"/>
<path d="M440.45 218.22L444.28 218.22L442.37 214.92Z" fill="#5c5cd0"/>
<path d="M447.41 218.28L451.24 218.28L449.32 214.98Z" fill="#5c5cd0"/>
<path d="M454.36 218.32L458.19 218.32L456.27 215.02Z" fill="#5c5cd0"/>
<path d="M461.31 218.36L465.14 218.36L463.23 215.06Z" fill="#5c5cd0"/>
<path d="M468.26 218.40L472.09 218.40L470.18 215.10Z" fill="#5c5cd0"/>
<path d="M475.22 218.43L479.05 218.43L477.13 215.13Z" fill="#5c5cd0"/>
<path d="M482.17 218.45L486.00 218.45L484.08 215.15Z" fill="#5c5cd0"/>
<path d="M489.12 218.47L492.95 218.47L491.04 215.17Z" fill="#5c5cd0"/>
<path d="M496.08 218.48L499.90 218.48L497.99 215.18Z" fill="#5c5cd0"/>
<path d="M503.03 218.49L506.86 218.49L504.94 215.19Z" fill="#5c5cd0"/>
<path d="M509.98 218.50L513.81 218.50L511.89 215.20Z" fill="#5c5cd0"/>
<path d="M516.93 218.50L520.76 218.50L518.85 215.20Z" fill="#5c5cd0"/>
<path d="M523.89 218.50L527.71 218.50L525.80 215.20Z" fill="#5c5cd0"/>
<path d="M393.7 143.3L400.8 197.9L402.2 201.9L403.6 205.6L405.0 208.7L406.4 211.0L407.8 212.3L409.2 213.0L410.6 213.5L412.0 213.9L413.4 214.2L414.8 214.4L416.2 214.7L417.7 214.8L419.1 215.0L420.5 215.2L421.9 215.3L423.3 215.5L424.7 215.6L426.1 215.8L427.5 216.0L428.9 216.1L430.3 216.2L431.7 216.3L433.1 216.4L434.5 216.5L435.9 216.5L437.3 216.5L438.7 216.6L440.1 216.6L441.5 216.6L442.9 216.6L444.3 216.7L445.7 216.7L447.1 216.7L448.6 216.7L450.0 216.7L451.4 216.8L452.8 216.8L454.2 216.8L455.6 216.8L457.0 216.8L458.4 216.8L459.8 216.9L461.2 216.9L462.6 216.9L464.0 216.9L465.4 216.9L466.8 216.9L468.2 217.0L469.6 217.0L471.0 217.0L472.4 217.0L473.8 217.0L475.2 217.0L476.6 217.0L478.0 217.0L479.5 217.0L480.9 217.1L482.3 217.1L483.7 217.1L485.1 217.1L486.5 217.1L487.9 217.1L489.3 217.1L490.7 217.1L492.1 217.1L493.5 217.1L494.9 217.1L496.3 217.1L497.7 217.1L499.1 217.2L500.5 217.2L501.9 217.2L503.3 217.2L504.7 217.2L506.1 217.2L507.5 217.2L508.9 217.2L510.4 217.2L511.8 217.2L513.2 217.2L514.6 217.2L516.0 217.2L517.4 217.2L518.8 217.2L520.2 217.2L521.6 217.2L523.0 217.2L524.4 217.2L525.8 217.2" fill="none" stroke="#b4b4b4" stroke-width="1.05" stroke-linejoin="round"/>
<path d="M393.70 141.20L395.30 143.30L393.70 145.40L392.10 143.30Z" fill="#b4b4b4"/>
<path d="M400.65 194.67L402.25 196.77L400.65 198.87L399.05 196.77Z" fill="#b4b4b4"/>
<path d="M407.61 210.09L409.21 212.19L407.61 214.29L406.01 212.19Z" fill="#b4b4b4"/>
<path d="M414.56 212.27L416.16 214.37L414.56 216.47L412.96 214.37Z" fill="#b4b4b4"/>
<path d="M421.51 213.18L423.11 215.28L421.51 217.38L419.91 215.28Z" fill="#b4b4b4"/>
<path d="M428.46 213.96L430.06 216.06L428.46 218.16L426.86 216.06Z" fill="#b4b4b4"/>
<path d="M435.42 214.41L437.02 216.51L435.42 218.61L433.82 216.51Z" fill="#b4b4b4"/>
<path d="M442.37 214.52L443.97 216.62L442.37 218.72L440.77 216.62Z" fill="#b4b4b4"/>
<path d="M449.32 214.63L450.92 216.73L449.32 218.83L447.72 216.73Z" fill="#b4b4b4"/>
<path d="M456.27 214.72L457.87 216.82L456.27 218.92L454.67 216.82Z" fill="#b4b4b4"/>
<path d="M463.23 214.80L464.83 216.90L463.23 219.00L461.63 216.90Z" fill="#b4b4b4"/>
<path d="M470.18 214.87L471.78 216.97L470.18 219.07L468.58 216.97Z" fill="#b4b4b4"/>
<path d="M477.13 214.93L478.73 217.03L477.13 219.13L475.53 217.03Z" fill="#b4b4b4"/>
<path d="M484.08 214.98L485.68 217.08L484.08 219.18L482.48 217.08Z" fill="#b4b4b4"/>
<path d="M491.04 215.02L492.64 217.12L491.04 219.22L489.44 217.12Z" fill="#b4b4b4"/>
<path d="M497.99 215.05L499.59 217.15L497.99 219.25L496.39 217.15Z" fill="#b4b4b4"/>
<path d="M504.94 215.07L506.54 217.17L504.94 219.27L503.34 217.17Z" fill="#b4b4b4"/>
<path d="M511.89 215.09L513.49 217.19L511.89 219.29L510.29 217.19Z" fill="#b4b4b4"/>
<path d="M518.85 215.10L520.45 217.20L518.85 219.30L517.25 217.20Z" fill="#b4b4b4"/>
<path d="M525.80 215.10L527.40 217.20L525.80 219.30L524.20 217.20Z" fill="#b4b4b4"/>
<rect x="393.70" y="140.35" width="132.10" height="89.60" fill="none" stroke="#a0a0a0" stroke-width="0.6"/>
<line x1="393.70" y1="229.95" x2="393.70" y2="228.75" stroke="#a0a0a0" stroke-width="0.5"/>
<line x1="393.70" y1="140.35" x2="393.70" y2="141.55" stroke="#a0a0a0" stroke-width="0.5"/>
<text class="s" x="393.70" y="237.65" font-size="5.27" text-anchor="middle" fill="#262626">0</text>
<line x1="420.12" y1="229.95" x2="420.12" y2="228.75" stroke="#a0a0a0" stroke-width="0.5"/>
<line x1="420.12" y1="140.35" x2="420.12" y2="141.55" stroke="#a0a0a0" stroke-width="0.5"/>
<text class="s" x="420.12" y="237.65" font-size="5.27" text-anchor="middle" fill="#262626">200</text>
<line x1="446.54" y1="229.95" x2="446.54" y2="228.75" stroke="#a0a0a0" stroke-width="0.5"/>
<line x1="446.54" y1="140.35" x2="446.54" y2="141.55" stroke="#a0a0a0" stroke-width="0.5"/>
<text class="s" x="446.54" y="237.65" font-size="5.27" text-anchor="middle" fill="#262626">400</text>
<line x1="472.96" y1="229.95" x2="472.96" y2="228.75" stroke="#a0a0a0" stroke-width="0.5"/>
<line x1="472.96" y1="140.35" x2="472.96" y2="141.55" stroke="#a0a0a0" stroke-width="0.5"/>
<text class="s" x="472.96" y="237.65" font-size="5.27" text-anchor="middle" fill="#262626">600</text>
<line x1="499.38" y1="229.95" x2="499.38" y2="228.75" stroke="#a0a0a0" stroke-width="0.5"/>
<line x1="499.38" y1="140.35" x2="499.38" y2="141.55" stroke="#a0a0a0" stroke-width="0.5"/>
<text class="s" x="499.38" y="237.65" font-size="5.27" text-anchor="middle" fill="#262626">800</text>
<line x1="525.80" y1="229.95" x2="525.80" y2="228.75" stroke="#a0a0a0" stroke-width="0.5"/>
<line x1="525.80" y1="140.35" x2="525.80" y2="141.55" stroke="#a0a0a0" stroke-width="0.5"/>
<text class="s" x="525.80" y="237.65" font-size="5.27" text-anchor="middle" fill="#262626">1000</text>
<text class="s" x="392.40" y="232.55" font-size="5.27" text-anchor="end" fill="#262626">0</text>
<line x1="393.70" y1="229.95" x2="394.90" y2="229.95" stroke="#a0a0a0" stroke-width="0.5"/>
<line x1="525.80" y1="229.95" x2="524.60" y2="229.95" stroke="#a0a0a0" stroke-width="0.5"/>
<text class="s" x="392.40" y="214.63" font-size="5.27" text-anchor="end" fill="#262626">0.5</text>
<line x1="393.70" y1="212.03" x2="394.90" y2="212.03" stroke="#a0a0a0" stroke-width="0.5"/>
<line x1="525.80" y1="212.03" x2="524.60" y2="212.03" stroke="#a0a0a0" stroke-width="0.5"/>
<text class="s" x="392.40" y="196.71" font-size="5.27" text-anchor="end" fill="#262626">1</text>
<line x1="393.70" y1="194.11" x2="394.90" y2="194.11" stroke="#a0a0a0" stroke-width="0.5"/>
<line x1="525.80" y1="194.11" x2="524.60" y2="194.11" stroke="#a0a0a0" stroke-width="0.5"/>
<text class="s" x="392.40" y="178.79" font-size="5.27" text-anchor="end" fill="#262626">1.5</text>
<line x1="393.70" y1="176.19" x2="394.90" y2="176.19" stroke="#a0a0a0" stroke-width="0.5"/>
<line x1="525.80" y1="176.19" x2="524.60" y2="176.19" stroke="#a0a0a0" stroke-width="0.5"/>
<text class="s" x="392.40" y="160.87" font-size="5.27" text-anchor="end" fill="#262626">2</text>
<line x1="393.70" y1="158.27" x2="394.90" y2="158.27" stroke="#a0a0a0" stroke-width="0.5"/>
<line x1="525.80" y1="158.27" x2="524.60" y2="158.27" stroke="#a0a0a0" stroke-width="0.5"/>
<text class="s" x="392.40" y="142.95" font-size="5.27" text-anchor="end" fill="#262626">2.5</text>
<line x1="393.70" y1="140.35" x2="394.90" y2="140.35" stroke="#a0a0a0" stroke-width="0.5"/>
<line x1="525.80" y1="140.35" x2="524.60" y2="140.35" stroke="#a0a0a0" stroke-width="0.5"/>
<text class="s" x="394.50" y="139.55" font-size="5.27" fill="#262626">×10<tspan font-size="3.69" dy="-2">4</tspan></text>
<text class="s" x="459.75" y="138.75" font-size="5.8" text-anchor="middle" fill="#1a1a1a">CEC2017 F27 Dim=50</text>
<text class="s" x="459.75" y="244.55" font-size="5.8" text-anchor="middle" fill="#1a1a1a">Iterations</text>
<text class="s" transform="translate(382.00,185.15) rotate(-90)" x="0" y="0" font-size="5.8" text-anchor="middle" fill="#1a1a1a">Average Fitness</text>
<line x1="29.50" y1="353.85" x2="162.20" y2="353.85" stroke="#ececec" stroke-width="0.5"/>
<line x1="29.50" y1="353.85" x2="30.40" y2="353.85" stroke="#a8a8a8" stroke-width="0.45"/>
<line x1="161.30" y1="353.85" x2="162.20" y2="353.85" stroke="#a8a8a8" stroke-width="0.45"/>
<line x1="29.50" y1="352.84" x2="162.20" y2="352.84" stroke="#ececec" stroke-width="0.5"/>
<line x1="29.50" y1="352.84" x2="30.40" y2="352.84" stroke="#a8a8a8" stroke-width="0.45"/>
<line x1="161.30" y1="352.84" x2="162.20" y2="352.84" stroke="#a8a8a8" stroke-width="0.45"/>
<line x1="29.50" y1="351.93" x2="162.20" y2="351.93" stroke="#e4e4e4" stroke-width="0.5"/>
<line x1="29.50" y1="351.93" x2="30.40" y2="351.93" stroke="#a8a8a8" stroke-width="0.45"/>
<line x1="161.30" y1="351.93" x2="162.20" y2="351.93" stroke="#a8a8a8" stroke-width="0.45"/>
<line x1="29.50" y1="345.98" x2="162.20" y2="345.98" stroke="#ececec" stroke-width="0.5"/>
<line x1="29.50" y1="345.98" x2="30.40" y2="345.98" stroke="#a8a8a8" stroke-width="0.45"/>
<line x1="161.30" y1="345.98" x2="162.20" y2="345.98" stroke="#a8a8a8" stroke-width="0.45"/>
<line x1="29.50" y1="342.50" x2="162.20" y2="342.50" stroke="#ececec" stroke-width="0.5"/>
<line x1="29.50" y1="342.50" x2="30.40" y2="342.50" stroke="#a8a8a8" stroke-width="0.45"/>
<line x1="161.30" y1="342.50" x2="162.20" y2="342.50" stroke="#a8a8a8" stroke-width="0.45"/>
<line x1="29.50" y1="340.02" x2="162.20" y2="340.02" stroke="#ececec" stroke-width="0.5"/>
<line x1="29.50" y1="340.02" x2="30.40" y2="340.02" stroke="#a8a8a8" stroke-width="0.45"/>
<line x1="161.30" y1="340.02" x2="162.20" y2="340.02" stroke="#a8a8a8" stroke-width="0.45"/>
<line x1="29.50" y1="338.11" x2="162.20" y2="338.11" stroke="#ececec" stroke-width="0.5"/>
<line x1="29.50" y1="338.11" x2="30.40" y2="338.11" stroke="#a8a8a8" stroke-width="0.45"/>
<line x1="161.30" y1="338.11" x2="162.20" y2="338.11" stroke="#a8a8a8" stroke-width="0.45"/>
<line x1="29.50" y1="336.54" x2="162.20" y2="336.54" stroke="#ececec" stroke-width="0.5"/>
<line x1="29.50" y1="336.54" x2="30.40" y2="336.54" stroke="#a8a8a8" stroke-width="0.45"/>
<line x1="161.30" y1="336.54" x2="162.20" y2="336.54" stroke="#a8a8a8" stroke-width="0.45"/>
<line x1="29.50" y1="335.22" x2="162.20" y2="335.22" stroke="#ececec" stroke-width="0.5"/>
<line x1="29.50" y1="335.22" x2="30.40" y2="335.22" stroke="#a8a8a8" stroke-width="0.45"/>
<line x1="161.30" y1="335.22" x2="162.20" y2="335.22" stroke="#a8a8a8" stroke-width="0.45"/>
<line x1="29.50" y1="334.07" x2="162.20" y2="334.07" stroke="#ececec" stroke-width="0.5"/>
<line x1="29.50" y1="334.07" x2="30.40" y2="334.07" stroke="#a8a8a8" stroke-width="0.45"/>
<line x1="161.30" y1="334.07" x2="162.20" y2="334.07" stroke="#a8a8a8" stroke-width="0.45"/>
<line x1="29.50" y1="333.06" x2="162.20" y2="333.06" stroke="#ececec" stroke-width="0.5"/>
<line x1="29.50" y1="333.06" x2="30.40" y2="333.06" stroke="#a8a8a8" stroke-width="0.45"/>
<line x1="161.30" y1="333.06" x2="162.20" y2="333.06" stroke="#a8a8a8" stroke-width="0.45"/>
<line x1="29.50" y1="332.15" x2="162.20" y2="332.15" stroke="#e4e4e4" stroke-width="0.5"/>
<line x1="29.50" y1="332.15" x2="30.40" y2="332.15" stroke="#a8a8a8" stroke-width="0.45"/>
<line x1="161.30" y1="332.15" x2="162.20" y2="332.15" stroke="#a8a8a8" stroke-width="0.45"/>
<line x1="29.50" y1="326.20" x2="162.20" y2="326.20" stroke="#ececec" stroke-width="0.5"/>
<line x1="29.50" y1="326.20" x2="30.40" y2="326.20" stroke="#a8a8a8" stroke-width="0.45"/>
<line x1="161.30" y1="326.20" x2="162.20" y2="326.20" stroke="#a8a8a8" stroke-width="0.45"/>
<line x1="29.50" y1="322.72" x2="162.20" y2="322.72" stroke="#ececec" stroke-width="0.5"/>
<line x1="29.50" y1="322.72" x2="30.40" y2="322.72" stroke="#a8a8a8" stroke-width="0.45"/>
<line x1="161.30" y1="322.72" x2="162.20" y2="322.72" stroke="#a8a8a8" stroke-width="0.45"/>
<line x1="29.50" y1="320.25" x2="162.20" y2="320.25" stroke="#ececec" stroke-width="0.5"/>
<line x1="29.50" y1="320.25" x2="30.40" y2="320.25" stroke="#a8a8a8" stroke-width="0.45"/>
<line x1="161.30" y1="320.25" x2="162.20" y2="320.25" stroke="#a8a8a8" stroke-width="0.45"/>
<line x1="29.50" y1="318.33" x2="162.20" y2="318.33" stroke="#ececec" stroke-width="0.5"/>
<line x1="29.50" y1="318.33" x2="30.40" y2="318.33" stroke="#a8a8a8" stroke-width="0.45"/>
<line x1="161.30" y1="318.33" x2="162.20" y2="318.33" stroke="#a8a8a8" stroke-width="0.45"/>
<line x1="29.50" y1="316.76" x2="162.20" y2="316.76" stroke="#ececec" stroke-width="0.5"/>
<line x1="29.50" y1="316.76" x2="30.40" y2="316.76" stroke="#a8a8a8" stroke-width="0.45"/>
<line x1="161.30" y1="316.76" x2="162.20" y2="316.76" stroke="#a8a8a8" stroke-width="0.45"/>
<line x1="29.50" y1="315.44" x2="162.20" y2="315.44" stroke="#ececec" stroke-width="0.5"/>
<line x1="29.50" y1="315.44" x2="30.40" y2="315.44" stroke="#a8a8a8" stroke-width="0.45"/>
<line x1="161.30" y1="315.44" x2="162.20" y2="315.44" stroke="#a8a8a8" stroke-width="0.45"/>
<line x1="29.50" y1="314.29" x2="162.20" y2="314.29" stroke="#ececec" stroke-width="0.5"/>
<line x1="29.50" y1="314.29" x2="30.40" y2="314.29" stroke="#a8a8a8" stroke-width="0.45"/>
<line x1="161.30" y1="314.29" x2="162.20" y2="314.29" stroke="#a8a8a8" stroke-width="0.45"/>
<line x1="29.50" y1="313.28" x2="162.20" y2="313.28" stroke="#ececec" stroke-width="0.5"/>
<line x1="29.50" y1="313.28" x2="30.40" y2="313.28" stroke="#a8a8a8" stroke-width="0.45"/>
<line x1="161.30" y1="313.28" x2="162.20" y2="313.28" stroke="#a8a8a8" stroke-width="0.45"/>
<line x1="29.50" y1="312.37" x2="162.20" y2="312.37" stroke="#e4e4e4" stroke-width="0.5"/>
<line x1="29.50" y1="312.37" x2="30.40" y2="312.37" stroke="#a8a8a8" stroke-width="0.45"/>
<line x1="161.30" y1="312.37" x2="162.20" y2="312.37" stroke="#a8a8a8" stroke-width="0.45"/>
<line x1="29.50" y1="306.42" x2="162.20" y2="306.42" stroke="#ececec" stroke-width="0.5"/>
<line x1="29.50" y1="306.42" x2="30.40" y2="306.42" stroke="#a8a8a8" stroke-width="0.45"/>
<line x1="161.30" y1="306.42" x2="162.20" y2="306.42" stroke="#a8a8a8" stroke-width="0.45"/>
<line x1="29.50" y1="302.94" x2="162.20" y2="302.94" stroke="#ececec" stroke-width="0.5"/>
<line x1="29.50" y1="302.94" x2="30.40" y2="302.94" stroke="#a8a8a8" stroke-width="0.45"/>
<line x1="161.30" y1="302.94" x2="162.20" y2="302.94" stroke="#a8a8a8" stroke-width="0.45"/>
<line x1="29.50" y1="300.47" x2="162.20" y2="300.47" stroke="#ececec" stroke-width="0.5"/>
<line x1="29.50" y1="300.47" x2="30.40" y2="300.47" stroke="#a8a8a8" stroke-width="0.45"/>
<line x1="161.30" y1="300.47" x2="162.20" y2="300.47" stroke="#a8a8a8" stroke-width="0.45"/>
<line x1="29.50" y1="298.55" x2="162.20" y2="298.55" stroke="#ececec" stroke-width="0.5"/>
<line x1="29.50" y1="298.55" x2="30.40" y2="298.55" stroke="#a8a8a8" stroke-width="0.45"/>
<line x1="161.30" y1="298.55" x2="162.20" y2="298.55" stroke="#a8a8a8" stroke-width="0.45"/>
<line x1="29.50" y1="296.98" x2="162.20" y2="296.98" stroke="#ececec" stroke-width="0.5"/>
<line x1="29.50" y1="296.98" x2="30.40" y2="296.98" stroke="#a8a8a8" stroke-width="0.45"/>
<line x1="161.30" y1="296.98" x2="162.20" y2="296.98" stroke="#a8a8a8" stroke-width="0.45"/>
<line x1="29.50" y1="295.66" x2="162.20" y2="295.66" stroke="#ececec" stroke-width="0.5"/>
<line x1="29.50" y1="295.66" x2="30.40" y2="295.66" stroke="#a8a8a8" stroke-width="0.45"/>
<line x1="161.30" y1="295.66" x2="162.20" y2="295.66" stroke="#a8a8a8" stroke-width="0.45"/>
<line x1="29.50" y1="294.51" x2="162.20" y2="294.51" stroke="#ececec" stroke-width="0.5"/>
<line x1="29.50" y1="294.51" x2="30.40" y2="294.51" stroke="#a8a8a8" stroke-width="0.45"/>
<line x1="161.30" y1="294.51" x2="162.20" y2="294.51" stroke="#a8a8a8" stroke-width="0.45"/>
<line x1="29.50" y1="293.50" x2="162.20" y2="293.50" stroke="#ececec" stroke-width="0.5"/>
<line x1="29.50" y1="293.50" x2="30.40" y2="293.50" stroke="#a8a8a8" stroke-width="0.45"/>
<line x1="161.30" y1="293.50" x2="162.20" y2="293.50" stroke="#a8a8a8" stroke-width="0.45"/>
<line x1="29.50" y1="292.60" x2="162.20" y2="292.60" stroke="#e4e4e4" stroke-width="0.5"/>
<line x1="29.50" y1="292.60" x2="30.40" y2="292.60" stroke="#a8a8a8" stroke-width="0.45"/>
<line x1="161.30" y1="292.60" x2="162.20" y2="292.60" stroke="#a8a8a8" stroke-width="0.45"/>
<line x1="29.50" y1="286.64" x2="162.20" y2="286.64" stroke="#ececec" stroke-width="0.5"/>
<line x1="29.50" y1="286.64" x2="30.40" y2="286.64" stroke="#a8a8a8" stroke-width="0.45"/>
<line x1="161.30" y1="286.64" x2="162.20" y2="286.64" stroke="#a8a8a8" stroke-width="0.45"/>
<line x1="29.50" y1="283.16" x2="162.20" y2="283.16" stroke="#ececec" stroke-width="0.5"/>
<line x1="29.50" y1="283.16" x2="30.40" y2="283.16" stroke="#a8a8a8" stroke-width="0.45"/>
<line x1="161.30" y1="283.16" x2="162.20" y2="283.16" stroke="#a8a8a8" stroke-width="0.45"/>
<line x1="29.50" y1="280.69" x2="162.20" y2="280.69" stroke="#ececec" stroke-width="0.5"/>
<line x1="29.50" y1="280.69" x2="30.40" y2="280.69" stroke="#a8a8a8" stroke-width="0.45"/>
<line x1="161.30" y1="280.69" x2="162.20" y2="280.69" stroke="#a8a8a8" stroke-width="0.45"/>
<line x1="29.50" y1="278.77" x2="162.20" y2="278.77" stroke="#ececec" stroke-width="0.5"/>
<line x1="29.50" y1="278.77" x2="30.40" y2="278.77" stroke="#a8a8a8" stroke-width="0.45"/>
<line x1="161.30" y1="278.77" x2="162.20" y2="278.77" stroke="#a8a8a8" stroke-width="0.45"/>
<line x1="29.50" y1="277.20" x2="162.20" y2="277.20" stroke="#ececec" stroke-width="0.5"/>
<line x1="29.50" y1="277.20" x2="30.40" y2="277.20" stroke="#a8a8a8" stroke-width="0.45"/>
<line x1="161.30" y1="277.20" x2="162.20" y2="277.20" stroke="#a8a8a8" stroke-width="0.45"/>
<line x1="29.50" y1="275.88" x2="162.20" y2="275.88" stroke="#ececec" stroke-width="0.5"/>
<line x1="29.50" y1="275.88" x2="30.40" y2="275.88" stroke="#a8a8a8" stroke-width="0.45"/>
<line x1="161.30" y1="275.88" x2="162.20" y2="275.88" stroke="#a8a8a8" stroke-width="0.45"/>
<line x1="29.50" y1="274.73" x2="162.20" y2="274.73" stroke="#ececec" stroke-width="0.5"/>
<line x1="29.50" y1="274.73" x2="30.40" y2="274.73" stroke="#a8a8a8" stroke-width="0.45"/>
<line x1="161.30" y1="274.73" x2="162.20" y2="274.73" stroke="#a8a8a8" stroke-width="0.45"/>
<line x1="29.50" y1="273.72" x2="162.20" y2="273.72" stroke="#ececec" stroke-width="0.5"/>
<line x1="29.50" y1="273.72" x2="30.40" y2="273.72" stroke="#a8a8a8" stroke-width="0.45"/>
<line x1="161.30" y1="273.72" x2="162.20" y2="273.72" stroke="#a8a8a8" stroke-width="0.45"/>
<line x1="29.50" y1="272.82" x2="162.20" y2="272.82" stroke="#e4e4e4" stroke-width="0.5"/>
<line x1="29.50" y1="272.82" x2="30.40" y2="272.82" stroke="#a8a8a8" stroke-width="0.45"/>
<line x1="161.30" y1="272.82" x2="162.20" y2="272.82" stroke="#a8a8a8" stroke-width="0.45"/>
<line x1="29.50" y1="266.86" x2="162.20" y2="266.86" stroke="#ececec" stroke-width="0.5"/>
<line x1="29.50" y1="266.86" x2="30.40" y2="266.86" stroke="#a8a8a8" stroke-width="0.45"/>
<line x1="161.30" y1="266.86" x2="162.20" y2="266.86" stroke="#a8a8a8" stroke-width="0.45"/>
<line x1="56.04" y1="265.30" x2="56.04" y2="354.90" stroke="#e6e6e6" stroke-width="0.5"/>
<line x1="82.58" y1="265.30" x2="82.58" y2="354.90" stroke="#e6e6e6" stroke-width="0.5"/>
<line x1="109.12" y1="265.30" x2="109.12" y2="354.90" stroke="#e6e6e6" stroke-width="0.5"/>
<line x1="135.66" y1="265.30" x2="135.66" y2="354.90" stroke="#e6e6e6" stroke-width="0.5"/>
<path d="M29.5 276.5L36.4 323.2L37.8 330.1L39.2 336.4L40.6 341.7L42.1 345.6L43.5 347.7L44.9 348.6L46.3 349.4L47.7 349.9L49.1 350.4L50.5 350.8L51.9 351.1L53.4 351.4L54.8 351.7L56.2 351.9L57.6 352.0L59.0 352.2L60.4 352.3L61.8 352.4L63.3 352.4L64.7 352.5L66.1 352.6L67.5 352.7L68.9 352.7L70.3 352.8L71.7 352.8L73.2 352.9L74.6 352.9L76.0 353.0L77.4 353.0L78.8 353.0L80.2 353.0L81.6 353.0L83.0 353.1L84.5 353.1L85.9 353.1L87.3 353.1L88.7 353.1L90.1 353.1L91.5 353.1L92.9 353.1L94.4 353.1L95.8 353.2L97.2 353.2L98.6 353.2L100.0 353.2L101.4 353.2L102.8 353.2L104.2 353.3L105.7 353.3L107.1 353.3L108.5 353.3L109.9 353.4L111.3 353.4L112.7 353.4L114.1 353.5L115.6 353.5L117.0 353.5L118.4 353.6L119.8 353.6L121.2 353.6L122.6 353.7L124.0 353.7L125.4 353.7L126.9 353.8L128.3 353.8L129.7 353.8L131.1 353.8L132.5 353.8L133.9 353.8L135.3 353.9L136.8 353.9L138.2 353.9L139.6 353.9L141.0 353.9L142.4 353.9L143.8 354.0L145.2 354.0L146.7 354.0L148.1 354.0L149.5 354.0L150.9 354.0L152.3 354.0L153.7 354.1L155.1 354.1L156.5 354.1L158.0 354.1L159.4 354.1L160.8 354.1L162.2 354.1" fill="none" stroke="#000000" stroke-width="1.05" stroke-linejoin="round"/>
<path d="M27.59 275.40L31.41 275.40L29.50 278.70Z" fill="#000000"/>
<path d="M34.57 322.52L38.40 322.52L36.48 325.82Z" fill="#000000"/>
<path d="M41.55 346.55L45.38 346.55L43.47 349.85Z" fill="#000000"/>
<path d="M48.54 349.64L52.37 349.64L50.45 352.94Z" fill="#000000"/>
<path d="M55.52 350.91L59.35 350.91L57.44 354.21Z" fill="#000000"/>
<path d="M62.51 351.41L66.34 351.41L64.42 354.71Z" fill="#000000"/>
<path d="M69.49 351.72L73.32 351.72L71.41 355.02Z" fill="#000000"/>
<path d="M76.48 351.91L80.30 351.91L78.39 355.21Z" fill="#000000"/>
<path d="M83.46 351.98L87.29 351.98L85.37 355.28Z" fill="#000000"/>
<path d="M90.44 352.03L94.27 352.03L92.36 355.33Z" fill="#000000"/>
<path d="M97.43 352.09L101.26 352.09L99.34 355.39Z" fill="#000000"/>
<path d="M104.41 352.20L108.24 352.20L106.33 355.50Z" fill="#000000"/>
<path d="M111.40 352.36L115.22 352.36L113.31 355.66Z" fill="#000000"/>
<path d="M118.38 352.52L122.21 352.52L120.29 355.82Z" fill="#000000"/>
<path d="M125.36 352.66L129.19 352.66L127.28 355.96Z" fill="#000000"/>
<path d="M132.35 352.75L136.18 352.75L134.26 356.05Z" fill="#000000"/>
<path d="M139.33 352.84L143.16 352.84L141.25 356.14Z" fill="#000000"/>
<path d="M146.32 352.91L150.15 352.91L148.23 356.21Z" fill="#000000"/>
<path d="M153.30 352.96L157.13 352.96L155.22 356.26Z" fill="#000000"/>
<path d="M160.29 353.00L164.11 353.00L162.20 356.30Z" fill="#000000"/>
<path d="M29.5 265.5L36.5 275.9L37.9 277.5L39.3 279.2L40.7 281.0L42.1 282.7L43.6 284.6L45.0 286.5L46.4 288.5L47.8 290.6L49.2 292.6L50.6 294.6L52.0 296.5L53.4 298.4L54.9 300.3L56.3 301.9L57.7 303.2L59.1 304.3L60.5 305.3L61.9 306.1L63.3 307.0L64.7 307.8L66.2 308.7L67.6 309.5L69.0 310.3L70.4 311.1L71.8 311.8L73.2 312.5L74.6 313.1L76.0 313.8L77.5 314.4L78.9 315.1L80.3 315.7L81.7 316.3L83.1 317.0L84.5 317.6L85.9 318.3L87.3 319.0L88.8 319.8L90.2 320.5L91.6 321.3L93.0 322.2L94.4 323.1L95.8 324.1L97.2 325.1L98.6 326.0L100.1 326.7L101.5 327.3L102.9 327.8L104.3 328.3L105.7 328.8L107.1 329.3L108.5 329.7L109.9 330.2L111.4 330.7L112.8 331.2L114.2 331.6L115.6 332.1L117.0 332.6L118.4 333.1L119.8 333.5L121.2 334.0L122.7 334.6L124.1 335.1L125.5 335.6L126.9 336.0L128.3 336.4L129.7 336.7L131.1 336.9L132.5 337.2L134.0 337.4L135.4 337.7L136.8 338.0L138.2 338.4L139.6 338.7L141.0 339.0L142.4 339.2L143.8 339.4L145.3 339.6L146.7 339.8L148.1 339.9L149.5 340.1L150.9 340.4L152.3 340.6L153.7 340.8L155.1 341.0L156.6 341.1L158.0 341.3L159.4 341.4L160.8 341.5L162.2 341.6" fill="none" stroke="#ff0000" stroke-width="1.05" stroke-linejoin="round"/>
<circle cx="29.50" cy="265.50" r="1.65" fill="#ff0000"/>
<circle cx="36.48" cy="275.88" r="1.65" fill="#ff0000"/>
<circle cx="43.47" cy="284.46" r="1.65" fill="#ff0000"/>
<circle cx="50.45" cy="294.34" r="1.65" fill="#ff0000"/>
<circle cx="57.44" cy="303.03" r="1.65" fill="#ff0000"/>
<circle cx="64.42" cy="307.61" r="1.65" fill="#ff0000"/>
<circle cx="71.41" cy="311.60" r="1.65" fill="#ff0000"/>
<circle cx="78.39" cy="314.84" r="1.65" fill="#ff0000"/>
<circle cx="85.37" cy="318.04" r="1.65" fill="#ff0000"/>
<circle cx="92.36" cy="321.77" r="1.65" fill="#ff0000"/>
<circle cx="99.34" cy="326.33" r="1.65" fill="#ff0000"/>
<circle cx="106.33" cy="328.97" r="1.65" fill="#ff0000"/>
<circle cx="113.31" cy="331.34" r="1.65" fill="#ff0000"/>
<circle cx="120.29" cy="333.70" r="1.65" fill="#ff0000"/>
<circle cx="127.28" cy="336.14" r="1.65" fill="#ff0000"/>
<circle cx="134.26" cy="337.47" r="1.65" fill="#ff0000"/>
<circle cx="141.25" cy="339.06" r="1.65" fill="#ff0000"/>
<circle cx="148.23" cy="339.96" r="1.65" fill="#ff0000"/>
<circle cx="155.22" cy="340.97" r="1.65" fill="#ff0000"/>
<circle cx="162.20" cy="341.60" r="1.65" fill="#ff0000"/>
<path d="M29.5 265.5L36.5 292.0L37.9 294.2L39.3 296.4L40.7 298.7L42.1 301.0L43.6 303.4L45.0 305.9L46.4 308.5L47.8 311.1L49.2 313.5L50.6 315.8L52.0 317.9L53.4 320.0L54.9 321.9L56.3 323.7L57.7 325.3L59.1 326.9L60.5 328.4L61.9 329.8L63.3 331.1L64.7 332.3L66.2 333.4L67.6 334.4L69.0 335.4L70.4 336.3L71.8 337.1L73.2 337.8L74.6 338.5L76.0 339.2L77.5 339.7L78.9 340.2L80.3 340.6L81.7 340.9L83.1 341.2L84.5 341.5L85.9 341.7L87.3 341.9L88.8 342.1L90.2 342.3L91.6 342.4L93.0 342.5L94.4 342.5L95.8 342.6L97.2 342.7L98.6 342.7L100.1 342.8L101.5 342.8L102.9 342.8L104.3 342.9L105.7 342.9L107.1 342.9L108.5 343.0L109.9 343.0L111.4 343.0L112.8 343.1L114.2 343.1L115.6 343.1L117.0 343.1L118.4 343.2L119.8 343.2L121.2 343.2L122.7 343.2L124.1 343.2L125.5 343.3L126.9 343.3L128.3 343.3L129.7 343.3L131.1 343.4L132.5 343.4L134.0 343.4L135.4 343.4L136.8 343.4L138.2 343.4L139.6 343.5L141.0 343.5L142.4 343.5L143.8 343.5L145.3 343.5L146.7 343.5L148.1 343.5L149.5 343.6L150.9 343.6L152.3 343.6L153.7 343.6L155.1 343.6L156.6 343.6L158.0 343.6L159.4 343.6L160.8 343.6L162.2 343.6" fill="none" stroke="#808020" stroke-width="1.05" stroke-linejoin="round"/>
<path d="M27.59 266.60L31.41 266.60L29.50 263.30Z" fill="#808020"/>
<path d="M34.57 293.04L38.40 293.04L36.48 289.74Z" fill="#808020"/>
<path d="M41.55 304.32L45.38 304.32L43.47 301.02Z" fill="#808020"/>
<path d="M48.54 316.64L52.37 316.64L50.45 313.34Z" fill="#808020"/>
<path d="M55.52 326.16L59.35 326.16L57.44 322.86Z" fill="#808020"/>
<path d="M62.51 333.10L66.34 333.10L64.42 329.80Z" fill="#808020"/>
<path d="M69.49 337.96L73.32 337.96L71.41 334.66Z" fill="#808020"/>
<path d="M76.48 341.13L80.30 341.13L78.39 337.83Z" fill="#808020"/>
<path d="M83.46 342.71L87.29 342.71L85.37 339.41Z" fill="#808020"/>
<path d="M90.44 343.52L94.27 343.52L92.36 340.22Z" fill="#808020"/>
<path d="M97.43 343.83L101.26 343.83L99.34 340.53Z" fill="#808020"/>
<path d="M104.41 344.03L108.24 344.03L106.33 340.73Z" fill="#808020"/>
<path d="M111.40 344.16L115.22 344.16L113.31 340.86Z" fill="#808020"/>
<path d="M118.38 344.28L122.21 344.28L120.29 340.98Z" fill="#808020"/>
<path d="M125.36 344.40L129.19 344.40L127.28 341.10Z" fill="#808020"/>
<path d="M132.35 344.50L136.18 344.50L134.26 341.20Z" fill="#808020"/>
<path d="M139.33 344.58L143.16 344.58L141.25 341.28Z" fill="#808020"/>
<path d="M146.32 344.65L150.15 344.65L148.23 341.35Z" fill="#808020"/>
<path d="M153.30 344.69L157.13 344.69L155.22 341.39Z" fill="#808020"/>
<path d="M160.29 344.70L164.11 344.70L162.20 341.40Z" fill="#808020"/>
<path d="M29.5 267.5L36.4 293.5L37.8 294.8L39.2 295.9L40.6 297.0L42.1 297.8L43.5 298.4L44.9 298.9L46.3 299.3L47.7 299.6L49.1 299.9L50.5 300.1L51.9 300.3L53.4 300.4L54.8 300.5L56.2 300.7L57.6 300.8L59.0 301.1L60.4 301.4L61.8 301.7L63.3 302.0L64.7 302.3L66.1 302.5L67.5 302.6L68.9 302.8L70.3 303.0L71.7 303.2L73.2 303.4L74.6 303.6L76.0 303.9L77.4 304.1L78.8 304.4L80.2 304.6L81.6 304.8L83.0 305.0L84.5 305.2L85.9 305.5L87.3 305.9L88.7 306.3L90.1 306.7L91.5 307.1L92.9 307.5L94.4 307.9L95.8 308.4L97.2 308.8L98.6 309.3L100.0 309.8L101.4 310.4L102.8 311.0L104.2 311.6L105.7 312.2L107.1 312.6L108.5 313.0L109.9 313.3L111.3 313.6L112.7 313.9L114.1 314.2L115.6 314.3L117.0 314.5L118.4 314.7L119.8 314.9L121.2 315.1L122.6 315.3L124.0 315.5L125.4 315.7L126.9 315.8L128.3 315.9L129.7 316.0L131.1 316.1L132.5 316.1L133.9 316.2L135.3 316.2L136.8 316.3L138.2 316.3L139.6 316.3L141.0 316.3L142.4 316.3L143.8 316.3L145.2 316.3L146.7 316.3L148.1 316.3L149.5 316.3L150.9 316.3L152.3 316.3L153.7 316.3L155.1 316.3L156.5 316.3L158.0 316.3L159.4 316.3L160.8 316.3L162.2 316.3" fill="none" stroke="#ee3399" stroke-width="1.05" stroke-linejoin="round"/>
<rect x="28.00" y="266.00" width="3.00" height="3.00" fill="#ee3399"/>
<rect x="34.98" y="292.08" width="3.00" height="3.00" fill="#ee3399"/>
<rect x="41.97" y="296.92" width="3.00" height="3.00" fill="#ee3399"/>
<rect x="48.95" y="298.62" width="3.00" height="3.00" fill="#ee3399"/>
<rect x="55.94" y="299.32" width="3.00" height="3.00" fill="#ee3399"/>
<rect x="62.92" y="300.72" width="3.00" height="3.00" fill="#ee3399"/>
<rect x="69.91" y="301.62" width="3.00" height="3.00" fill="#ee3399"/>
<rect x="76.89" y="302.81" width="3.00" height="3.00" fill="#ee3399"/>
<rect x="83.87" y="303.91" width="3.00" height="3.00" fill="#ee3399"/>
<rect x="90.86" y="305.84" width="3.00" height="3.00" fill="#ee3399"/>
<rect x="97.84" y="308.07" width="3.00" height="3.00" fill="#ee3399"/>
<rect x="104.83" y="310.88" width="3.00" height="3.00" fill="#ee3399"/>
<rect x="111.81" y="312.52" width="3.00" height="3.00" fill="#ee3399"/>
<rect x="118.79" y="313.44" width="3.00" height="3.00" fill="#ee3399"/>
<rect x="125.78" y="314.38" width="3.00" height="3.00" fill="#ee3399"/>
<rect x="132.76" y="314.70" width="3.00" height="3.00" fill="#ee3399"/>
<rect x="139.75" y="314.80" width="3.00" height="3.00" fill="#ee3399"/>
<rect x="146.73" y="314.80" width="3.00" height="3.00" fill="#ee3399"/>
<rect x="153.72" y="314.80" width="3.00" height="3.00" fill="#ee3399"/>
<rect x="160.70" y="314.80" width="3.00" height="3.00" fill="#ee3399"/>
<path d="M29.5 266.0L36.4 300.5L37.8 304.0L39.2 307.2L40.6 310.1L42.1 312.5L43.5 314.5L44.9 316.2L46.3 317.7L47.7 319.0L49.1 320.0L50.5 320.6L51.9 320.9L53.4 321.2L54.8 321.5L56.2 321.7L57.6 321.8L59.0 322.0L60.4 322.1L61.8 322.2L63.3 322.3L64.7 322.3L66.1 322.4L67.5 322.4L68.9 322.4L70.3 322.5L71.7 322.5L73.2 322.6L74.6 322.6L76.0 322.6L77.4 322.7L78.8 322.7L80.2 322.7L81.6 322.8L83.0 322.8L84.5 322.9L85.9 322.9L87.3 322.9L88.7 323.0L90.1 323.0L91.5 323.0L92.9 323.1L94.4 323.1L95.8 323.1L97.2 323.2L98.6 323.2L100.0 323.2L101.4 323.3L102.8 323.3L104.2 323.3L105.7 323.3L107.1 323.4L108.5 323.4L109.9 323.4L111.3 323.5L112.7 323.5L114.1 323.5L115.6 323.6L117.0 323.6L118.4 323.6L119.8 323.6L121.2 323.7L122.6 323.7L124.0 323.7L125.4 323.7L126.9 323.8L128.3 323.8L129.7 323.8L131.1 323.8L132.5 323.8L133.9 323.9L135.3 323.9L136.8 323.9L138.2 323.9L139.6 323.9L141.0 324.0L142.4 324.0L143.8 324.0L145.2 324.0L146.7 324.0L148.1 324.1L149.5 324.1L150.9 324.1L152.3 324.1L153.7 324.1L155.1 324.1L156.5 324.1L158.0 324.2L159.4 324.2L160.8 324.2L162.2 324.2" fill="none" stroke="#00cc66" stroke-width="1.05" stroke-linejoin="round"/>
<path d="M27.59 264.90L31.41 264.90L29.50 268.20Z" fill="#00cc66"/>
<path d="M34.57 299.61L38.40 299.61L36.48 302.91Z" fill="#00cc66"/>
<path d="M41.55 313.38L45.38 313.38L43.47 316.68Z" fill="#00cc66"/>
<path d="M48.54 319.45L52.37 319.45L50.45 322.75Z" fill="#00cc66"/>
<path d="M55.52 320.71L59.35 320.71L57.44 324.01Z" fill="#00cc66"/>
<path d="M62.51 321.20L66.34 321.20L64.42 324.50Z" fill="#00cc66"/>
<path d="M69.49 321.40L73.32 321.40L71.41 324.70Z" fill="#00cc66"/>
<path d="M76.48 321.60L80.30 321.60L78.39 324.90Z" fill="#00cc66"/>
<path d="M83.46 321.79L87.29 321.79L85.37 325.09Z" fill="#00cc66"/>
<path d="M90.44 321.95L94.27 321.95L92.36 325.25Z" fill="#00cc66"/>
<path d="M97.43 322.11L101.26 322.11L99.34 325.41Z" fill="#00cc66"/>
<path d="M104.41 322.26L108.24 322.26L106.33 325.56Z" fill="#00cc66"/>
<path d="M111.40 322.41L115.22 322.41L113.31 325.71Z" fill="#00cc66"/>
<path d="M118.38 322.54L122.21 322.54L120.29 325.84Z" fill="#00cc66"/>
<path d="M125.36 322.66L129.19 322.66L127.28 325.96Z" fill="#00cc66"/>
<path d="M132.35 322.76L136.18 322.76L134.26 326.06Z" fill="#00cc66"/>
<path d="M139.33 322.86L143.16 322.86L141.25 326.16Z" fill="#00cc66"/>
<path d="M146.32 322.95L150.15 322.95L148.23 326.25Z" fill="#00cc66"/>
<path d="M153.30 323.03L157.13 323.03L155.22 326.33Z" fill="#00cc66"/>
<path d="M160.29 323.10L164.11 323.10L162.20 326.40Z" fill="#00cc66"/>
<path d="M29.5 265.5L36.5 271.0L37.9 272.2L39.3 273.5L40.7 274.8L42.1 276.2L43.6 277.7L45.0 279.1L46.4 280.7L47.8 282.3L49.2 283.9L50.6 285.7L52.0 287.5L53.4 289.3L54.9 291.3L56.3 293.4L57.7 295.6L59.1 298.2L60.5 301.2L61.9 304.0L63.3 306.4L64.7 307.9L66.2 309.0L67.6 309.8L69.0 310.6L70.4 311.3L71.8 312.1L73.2 312.8L74.6 313.6L76.0 314.3L77.5 314.9L78.9 315.5L80.3 316.1L81.7 316.6L83.1 317.1L84.5 317.6L85.9 318.1L87.3 318.6L88.8 319.1L90.2 319.6L91.6 319.9L93.0 320.1L94.4 320.3L95.8 320.4L97.2 320.5L98.6 320.6L100.1 320.7L101.5 320.8L102.9 320.9L104.3 321.0L105.7 321.0L107.1 321.1L108.5 321.1L109.9 321.2L111.4 321.3L112.8 321.3L114.2 321.4L115.6 321.4L117.0 321.4L118.4 321.5L119.8 321.5L121.2 321.6L122.7 321.6L124.1 321.7L125.5 321.7L126.9 321.7L128.3 321.8L129.7 321.8L131.1 321.8L132.5 321.9L134.0 321.9L135.4 321.9L136.8 321.9L138.2 322.0L139.6 322.0L141.0 322.0L142.4 322.0L143.8 322.1L145.3 322.1L146.7 322.1L148.1 322.1L149.5 322.2L150.9 322.2L152.3 322.2L153.7 322.2L155.1 322.2L156.6 322.3L158.0 322.3L159.4 322.3L160.8 322.3L162.2 322.3" fill="none" stroke="#e6195a" stroke-width="1.05" stroke-linejoin="round"/>
<circle cx="29.50" cy="265.50" r="1.3" fill="#f280a8" stroke="#e6195a" stroke-width="0.8"/>
<circle cx="36.48" cy="270.99" r="1.3" fill="#f280a8" stroke="#e6195a" stroke-width="0.8"/>
<circle cx="43.47" cy="277.57" r="1.3" fill="#f280a8" stroke="#e6195a" stroke-width="0.8"/>
<circle cx="50.45" cy="285.44" r="1.3" fill="#f280a8" stroke="#e6195a" stroke-width="0.8"/>
<circle cx="57.44" cy="295.16" r="1.3" fill="#f280a8" stroke="#e6195a" stroke-width="0.8"/>
<circle cx="64.42" cy="307.61" r="1.3" fill="#f280a8" stroke="#e6195a" stroke-width="0.8"/>
<circle cx="71.41" cy="311.86" r="1.3" fill="#f280a8" stroke="#e6195a" stroke-width="0.8"/>
<circle cx="78.39" cy="315.34" r="1.3" fill="#f280a8" stroke="#e6195a" stroke-width="0.8"/>
<circle cx="85.37" cy="317.92" r="1.3" fill="#f280a8" stroke="#e6195a" stroke-width="0.8"/>
<circle cx="92.36" cy="320.02" r="1.3" fill="#f280a8" stroke="#e6195a" stroke-width="0.8"/>
<circle cx="99.34" cy="320.68" r="1.3" fill="#f280a8" stroke="#e6195a" stroke-width="0.8"/>
<circle cx="106.33" cy="321.05" r="1.3" fill="#f280a8" stroke="#e6195a" stroke-width="0.8"/>
<circle cx="113.31" cy="321.32" r="1.3" fill="#f280a8" stroke="#e6195a" stroke-width="0.8"/>
<circle cx="120.29" cy="321.55" r="1.3" fill="#f280a8" stroke="#e6195a" stroke-width="0.8"/>
<circle cx="127.28" cy="321.74" r="1.3" fill="#f280a8" stroke="#e6195a" stroke-width="0.8"/>
<circle cx="134.26" cy="321.89" r="1.3" fill="#f280a8" stroke="#e6195a" stroke-width="0.8"/>
<circle cx="141.25" cy="322.02" r="1.3" fill="#f280a8" stroke="#e6195a" stroke-width="0.8"/>
<circle cx="148.23" cy="322.14" r="1.3" fill="#f280a8" stroke="#e6195a" stroke-width="0.8"/>
<circle cx="155.22" cy="322.24" r="1.3" fill="#f280a8" stroke="#e6195a" stroke-width="0.8"/>
<circle cx="162.20" cy="322.30" r="1.3" fill="#f280a8" stroke="#e6195a" stroke-width="0.8"/>
<path d="M29.5 265.5L36.4 290.0L37.8 294.0L39.2 297.9L40.6 301.6L42.1 305.1L43.5 308.5L44.9 311.7L46.3 315.0L47.7 318.0L49.1 320.6L50.5 322.6L51.9 324.2L53.4 325.5L54.8 326.7L56.2 327.9L57.6 328.9L59.0 330.0L60.4 330.9L61.8 331.8L63.3 332.7L64.7 333.5L66.1 334.3L67.5 335.0L68.9 335.7L70.3 336.4L71.7 337.0L73.2 337.6L74.6 338.3L76.0 338.9L77.4 339.4L78.8 339.9L80.2 340.3L81.6 340.7L83.0 341.0L84.5 341.3L85.9 341.6L87.3 341.9L88.7 342.1L90.1 342.3L91.5 342.5L92.9 342.7L94.4 342.9L95.8 343.1L97.2 343.2L98.6 343.4L100.0 343.4L101.4 343.5L102.8 343.6L104.2 343.6L105.7 343.7L107.1 343.7L108.5 343.8L109.9 343.8L111.3 343.8L112.7 343.9L114.1 343.9L115.6 343.9L117.0 344.0L118.4 344.0L119.8 344.0L121.2 344.0L122.6 344.1L124.0 344.1L125.4 344.1L126.9 344.1L128.3 344.2L129.7 344.2L131.1 344.2L132.5 344.2L133.9 344.3L135.3 344.3L136.8 344.3L138.2 344.4L139.6 344.4L141.0 344.4L142.4 344.4L143.8 344.5L145.2 344.5L146.7 344.5L148.1 344.5L149.5 344.5L150.9 344.6L152.3 344.6L153.7 344.6L155.1 344.6L156.5 344.6L158.0 344.7L159.4 344.7L160.8 344.7L162.2 344.7" fill="none" stroke="#5c5cd0" stroke-width="1.05" stroke-linejoin="round"/>
<path d="M27.59 266.60L31.41 266.60L29.50 263.30Z" fill="#5c5cd0"/>
<path d="M34.57 291.34L38.40 291.34L36.48 288.04Z" fill="#5c5cd0"/>
<path d="M41.55 309.56L45.38 309.56L43.47 306.26Z" fill="#5c5cd0"/>
<path d="M48.54 323.59L52.37 323.59L50.45 320.29Z" fill="#5c5cd0"/>
<path d="M55.52 329.90L59.35 329.90L57.44 326.60Z" fill="#5c5cd0"/>
<path d="M62.51 334.47L66.34 334.47L64.42 331.17Z" fill="#5c5cd0"/>
<path d="M69.49 337.95L73.32 337.95L71.41 334.65Z" fill="#5c5cd0"/>
<path d="M76.48 340.83L80.30 340.83L78.39 337.53Z" fill="#5c5cd0"/>
<path d="M83.46 342.61L87.29 342.61L85.37 339.31Z" fill="#5c5cd0"/>
<path d="M90.44 343.71L94.27 343.71L92.36 340.41Z" fill="#5c5cd0"/>
<path d="M97.43 344.50L101.26 344.50L99.34 341.20Z" fill="#5c5cd0"/>
<path d="M104.41 344.79L108.24 344.79L106.33 341.49Z" fill="#5c5cd0"/>
<path d="M111.40 344.98L115.22 344.98L113.31 341.68Z" fill="#5c5cd0"/>
<path d="M118.38 345.12L122.21 345.12L120.29 341.82Z" fill="#5c5cd0"/>
<path d="M125.36 345.25L129.19 345.25L127.28 341.95Z" fill="#5c5cd0"/>
<path d="M132.35 345.38L136.18 345.38L134.26 342.08Z" fill="#5c5cd0"/>
<path d="M139.33 345.51L143.16 345.51L141.25 342.21Z" fill="#5c5cd0"/>
<path d="M146.32 345.62L150.15 345.62L148.23 342.32Z" fill="#5c5cd0"/>
<path d="M153.30 345.72L157.13 345.72L155.22 342.42Z" fill="#5c5cd0"/>
<path d="M160.29 345.80L164.11 345.80L162.20 342.50Z" fill="#5c5cd0"/>
<path d="M29.5 264.9L36.4 305.7L37.8 309.9L39.2 313.8L40.6 317.3L42.1 320.3L43.5 322.9L44.9 325.1L46.3 327.1L47.7 328.8L49.1 330.3L50.5 331.6L51.9 332.6L53.4 333.6L54.8 334.4L56.2 335.1L57.6 335.9L59.0 336.6L60.4 337.3L61.8 337.9L63.3 338.5L64.7 339.0L66.1 339.5L67.5 340.0L68.9 340.5L70.3 340.9L71.7 341.2L73.2 341.5L74.6 341.8L76.0 342.1L77.4 342.3L78.8 342.6L80.2 342.8L81.6 343.1L83.0 343.3L84.5 343.5L85.9 343.7L87.3 343.8L88.7 343.9L90.1 344.0L91.5 344.1L92.9 344.2L94.4 344.3L95.8 344.3L97.2 344.4L98.6 344.5L100.0 344.5L101.4 344.5L102.8 344.6L104.2 344.6L105.7 344.7L107.1 344.7L108.5 344.7L109.9 344.8L111.3 344.8L112.7 344.8L114.1 344.9L115.6 344.9L117.0 344.9L118.4 344.9L119.8 345.0L121.2 345.0L122.6 345.0L124.0 345.0L125.4 345.0L126.9 345.1L128.3 345.1L129.7 345.1L131.1 345.1L132.5 345.1L133.9 345.1L135.3 345.2L136.8 345.2L138.2 345.2L139.6 345.2L141.0 345.2L142.4 345.2L143.8 345.3L145.2 345.3L146.7 345.3L148.1 345.3L149.5 345.3L150.9 345.3L152.3 345.3L153.7 345.4L155.1 345.4L156.5 345.4L158.0 345.4L159.4 345.4L160.8 345.4L162.2 345.4" fill="none" stroke="#b4b4b4" stroke-width="1.05" stroke-linejoin="round"/>
<path d="M29.50 262.80L31.10 264.90L29.50 267.00L27.90 264.90Z" fill="#b4b4b4"/>
<path d="M36.48 303.86L38.08 305.96L36.48 308.06L34.88 305.96Z" fill="#b4b4b4"/>
<path d="M43.47 320.81L45.07 322.91L43.47 325.01L41.87 322.91Z" fill="#b4b4b4"/>
<path d="M50.45 329.42L52.05 331.52L50.45 333.62L48.85 331.52Z" fill="#b4b4b4"/>
<path d="M57.44 333.67L59.04 335.77L57.44 337.87L55.84 335.77Z" fill="#b4b4b4"/>
<path d="M64.42 336.84L66.02 338.94L64.42 341.04L62.82 338.94Z" fill="#b4b4b4"/>
<path d="M71.41 339.03L73.01 341.13L71.41 343.23L69.81 341.13Z" fill="#b4b4b4"/>
<path d="M78.39 340.42L79.99 342.52L78.39 344.62L76.79 342.52Z" fill="#b4b4b4"/>
<path d="M85.37 341.51L86.97 343.61L85.37 345.71L83.77 343.61Z" fill="#b4b4b4"/>
<path d="M92.36 342.04L93.96 344.14L92.36 346.24L90.76 344.14Z" fill="#b4b4b4"/>
<path d="M99.34 342.38L100.94 344.48L99.34 346.58L97.74 344.48Z" fill="#b4b4b4"/>
<path d="M106.33 342.58L107.93 344.68L106.33 346.78L104.73 344.68Z" fill="#b4b4b4"/>
<path d="M113.31 342.74L114.91 344.84L113.31 346.94L111.71 344.84Z" fill="#b4b4b4"/>
<path d="M120.29 342.86L121.89 344.96L120.29 347.06L118.69 344.96Z" fill="#b4b4b4"/>
<path d="M127.28 342.96L128.88 345.06L127.28 347.16L125.68 345.06Z" fill="#b4b4b4"/>
<path d="M134.26 343.05L135.86 345.15L134.26 347.25L132.66 345.15Z" fill="#b4b4b4"/>
<path d="M141.25 343.14L142.85 345.24L141.25 347.34L139.65 345.24Z" fill="#b4b4b4"/>
<path d="M148.23 343.21L149.83 345.31L148.23 347.41L146.63 345.31Z" fill="#b4b4b4"/>
<path d="M155.22 343.26L156.82 345.36L155.22 347.46L153.62 345.36Z" fill="#b4b4b4"/>
<path d="M162.20 343.30L163.80 345.40L162.20 347.50L160.60 345.40Z" fill="#b4b4b4"/>
<rect x="29.50" y="265.30" width="132.70" height="89.60" fill="none" stroke="#a0a0a0" stroke-width="0.6"/>
<line x1="29.50" y1="354.90" x2="29.50" y2="353.70" stroke="#a0a0a0" stroke-width="0.5"/>
<line x1="29.50" y1="265.30" x2="29.50" y2="266.50" stroke="#a0a0a0" stroke-width="0.5"/>
<text class="s" x="29.50" y="362.60" font-size="5.27" text-anchor="middle" fill="#262626">0</text>
<line x1="56.04" y1="354.90" x2="56.04" y2="353.70" stroke="#a0a0a0" stroke-width="0.5"/>
<line x1="56.04" y1="265.30" x2="56.04" y2="266.50" stroke="#a0a0a0" stroke-width="0.5"/>
<text class="s" x="56.04" y="362.60" font-size="5.27" text-anchor="middle" fill="#262626">200</text>
<line x1="82.58" y1="354.90" x2="82.58" y2="353.70" stroke="#a0a0a0" stroke-width="0.5"/>
<line x1="82.58" y1="265.30" x2="82.58" y2="266.50" stroke="#a0a0a0" stroke-width="0.5"/>
<text class="s" x="82.58" y="362.60" font-size="5.27" text-anchor="middle" fill="#262626">400</text>
<line x1="109.12" y1="354.90" x2="109.12" y2="353.70" stroke="#a0a0a0" stroke-width="0.5"/>
<line x1="109.12" y1="265.30" x2="109.12" y2="266.50" stroke="#a0a0a0" stroke-width="0.5"/>
<text class="s" x="109.12" y="362.60" font-size="5.27" text-anchor="middle" fill="#262626">600</text>
<line x1="135.66" y1="354.90" x2="135.66" y2="353.70" stroke="#a0a0a0" stroke-width="0.5"/>
<line x1="135.66" y1="265.30" x2="135.66" y2="266.50" stroke="#a0a0a0" stroke-width="0.5"/>
<text class="s" x="135.66" y="362.60" font-size="5.27" text-anchor="middle" fill="#262626">800</text>
<line x1="162.20" y1="354.90" x2="162.20" y2="353.70" stroke="#a0a0a0" stroke-width="0.5"/>
<line x1="162.20" y1="265.30" x2="162.20" y2="266.50" stroke="#a0a0a0" stroke-width="0.5"/>
<text class="s" x="162.20" y="362.60" font-size="5.27" text-anchor="middle" fill="#262626">1000</text>
<text class="s" x="20.00" y="353.93" font-size="5.2" textLength="4.65" lengthAdjust="spacingAndGlyphs" fill="#262626">10</text>
<text class="s" x="25.80" y="351.03" font-size="3.6" textLength="1.7" lengthAdjust="spacingAndGlyphs" fill="#262626">6</text>
<line x1="29.50" y1="351.93" x2="30.70" y2="351.93" stroke="#a0a0a0" stroke-width="0.5"/>
<line x1="162.20" y1="351.93" x2="161.00" y2="351.93" stroke="#a0a0a0" stroke-width="0.5"/>
<text class="s" x="20.00" y="314.37" font-size="5.2" textLength="4.65" lengthAdjust="spacingAndGlyphs" fill="#262626">10</text>
<text class="s" x="25.80" y="311.47" font-size="3.6" textLength="1.7" lengthAdjust="spacingAndGlyphs" fill="#262626">8</text>
<line x1="29.50" y1="312.37" x2="30.70" y2="312.37" stroke="#a0a0a0" stroke-width="0.5"/>
<line x1="162.20" y1="312.37" x2="161.00" y2="312.37" stroke="#a0a0a0" stroke-width="0.5"/>
<text class="s" x="18.20" y="274.82" font-size="5.2" textLength="4.65" lengthAdjust="spacingAndGlyphs" fill="#262626">10</text>
<text class="s" x="24.20" y="271.92" font-size="3.6" textLength="3.0" lengthAdjust="spacingAndGlyphs" fill="#262626">10</text>
<line x1="29.50" y1="272.82" x2="30.70" y2="272.82" stroke="#a0a0a0" stroke-width="0.5"/>
<line x1="162.20" y1="272.82" x2="161.00" y2="272.82" stroke="#a0a0a0" stroke-width="0.5"/>
<text class="s" x="95.85" y="263.70" font-size="5.8" text-anchor="middle" fill="#1a1a1a">CEC2017 F29 Dim=50</text>
<text class="s" x="95.85" y="369.50" font-size="5.8" text-anchor="middle" fill="#1a1a1a">Iterations</text>
<text class="s" transform="translate(14.10,310.10) rotate(-90)" x="0" y="0" font-size="5.8" text-anchor="middle" fill="#1a1a1a">Average Fitness</text>
<rect x="215.6" y="289.2" width="298.2" height="44.5" fill="#fff" stroke="#8c8c8c" stroke-width="0.9"/>
<line x1="218.00" y1="301.00" x2="244.50" y2="301.00" stroke="#000000" stroke-width="1.8"/>
<circle cx="231.20" cy="301.00" r="3.4" fill="#000000"/>
<text x="246.70" y="306.25" font-size="12.6" fill="#000" stroke="#000" stroke-width="0.2">EMSMA</text>
<line x1="297.60" y1="301.00" x2="324.10" y2="301.00" stroke="#ff0000" stroke-width="1.8"/>
<circle cx="310.80" cy="301.00" r="3.4" fill="#ff0000"/>
<text x="326.30" y="306.25" font-size="12.6" fill="#000" stroke="#000" stroke-width="0.2">SMA</text>
<line x1="365.50" y1="301.00" x2="392.00" y2="301.00" stroke="#808020" stroke-width="1.8"/>
<circle cx="378.70" cy="301.00" r="3.4" fill="#808020"/>
<text x="394.20" y="306.25" font-size="12.6" fill="#000" stroke="#000" stroke-width="0.2">DTSMA</text>
<line x1="443.30" y1="301.00" x2="469.80" y2="301.00" stroke="#ee3399" stroke-width="1.8"/>
<circle cx="456.50" cy="301.00" r="3.4" fill="#ee3399"/>
<text x="472.00" y="306.25" font-size="12.6" fill="#000" stroke="#000" stroke-width="0.2">ISMA</text>
<line x1="218.00" y1="321.70" x2="244.50" y2="321.70" stroke="#00cc66" stroke-width="1.8"/>
<circle cx="231.20" cy="321.70" r="3.4" fill="#00cc66"/>
<text x="246.70" y="326.95" font-size="12.6" fill="#000" stroke="#000" stroke-width="0.2">AOSMA</text>
<line x1="297.60" y1="321.70" x2="324.10" y2="321.70" stroke="#e6195a" stroke-width="1.8"/>
<circle cx="310.80" cy="321.70" r="3.4" fill="#e6195a"/>
<text x="326.30" y="326.95" font-size="12.6" fill="#000" stroke="#000" stroke-width="0.2">LSMA</text>
<line x1="365.50" y1="321.70" x2="392.00" y2="321.70" stroke="#5c5cd0" stroke-width="1.8"/>
<circle cx="378.70" cy="321.70" r="3.4" fill="#5c5cd0"/>
<text x="394.20" y="326.95" font-size="12.6" fill="#000" stroke="#000" stroke-width="0.2">ESMA</text>
<line x1="443.30" y1="321.70" x2="469.80" y2="321.70" stroke="#b4b4b4" stroke-width="1.8"/>
<circle cx="456.50" cy="321.70" r="3.4" fill="#b4b4b4"/>
<text x="472.00" y="326.95" font-size="12.6" fill="#000" stroke="#000" stroke-width="0.2">MSMA</text>
<rect x="1.7" y="1.7" width="546.4" height="374.7" fill="none" stroke="#555" stroke-width="1.3"/>
<line x1="184.0" y1="1.7" x2="184.0" y2="376.4" stroke="#555" stroke-width="1.3"/>
<line x1="366.1" y1="1.7" x2="366.1" y2="251.5" stroke="#555" stroke-width="1.3"/>
<line x1="1.7" y1="126.5" x2="548.1" y2="126.5" stroke="#555" stroke-width="1.3"/>
<line x1="1.7" y1="251.5" x2="548.1" y2="251.5" stroke="#555" stroke-width="1.3"/>
</svg>
</body></html>
